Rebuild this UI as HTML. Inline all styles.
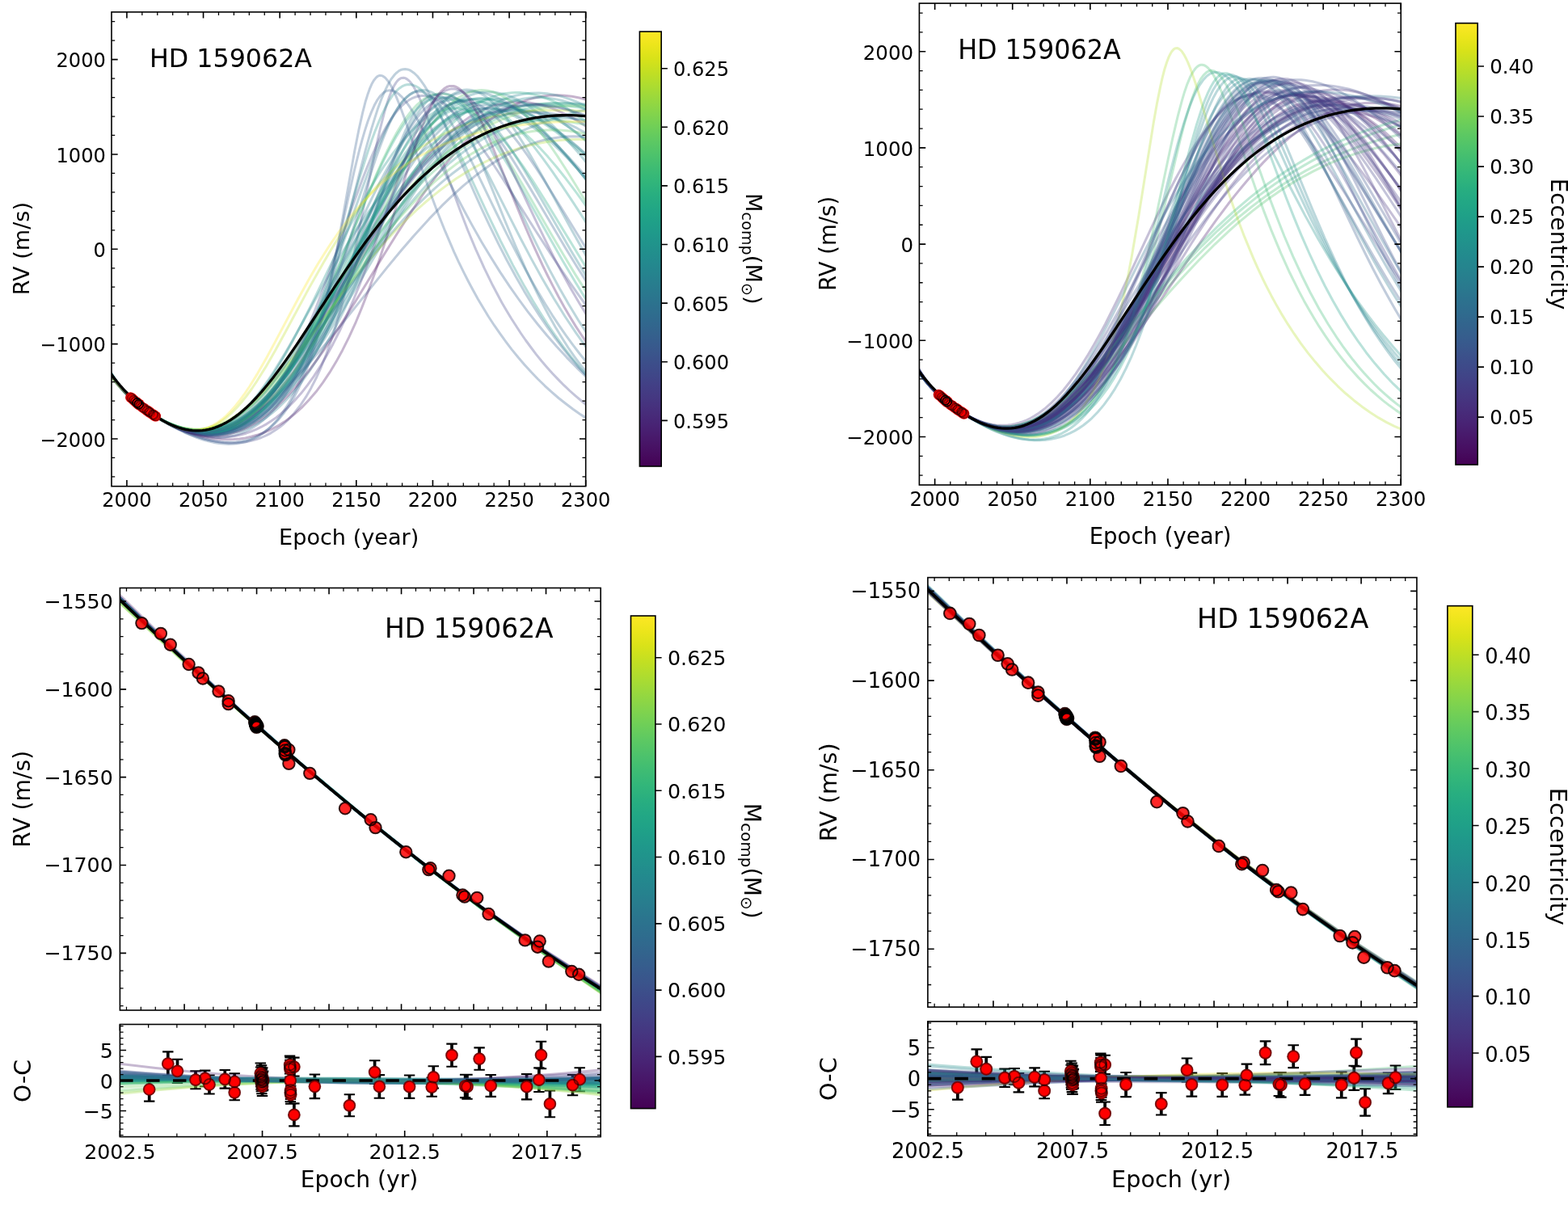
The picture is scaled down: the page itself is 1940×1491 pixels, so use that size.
<!DOCTYPE html>
<html lang="en"><head><meta charset="utf-8"><title>HD 159062A RV orbit</title>
<style>html,body{margin:0;padding:0;background:#fff;overflow:hidden}svg{display:block}text{font-family:'DejaVu Sans','Liberation Sans',sans-serif;fill:#000}</style></head><body>
<svg width="1940" height="1491" viewBox="0 0 1940 1491">
<defs>
<linearGradient id="vir" x1="0" y1="0" x2="0" y2="1"><stop offset="0" stop-color="#fde725"/><stop offset="0.0312" stop-color="#ece51b"/><stop offset="0.0625" stop-color="#d8e219"/><stop offset="0.0938" stop-color="#c2df23"/><stop offset="0.125" stop-color="#addc30"/><stop offset="0.1562" stop-color="#98d83e"/><stop offset="0.1875" stop-color="#84d44b"/><stop offset="0.2188" stop-color="#70cf57"/><stop offset="0.25" stop-color="#5ec962"/><stop offset="0.2812" stop-color="#4ec36b"/><stop offset="0.3125" stop-color="#3fbc73"/><stop offset="0.3438" stop-color="#32b67a"/><stop offset="0.375" stop-color="#28ae80"/><stop offset="0.4062" stop-color="#22a785"/><stop offset="0.4375" stop-color="#1fa088"/><stop offset="0.4688" stop-color="#1f988b"/><stop offset="0.5" stop-color="#21918c"/><stop offset="0.5312" stop-color="#23898e"/><stop offset="0.5625" stop-color="#26828e"/><stop offset="0.5938" stop-color="#297a8e"/><stop offset="0.625" stop-color="#2c728e"/><stop offset="0.6562" stop-color="#2f6b8e"/><stop offset="0.6875" stop-color="#33638d"/><stop offset="0.7188" stop-color="#375b8d"/><stop offset="0.75" stop-color="#3b528b"/><stop offset="0.7812" stop-color="#3e4989"/><stop offset="0.8125" stop-color="#424086"/><stop offset="0.8438" stop-color="#453781"/><stop offset="0.875" stop-color="#472d7b"/><stop offset="0.9062" stop-color="#482374"/><stop offset="0.9375" stop-color="#48186a"/><stop offset="0.9688" stop-color="#470d60"/><stop offset="1" stop-color="#440154"/></linearGradient>
<clipPath id="clipT"><rect x="138" y="14.9" width="586.7" height="586.8"/></clipPath>
<clipPath id="clipM"><rect x="148.4" y="727.5" width="594.8" height="522.5"/></clipPath>
<clipPath id="clipR"><rect x="148.4" y="1267.5" width="594.8" height="139.1"/></clipPath>
</defs>
<rect width="1940" height="1491" fill="#fff"/>
<g id="panel-tl">
<g clip-path="url(#clipT)">
<g stroke-width="3" stroke-opacity="0.31" fill="none" stroke-linejoin="round">
<polyline points="136.1,463.1 144.6,474.3 152.5,483.2 159.8,490.2 170.3,498.9 184.1,509.3 196.5,517.7 202.4,521.3 208.4,524.5 214.3,527.4 219.5,529.7 228.7,533 233.3,534.2 237.9,535.3 242.5,536 247.1,536.5 251.7,536.6 255.6,536.6 260.2,536.2 264.8,535.5 269.4,534.5 273.4,533.5 277.3,532.1 281.9,530.3 290.5,526.1 296.4,522.6 302.9,518.1 308.9,513.5 315.4,507.9 321.3,502.4 327.9,495.8 334.5,488.7 341.7,480.4 354.2,465 368.6,445.8 383.7,424.7 417.2,376.7 433,354.5 449.4,332.2 465.2,311.7 474.4,300.3 483.6,289.3 492.8,278.8 501.3,269.3 509.8,260.3 519,251 528.2,242.1 537.4,233.6 547.9,224.4 558.4,215.8 569,207.7 580.1,199.6 591.3,192.1 602.5,185 613.6,178.5 625.4,172.1 637.3,166.2 649.1,160.7 661.6,155.5 674,150.7 686.5,146.3 699.7,142.2 712.8,138.5 726.6,135.1" stroke="#2b758e"/>
<polyline points="136.1,463.3 143.3,472.9 150.6,481.3 157.8,488.5 165.7,495.2 179.5,506 191.9,514.8 203.1,521.5 209,524.7 214.3,527.1 222.8,530.5 231.3,532.9 235.9,533.8 239.9,534.3 243.8,534.6 247.8,534.7 251.7,534.5 255.6,534 259.6,533.3 263.5,532.3 267.5,531 271.4,529.4 278.6,525.8 284.5,522.2 290.5,517.8 296.4,512.8 302.3,507.2 308.2,501 314.1,494.1 320,486.7 326.6,477.8 332.5,469.3 339.1,459.3 352.2,437.9 366.7,412.8 398.8,354.9 413.9,328.4 430.4,300.9 438.2,288.4 445.5,277.4 454.7,264 463.2,252.2 471.7,241.1 480.9,229.8 489.5,220 498.7,210.1 507.9,201 517.1,192.5 527.6,183.6 538.7,175.1 549.9,167.5 561.7,160.3 573.6,154.1 586,148.3 598.5,143.4 611,139.2 624.1,135.7 637.3,132.8 651.1,130.6 665.5,128.9 680,128 695.1,127.7 710.8,128.1 726.6,129.2" stroke="#26828e"/>
<polyline points="136.1,462.9 144,473.4 151.9,482.5 159.1,489.6 168.9,497.8 182.7,508.4 195.2,516.9 201.1,520.5 207,523.8 213,526.9 218.9,529.5 228.1,532.9 232.7,534.3 237.3,535.4 241.9,536.2 246.5,536.8 251.1,537 255,537 259.6,536.7 263.5,536.2 268.1,535.4 272.1,534.4 276.7,532.9 280.6,531.3 285.2,529.2 289.1,527.2 295.7,523.2 302.3,518.4 308.9,513 316.1,506.3 322.6,499.5 329.9,491.3 336.4,483.2 343.7,473.6 350.2,464.4 357.5,453.7 371.9,431 387.7,404.5 421.2,346.5 436.3,320.8 452.7,294.1 467.8,271.1 477,257.8 485.5,246.1 494.1,235 502.6,224.5 511.2,214.6 519.7,205.4 528.2,196.7 537.4,188 547.9,178.9 558.4,170.7 569,163.3 579.5,156.8 590.6,150.6 601.8,145.3 613,140.8 624.8,136.8 636.6,133.6 648.4,131.1 660.9,129.3 673.4,128.2 686.5,127.7 699.7,128 712.8,129 726.6,130.7" stroke="#27ad81"/>
<polyline points="136.1,458.8 140.7,466.2 145.3,472.9 149.9,479 154.5,484.5 159.1,489.3 163.7,493.6 170.3,499.2 177.5,504.9 184.1,509.6 191.3,514.3 198.5,518.5 205.7,522.3 212.3,525.2 219.5,528.1 226.7,530.4 234,532.3 241.2,533.7 247.8,534.5 254.3,535 260.9,535.1 267.5,534.7 274,534 280.6,532.8 287.2,531.2 293.7,529.1 299.7,526.9 306.2,523.9 312.1,520.9 318.7,517 324.6,513.1 330.5,508.7 336.4,503.9 345,496.2 353.5,487.4 362.1,477.5 369.9,467.4 377.8,456.2 385.7,444 393.6,430.7 401.5,416.2 410,399.2 417.9,382.3 426.4,362.6 435,341.6 442.8,321.1 451.4,297.9 477,225.1 485.5,201.5 494.1,179.4 502,160.9 507.2,150 511.8,141.6 516.4,134.3 521,128.2 525.6,123.4 528.2,121.3 530.2,120 532.8,118.7 534.8,118 536.8,117.6 538.7,117.5 540.7,117.6 542.7,117.9 546.6,119.4 550.6,121.9 554.5,125.3 558.4,129.6 563,135.6 567.6,142.7 572.2,150.7 580.1,166.1 589.3,186.4 599.2,209.8 624.1,271.5 637.3,303.1 651.1,334.3 664.2,361.9 672.1,377.4 679.3,390.8 687.2,404.7 695.1,417.7 702.9,430 710.8,441.4 718.7,452.1 726.6,462" stroke="#2c718e"/>
<polyline points="136.1,461.5 140.7,468.3 146,475.3 151.2,481.6 156.5,487.1 161.1,491.3 169.6,498.4 177.5,504.5 186,510.6 194.6,516.3 203.1,521.5 211.6,526.3 220.2,530.7 228.7,534.5 237.3,538 245.8,540.9 254.3,543.4 262.2,545.3 269.4,546.6 276.7,547.5 283.9,547.9 291.1,548 297.7,547.6 304.3,546.7 310.8,545.4 317.4,543.6 323.3,541.5 329.2,538.9 335.1,535.8 341,532.1 346.3,528.3 351.5,524 356.8,519.1 364,511.2 371.3,502 378.5,491.2 385,479.9 391.6,467 397.5,453.8 403.4,439 409.3,422.5 415.3,404 421.2,383.6 426.4,363.8 432.3,339.5 437.6,316.3 442.8,291.7 459.9,207.3 465.2,182.3 470.4,159.1 475.7,138.6 479,127.5 481.6,119.8 484.9,111.6 487.5,106.3 490.1,102.1 491.4,100.4 493.4,98.4 496,96.8 497.4,96.4 499.3,96.2 501.3,96.6 503.9,98.1 506.6,100.4 509.2,103.5 511.8,107.4 514.4,112 517.1,117.2 520.3,124.4 524.9,135.5 530.2,149.4 536.1,166 552.5,213.8 561.1,238.1 570.3,263.1 578.8,285 588.7,308.6 599.2,331.9 609.7,353.3 620.8,374.2 626.8,384.4 632.7,394.2 644.5,412.5 650.4,421 657,430 663.5,438.6 670.1,446.7 676.7,454.4 683.9,462.5 690.5,469.4 697.7,476.7 704.9,483.5 712.1,489.9 719.4,496 726.6,501.8" stroke="#414487"/>
<polyline points="136.1,460.6 144,472 147.9,477.1 151.9,481.8 159.1,489.4 168.3,497.4 174.9,502.7 180.8,507.1 186.7,511.2 192.6,515 198.5,518.5 204.4,521.6 210.3,524.4 215.6,526.6 220.8,528.4 226.1,530 231.3,531.3 235.9,532.2 241.2,532.9 246.5,533.3 251.1,533.4 256.3,533.2 260.9,532.8 266.2,532.1 271.4,531.1 276.7,529.7 281.3,528.3 286.5,526.5 291.8,524.3 297,521.9 304.9,517.7 313.5,512.5 322,506.6 330.5,500.1 339.1,493 348.3,484.8 357.5,475.9 367.3,465.8 375.8,456.7 384.4,447.2 404.1,424.1 423.8,399.9 479,330.9 496.7,309.5 512.5,291.2 530.9,270.9 547.9,253.4 556.5,245.1 564.4,237.8 572.9,230.2 580.8,223.6 590.6,215.7 599.8,208.9 609,202.6 618.2,196.8 627.4,191.6 636.6,186.8 645.8,182.6 655,178.9 664.2,175.8 673.4,173.3 682.6,171.3 691.1,170 700.3,169.1 708.9,168.8 718.1,169 726.6,169.7" stroke="#375a8c"/>
<polyline points="136.1,462.2 144,473 147.9,477.9 151.9,482.4 159.1,489.7 168.9,498.1 181.4,507.7 188,512.3 193.9,516.2 199.8,519.7 205.7,523 211.6,525.9 217.6,528.5 222.8,530.5 227.4,532 232.7,533.4 237.3,534.4 241.9,535.2 246.5,535.7 251.1,535.9 255.6,535.8 260.2,535.5 264.8,534.9 269.4,534 274,532.8 278.6,531.3 283.2,529.5 291.8,525.4 299,521.1 306.9,515.6 314.1,509.8 322,502.6 329.9,494.6 337.8,485.8 345.6,476.3 353.5,466 360.7,456 368.6,444.6 377.2,431.5 385.7,418 402.8,389.7 438.2,329 454,302.5 470.4,276 485.5,253.1 494.1,240.8 502.6,229.1 511.2,218 519.7,207.6 528.2,197.8 536.8,188.6 545.3,180.2 553.2,173 563,164.7 572.9,157.4 582.7,151 593.3,145.1 603.8,140.1 614.3,136.1 624.8,133 635.3,130.8 645.8,129.4 657,128.9 668.1,129.2 679.3,130.3 690.5,132.2 702.3,135.1 714.1,138.8 726.6,143.6" stroke="#30698e"/>
<polyline points="136.1,460.8 141.4,468.6 146,474.8 150.6,480.4 155.2,485.5 159.8,490 165.7,495.2 172.9,501.1 180.1,506.5 187.3,511.6 194.6,516.3 201.8,520.5 209,524.3 216.2,527.7 223.5,530.6 230.7,533.1 237.9,535.2 244.5,536.6 251.1,537.7 257.6,538.4 263.5,538.6 270.1,538.5 276,538 282.6,537.1 288.5,535.8 295.1,534 301,532 306.9,529.6 312.8,526.8 318.7,523.5 324.6,519.9 330.5,515.8 336.4,511.3 341.7,506.9 346.3,502.7 355.5,493.5 364.7,483.2 373.9,471.7 383.1,458.9 392.3,444.9 401.5,429.6 410.7,413.1 418.5,398 426.4,382 434.3,365.2 442.8,346.3 458,311.1 490.1,233.5 503.3,203.4 509.8,189.2 515.8,177.1 521.7,165.8 526.9,156.4 532.8,146.8 538.1,139.1 544,131.5 549.2,125.7 555.2,120.3 560.4,116.5 565.7,113.8 570.9,111.9 574.2,111.3 577.5,111.1 580.8,111.2 584.1,111.7 587.3,112.5 590.6,113.7 593.9,115.2 597.2,117.1 600.5,119.3 604.4,122.3 607.7,125.1 611.6,128.9 618.9,136.7 626.8,146.6 634,156.6 641.2,167.5 649.1,180.1 658.3,195.7 672.1,220.1 708.2,286.2 726.6,319" stroke="#297a8e"/>
<polyline points="136.1,462.5 143.3,472.3 150.6,481 157.8,488.4 165.7,495.2 178.8,505.5 185.4,510.2 191.9,514.7 203.8,521.9 209.7,525 215.6,527.8 225.4,531.8 234.6,534.6 239.2,535.6 243.8,536.4 252.4,537.2 257,537.3 260.9,537.1 265.5,536.6 269.4,536 274,534.9 278,533.8 282.6,532.2 286.5,530.5 291.1,528.3 295.1,526.1 302.9,520.9 310.8,514.8 318.7,507.6 326.6,499.4 335.1,489.3 343,478.9 351.5,466.6 359.4,454.3 367.3,441.1 375.8,425.9 384.4,410 401.5,376.2 435,306.9 448.8,279.1 463.9,250.2 471.1,237.2 477.7,225.9 486.2,212 494.1,200 502,188.9 509.8,178.7 517.7,169.5 524.9,161.8 532.8,154.4 540.7,147.8 545.3,144.5 550.6,141 555.2,138.3 560.4,135.6 565,133.5 570.3,131.5 574.9,130 580.1,128.7 585.4,127.7 590.6,127.1 595.9,126.8 601.1,126.8 606.4,127.1 611.6,127.7 616.9,128.5 622.8,129.9 628.1,131.3 634,133.2 639.9,135.5 645.8,138 651.7,140.8 658.3,144.2 670.8,151.5 683.9,160.3 697.7,170.6 711.5,181.9 726.6,195.1" stroke="#1f948c"/>
<polyline points="136.1,462.1 144,473 147.9,477.9 151.9,482.4 159.1,489.7 168.3,497.5 174.9,502.6 181.4,507.5 188,512 193.9,515.8 199.8,519.4 205.7,522.6 211.6,525.4 217.6,528 222.8,530 228.1,531.7 233.3,533.1 237.9,534.1 243.2,534.9 247.8,535.4 252.4,535.7 257,535.6 262.2,535.3 266.8,534.7 271.4,533.9 276,532.8 280.6,531.4 285.2,529.8 289.8,527.8 294.4,525.6 302.3,521.2 310.8,515.4 319.4,508.7 327.9,501 336.4,492.3 345,482.8 353.5,472.4 362.7,460.3 370.6,449.2 379.1,436.5 388.3,422.1 397.5,407.1 415.9,375.7 452,311.8 467.1,285.6 482.9,259.3 497.4,236.7 505.9,224.1 514.4,212.1 523,200.9 530.9,191.1 538.7,182 546.6,173.6 554.5,165.8 562.4,158.8 571.6,151.4 581.4,144.6 590.6,139.3 595.2,136.9 600.5,134.6 605.1,132.8 610.3,130.9 614.9,129.6 620.2,128.4 624.8,127.5 630,126.8 639.9,126.2 649.7,126.5 655,127.1 660.3,127.9 670.8,130.2 676,131.7 681.9,133.7 692.4,138 703.6,143.4 714.8,149.7 726.6,157.2" stroke="#481c6e"/>
<polyline points="136.1,459.9 140.7,466.9 145.3,473.4 149.9,479.3 153.8,483.8 157.8,488 161.1,491.1 167.6,496.8 174.2,502.2 180.8,507.1 187.3,511.6 193.9,515.8 200.5,519.5 207,522.8 213,525.4 219.5,527.8 225.4,529.7 231.3,531.1 236.6,532.1 242.5,532.8 247.8,533.1 253.7,533 258.9,532.6 264.2,531.8 269.4,530.7 274.7,529.2 280,527.4 285.2,525.2 290.5,522.6 295.7,519.6 301,516.2 306.2,512.4 311.5,508.2 320,500.4 328.6,491.6 337.1,481.5 345,471.2 352.9,459.8 361.4,446.4 369.3,433 377.8,417.3 385,403.3 392.3,388.4 399.5,372.9 407.4,355.3 421.2,323.2 452,249 465.8,217.4 472.4,203.2 479,189.9 484.9,178.6 490.8,168.1 497.4,157.5 503.9,148.2 510.5,140.1 516.4,134 522.3,129 528.2,125.2 530.9,123.9 534.1,122.5 537.4,121.5 540.7,120.9 544,120.6 547.9,120.7 551.2,121.2 555.2,122.1 558.4,123.3 562.4,125.1 565.7,126.9 569.6,129.5 572.9,131.9 576.8,135.2 580.8,138.8 584.7,142.8 593.3,152.5 601.8,163.5 608.4,172.7 615.6,183.5 623.5,195.9 632,209.9 647.8,237.1 681.3,296.5 696.4,322.9 712.1,349.5 726.6,372.9" stroke="#20a486"/>
<polyline points="136.1,461.6 140.7,468.2 144.6,473.4 149.2,479.1 153.2,483.5 160.4,490.6 172.2,500.5 178.8,505.6 185.4,510.3 191.9,514.7 197.8,518.3 203.8,521.6 209.7,524.5 215.6,527.1 220.8,529 226.1,530.6 230.7,531.7 235.9,532.7 240.5,533.2 245.1,533.4 249.7,533.3 254.3,532.9 258.9,532.1 263.5,531 268.1,529.6 272.7,527.9 276.7,526.1 281.3,523.6 285.9,520.8 290.5,517.7 294.4,514.6 301,509 307.5,502.6 314.1,495.4 321.3,486.7 328.6,477 335.8,466.5 343,455.3 350.2,443.3 362.7,420.9 375.8,395.7 389,369.3 421.8,301.7 431.7,282 440.2,265.5 449.4,248.4 458.6,232.2 467.8,217 476.3,203.8 486.2,189.7 495.4,177.8 504.6,167.1 513.8,157.7 523,149.4 532.2,142.3 541.4,136.3 546,133.7 551.2,131.1 555.8,129.2 560.4,127.5 565,126 570.3,124.6 579.5,123 584.1,122.6 589.3,122.3 593.9,122.3 599.2,122.6 609,123.9 619.5,126.2 630,129.4 641.2,133.8 652.4,139.2 663.5,145.3 675.4,152.7 687.8,161.3 700.3,170.7 713.5,181.4 726.6,192.9" stroke="#20928c"/>
<polyline points="136.1,460.4 140.7,467.4 145.3,473.7 149.9,479.5 154.5,484.8 159.1,489.4 163.7,493.5 170.9,499.5 178.1,505.1 185.4,510.3 192.6,515.1 199.8,519.4 206.4,522.9 213.6,526.4 220.2,529.1 227.4,531.7 234,533.5 240.5,535 246.5,536 252.4,536.5 258.3,536.7 264.2,536.5 270.1,535.9 276,534.9 281.3,533.6 287.2,531.7 292.4,529.5 297.7,527 302.9,524 308.2,520.6 313.5,516.8 318.7,512.4 323.3,508.1 327.9,503.5 331.8,499.1 339.7,489.5 347.6,478.5 354.8,467.1 362.7,453.1 369.9,438.9 377.2,423.3 384.4,406.2 390.3,391.2 396.9,373.4 402.8,356.5 409.3,336.6 421.2,298.8 444.8,220 455.3,187 459.9,173.6 464.5,161.1 468.5,151.2 472.4,142.1 477,132.6 480.9,125.5 485.5,118.4 489.5,113.5 493.4,109.7 497.4,106.9 501.3,105.2 503.3,104.7 505.9,104.4 509.8,104.9 513.8,106.3 517.7,108.5 522.3,112.2 526.3,116.2 530.9,121.7 535.5,128.1 540.7,136.2 545.3,144 550.6,153.6 561.7,175.6 572.9,199.2 602.5,263.1 619.5,298.5 634.6,328.1 649.1,354.6 658.9,371.6 668.1,386.6 677.3,401 687.2,415.5 697,429.1 706.9,442 716.7,454 726.6,465.2" stroke="#21918c"/>
<polyline points="136.1,460.5 140.7,467.4 145.3,473.7 149.9,479.5 154.5,484.7 158.4,488.7 163,492.9 169.6,498.5 176.2,503.7 183.4,509 190,513.4 196.5,517.4 203.1,521.1 209.7,524.3 216.2,527.2 222.8,529.6 228.7,531.4 234.6,532.8 240.5,533.9 246.5,534.5 251.7,534.8 257.6,534.7 262.9,534.2 268.1,533.4 273.4,532.3 278.6,530.8 283.9,528.9 289.1,526.7 294.4,524 299.7,521 304.9,517.5 310.2,513.6 314.8,509.8 323.3,502 331.2,493.6 339.7,483.4 347.6,472.9 355.5,461.3 363.4,448.5 371.3,434.8 379.8,418.6 386.4,405.4 393.6,390.1 400.8,374.1 408.7,355.8 422.5,322.4 452.7,246.7 466.5,213.9 473.1,199.2 479,186.8 484.9,175.1 490.8,164.2 497.4,153.3 503.3,144.6 509.8,136.2 515.8,129.9 521.7,124.7 524.3,122.8 527.6,120.7 530.2,119.3 533.5,117.9 536.8,116.9 540.1,116.2 543.3,115.9 546.6,115.9 549.9,116.2 553.8,117.1 557.1,118.1 561.1,119.8 564.4,121.5 568.3,124 572.2,126.8 576.2,130.1 580.1,133.6 584.1,137.5 592.6,147 601.1,157.8 608.4,167.7 615.6,178.2 623.5,190.4 632,204.1 648.4,231.6 681.9,289.4 697,315.1 712.1,340.1 726.6,363.1" stroke="#44bf70"/>
<polyline points="136.1,464 140.7,470.2 146,476.7 150.6,481.8 155.8,487.1 160.4,491.2 168.3,497.4 176.8,503.8 185.4,509.9 193.9,515.7 202.4,521.1 211,526.1 219.5,530.7 228.1,535 235.9,538.4 243.8,541.5 251.1,544 257.6,545.8 264.2,547.4 270.8,548.5 276.7,549.1 282.6,549.4 287.8,549.2 293.7,548.7 299,547.8 304.3,546.5 309.5,544.7 314.8,542.4 319.4,540 324,537.1 328.6,533.7 333.2,529.8 337.1,526 343,519.5 348.9,511.8 354.8,502.9 360.1,493.9 365.3,483.7 370.6,472.2 375.8,459.4 381.1,445.2 386.4,429.5 391.6,412.2 396.9,393.5 402.8,370.6 408,348.8 413.3,325.8 431.7,241 438.2,211.8 444.8,185 448.1,172.8 451.4,161.6 455.3,149.5 459.3,139.1 463.2,130.3 467.1,123.3 469.1,120.5 471.1,118 473.1,116 475,114.4 477,113.2 479,112.4 480.9,111.9 482.9,111.8 486.2,112.3 489.5,113.7 492.8,115.9 496,118.8 499.3,122.3 503.3,127.2 507.2,132.7 511.8,140 518.4,151.3 526.3,166 563,239 573.6,259.2 584.1,278.6 595.9,299.4 607.1,318.1 618.9,336.9 630.7,354.7 641.9,370.5 653,385.6 664.9,400.7 676.7,415 688.5,428.6 701,442.1 713.5,454.8 726.6,467.5" stroke="#355f8d"/>
<polyline points="136.1,461.5 140.7,468.1 145.3,474.1 149.9,479.7 153.8,484.1 161.1,491 174.2,501.9 181.4,507.5 188,512.1 194.6,516.5 201.1,520.6 207.7,524.3 214.3,527.6 220.8,530.5 226.7,532.8 232.7,534.8 237.9,536.3 243.2,537.5 248.4,538.5 254.3,539.2 259.6,539.5 264.8,539.5 270.1,539.2 275.4,538.6 280.6,537.7 285.9,536.4 291.1,534.9 296.4,533 301.6,530.8 306.9,528.3 312.1,525.5 320.7,520.2 329.2,514.1 337.8,507.1 346.9,498.7 356.1,489.4 365.3,479.3 374.5,468.3 384.4,455.7 392.9,444.2 401.5,432.1 410.7,418.5 420.5,403.5 439.6,373.2 475,315.3 490.1,291 505.9,266.4 520.3,244.8 528.9,232.7 536.8,221.9 544.7,211.5 552.5,201.6 560.4,192.2 567.6,184.1 574.9,176.4 582.1,169.1 591.3,160.5 599.8,153.3 609,146.2 617.6,140.4 626.1,135.2 635.3,130.4 643.8,126.7 653,123.4 661.6,121 670.8,119.2 680,118.1 689.2,117.8 698.3,118.2 707.5,119.2 716.7,121 726.6,123.5" stroke="#460b5e"/>
<polyline points="136.1,461.2 140.7,467.9 145.3,474.1 149.9,479.7 153.8,484.1 157.8,488.1 161.7,491.7 168.9,497.9 175.5,503.1 182.7,508.5 189.3,513 195.9,517.2 202.4,521 209,524.4 214.9,527.1 221.5,529.8 227.4,531.8 233.3,533.4 238.6,534.6 244.5,535.5 249.7,536.1 255,536.2 260.2,536.1 265.5,535.6 270.8,534.8 276,533.7 281.3,532.2 286.5,530.3 291.8,528.1 297,525.5 302.3,522.6 307.5,519.3 312.1,516 320,509.9 328.6,502.2 336.4,494.2 345,484.7 352.9,475 361.4,463.6 369.9,451.4 378.5,438.3 385.7,426.6 392.9,414.4 400.8,400.6 409.3,385.2 424.5,356.8 460.6,287.2 478.3,254.4 487.5,238.4 496,224.2 504.6,210.8 512.5,199.2 521,187.6 528.9,177.8 537.4,168.2 545.3,160.4 553.8,153.1 561.7,147.4 569.6,142.7 577.5,139 585.4,136.3 589.3,135.3 593.9,134.5 601.8,133.8 605.7,133.8 610.3,134.1 614.3,134.6 618.9,135.5 627.4,137.8 636,141.2 645.1,145.7 654.3,151.3 663.5,157.7 672.7,165 682.6,173.6 693.1,183.7 703.6,194.5 714.8,206.8 726.6,220.6" stroke="#2d708e"/>
<polyline points="136.1,461.8 144,472.8 151.2,481.5 158.4,488.9 167,496.3 179.5,506.1 186,510.8 191.9,514.7 197.8,518.4 203.8,521.7 209.7,524.7 214.9,527.1 224.8,530.8 230,532.4 234.6,533.5 239.2,534.4 243.8,535 248.4,535.4 253,535.5 257.6,535.4 262.2,535 266.8,534.2 270.8,533.4 275.4,532.2 280,530.7 288.5,527 297,522.3 305.6,516.6 313.5,510.3 322,502.5 330.5,493.6 339.1,483.8 347.6,472.9 356.1,461 364,449.3 372.6,435.8 381.1,421.6 390.3,405.6 408.7,371.8 443.5,305.2 458.6,277 474.4,248.9 481.6,236.7 488.8,224.9 497.4,211.7 505.2,200.2 513.8,188.6 521.7,178.6 529.5,169.5 537.4,161.2 545.3,153.6 553.2,146.9 557.8,143.4 563,139.7 567.6,136.8 572.9,133.8 577.5,131.5 582.7,129.1 587.3,127.4 592.6,125.7 597.2,124.5 602.5,123.4 607.7,122.7 613,122.3 617.6,122.2 622.8,122.3 628.1,122.8 633.3,123.5 638.6,124.6 643.8,125.9 649.1,127.4 655,129.5 660.3,131.6 666.2,134.2 677.3,140 689.2,147.2 701,155.3 713.5,164.9 726.6,176" stroke="#1f978b"/>
<polyline points="136.1,460 140.7,467 145.3,473.5 149.9,479.4 155.2,485.3 159.8,489.9 165,494.6 171.6,500 178.1,505.1 185.4,510.3 192.6,515 199.8,519.2 207,523 214.3,526.4 221.5,529.3 228.7,531.8 235.3,533.6 241.9,535 248.4,536.1 255,536.7 261.6,536.9 268.1,536.7 274,536.2 280.6,535.1 286.5,533.8 293.1,531.9 299,529.8 304.9,527.2 310.8,524.3 316.7,520.9 322.6,517 328.6,512.8 333.8,508.5 341.7,501.5 349.6,493.5 357.5,484.6 365.3,474.8 373.2,463.8 380.4,452.9 388.3,439.9 395.6,427.1 404.1,410.6 412.6,392.9 421.2,373.9 429.7,353.7 438.2,332.4 446.8,310.1 474.4,235.4 484.2,209.4 494.7,183.6 499.3,173.1 503.9,163.3 509.8,151.8 515.1,142.7 520.3,134.9 525.6,128.3 528.2,125.5 530.9,123 533.5,120.9 536.1,119.1 538.7,117.7 541.4,116.7 544,116 546.6,115.6 549.2,115.6 551.9,116 554.5,116.6 557.1,117.6 559.8,119 562.4,120.6 567.6,124.7 572.9,130 578.8,137.1 584.7,145.4 591.3,155.7 595.9,163.6 601.1,173.1 612.3,194.7 623.5,217.7 658.3,290.9 670.1,314.7 680.6,335.1 692.4,357 703.6,376.5 715.4,396 726.6,413.2" stroke="#297b8e"/>
<polyline points="136.1,460.9 143.3,471.3 150.6,480.4 157.8,488.1 165.7,495.2 177.5,504.7 183.4,509 189.3,513 195.2,516.6 200.5,519.6 205.7,522.2 211,524.5 220.2,527.8 224.8,529.1 229.4,530.1 234,530.8 238.6,531.3 243.2,531.5 247.1,531.4 251.7,531 255.6,530.5 260.2,529.6 264.2,528.6 272.7,525.7 277.3,523.8 281.9,521.5 288.5,517.8 295.7,513.1 302.9,507.7 310.2,501.6 317.4,495 325.3,487 333.2,478.5 341,469.3 348.3,460.4 356.1,450.3 372.6,428 389.6,403.4 427.1,347.9 443.5,324 461.2,299.2 477.7,277.4 487.5,265 496.7,253.9 505.9,243.3 515.1,233.3 524.3,223.8 532.8,215.5 542,207.1 550.6,199.8 561.1,191.5 571.6,184 582.1,177.2 593.3,170.8 603.8,165.6 614.9,160.8 625.4,157 636.6,153.8 647.1,151.5 658.3,149.8 669.4,148.9 680.6,148.7 691.8,149.1 703.6,150.4 714.8,152.4 726.6,155.1" stroke="#44bf70"/>
<polyline points="136.1,461.1 144,472.4 147.9,477.4 151.9,482 159.1,489.4 168.9,497.9 181.4,507.6 188,512.1 193.9,516 200.5,519.9 206.4,523 212.3,525.9 218.2,528.4 223.5,530.4 228.7,532.1 234,533.5 239.2,534.7 244.5,535.5 249.7,536.1 255,536.3 259.6,536.3 264.8,536 269.4,535.5 274.7,534.6 279.3,533.5 284.5,532 289.1,530.5 294.4,528.4 299,526.3 308.2,521.4 317.4,515.5 326.6,508.6 336.4,500.1 345.6,491.2 355.5,480.7 365.3,469.2 375.2,456.8 384.4,444.4 393.6,431.3 403.4,416.5 413.9,400.1 433.6,367.9 470.4,305.7 485.5,280.5 501.3,255.3 515.1,234.5 523.6,222.3 531.5,211.6 539.4,201.5 547.3,192 555.2,183.2 562.4,175.7 569.6,168.8 576.8,162.6 586,155.5 595.2,149.6 604.4,144.6 613,141.1 621.5,138.4 626.1,137.4 630.7,136.6 635.3,136 639.9,135.8 644.5,135.8 649.1,136 653.7,136.5 658.3,137.3 667.5,139.5 676.7,142.7 686.5,147.1 696.4,152.5 706.2,158.8 716.1,166 726.6,174.6" stroke="#277f8e"/>
<polyline points="136.1,461 140.7,467.8 145.3,474 149.9,479.8 153.8,484.2 157.8,488.2 161.1,491.3 167.6,496.9 174.2,502.2 180.8,507.2 187.3,511.8 193.9,516 200.5,519.9 207,523.3 213,526 219.5,528.7 225.4,530.6 231.3,532.2 236.6,533.3 241.9,534.1 247.1,534.5 252.4,534.6 257.6,534.4 262.9,533.9 268.1,533 273.4,531.7 278.6,530.1 283.9,528.1 289.1,525.7 294.4,522.9 299.7,519.8 304.9,516.3 309.5,512.9 317.4,506.4 325.3,499 333.2,490.7 341.7,480.8 350.2,469.9 358.8,458.1 367.3,445.4 375.8,431.9 383.1,419.8 390.3,407.2 398.2,392.9 406.7,377 422.5,346.4 458,275.9 467.8,256.9 476.3,240.9 485.5,224.3 494.1,209.6 502.6,195.7 510.5,183.7 519,171.7 527.6,160.6 536.1,150.7 544,142.6 552.5,134.9 560.4,128.9 568.3,123.9 576.2,119.9 584.1,117 588,115.8 592.6,114.9 596.5,114.3 601.1,113.9 605.1,113.9 609.7,114.1 613.6,114.6 618.2,115.4 622.2,116.3 626.8,117.7 635.3,120.9 644.5,125.4 653.7,131 662.9,137.4 672.7,145.3 682.6,154.1 693.1,164.4 703.6,175.5 714.8,188.1 726.6,202.3" stroke="#25838e"/>
<polyline points="136.1,461.1 140.7,467.8 145.3,474.1 149.9,479.7 154.5,484.9 159.1,489.4 163.7,493.5 170.9,499.5 178.1,505.1 185.4,510.3 192.6,515.1 199.8,519.5 206.4,523.1 213.6,526.6 220.2,529.5 226.7,531.9 233.3,534 239.9,535.6 245.8,536.8 251.7,537.5 257.6,537.9 263.5,538 269.4,537.6 275.4,536.8 280.6,535.8 286.5,534.3 291.8,532.5 297.7,530.1 302.9,527.6 308.2,524.7 313.5,521.4 318.7,517.7 324,513.6 332.5,506.1 341,497.3 349.6,487.4 357.5,477.2 366,464.9 373.9,452.4 382.4,437.7 391,421.7 398.2,407.3 405.4,392 412.6,376 420.5,357.7 434.3,324.2 464.5,248.3 478.3,215.4 484.9,200.8 490.8,188.3 496.7,176.7 502,167.1 507.9,157.3 513.8,148.6 519.7,141 525.6,134.5 531.5,129.3 536.8,125.7 539.4,124.3 542.7,122.8 545.3,121.9 548.6,121.1 551.9,120.6 555.2,120.5 558.4,120.8 562.4,121.5 565.7,122.5 569,123.8 572.2,125.5 576.2,127.8 579.5,130 583.4,133.1 587.3,136.5 591.3,140.2 599.2,148.7 607.7,159.1 614.9,168.7 622.2,179.1 630,190.9 639.2,205.5 655,231.4 700.3,307.9 714.1,330.5 726.6,350.2" stroke="#355f8d"/>
<polyline points="136.1,460.7 140.7,467.5 144.6,472.9 149.2,478.7 153.2,483.2 157.1,487.4 161.1,491.1 173.5,501.7 180.1,506.7 186.7,511.4 193.3,515.8 199.8,519.7 206.4,523.3 212.3,526.1 218.2,528.6 224.1,530.7 229.4,532.2 234.6,533.4 239.9,534.3 245.1,534.9 250.4,535.2 255.6,535.1 260.9,534.7 265.5,534 270.8,532.9 276,531.4 281.3,529.5 285.9,527.6 291.1,525 295.7,522.4 301,519.1 305.6,515.9 313.5,509.7 321.3,502.6 329.2,494.6 337.1,485.8 345,476.2 353.5,464.8 362.1,452.6 370.6,439.5 377.8,427.8 385,415.6 400.8,387.5 415.9,359.2 451.4,291.3 461.2,273 469.8,257.6 479,241.6 488.2,226.4 496.7,213.1 504.6,201.6 513.1,190.1 521.7,179.5 530.2,170.1 538.7,161.7 547.3,154.4 555.2,148.7 559.1,146.2 563.7,143.6 567.6,141.6 572.2,139.6 576.2,138.2 580.8,136.8 584.7,135.8 589.3,135 593.3,134.6 597.9,134.3 601.8,134.4 606.4,134.7 614.9,136 619.5,137.1 624.1,138.5 633.3,142.1 642.5,146.6 651.7,152.1 661.6,158.9 671.4,166.6 681.9,175.8 692.4,185.8 703.6,197.3 714.8,209.5 726.6,223.2" stroke="#25838e"/>
<polyline points="136.1,461.4 140.7,468.1 146,475.1 150.6,480.7 155.8,486.3 160.4,490.7 167,496.3 174.9,502.5 182.1,507.9 190,513.4 197.8,518.4 205.7,522.9 213,526.7 220.8,530.4 228.1,533.3 235.9,536.1 243.2,538.1 249.7,539.6 256.3,540.6 262.9,541.3 268.8,541.4 274.7,541.2 280.6,540.6 286.5,539.6 292.4,538.1 298.3,536.1 303.6,534 308.9,531.4 314.1,528.3 319.4,524.7 324.6,520.6 329.9,516 334.5,511.5 341.7,503.4 348.3,494.9 354.8,485.3 360.7,475.6 367.3,463.6 373.2,451.6 379.1,438.4 385,424 391.6,406.4 398.2,387.3 404.7,366.5 411.3,344.1 417.2,322.8 423.8,298 444.8,214.4 452,186.6 459.9,158.4 463.9,145.6 467.1,135.6 471.7,123 475.7,113.6 480.3,104.2 484.2,97.6 488.2,92.5 490.1,90.5 492.8,88.3 494.7,87.1 496.7,86.2 498.7,85.7 501.3,85.5 504.6,86 506.6,86.7 508.5,87.7 512.5,90.5 516.4,94.3 520.3,99.1 524.9,105.6 529.5,113 534.1,121.3 541.4,135.5 549.9,153.8 586.7,237.8 596.5,259.6 606.4,280.6 616.9,302.1 627.4,322.5 637.9,341.8 648.4,360.1 657.6,375.3 667.5,390.6 676.7,404.2 686.5,417.9 696.4,430.9 706.2,443.1 716.1,454.5 726.6,466" stroke="#31678e"/>
<polyline points="136.1,460.5 140.7,467.4 145.3,473.8 149.9,479.6 154.5,484.8 158.4,488.8 163,492.9 170.3,499 176.8,504.2 184.1,509.4 190.6,513.8 197.8,518.2 204.4,521.8 211.6,525.4 218.2,528.2 224.8,530.6 231.3,532.6 237.9,534.1 243.8,535.2 249.7,535.9 255.6,536.2 261.6,536.1 267.5,535.7 273.4,534.8 278.6,533.7 284.5,532.1 289.8,530.3 295.7,527.9 301,525.4 306.9,522.1 312.1,518.8 317.4,515.2 322.6,511.1 331.8,503.1 340.4,494.5 348.9,484.9 357.5,474.2 366,462.3 374.5,449.3 383.1,435.3 392.3,418.9 399.5,405.2 407.4,389.4 415.3,372.9 423.1,355.6 437.6,322.6 469.1,248.3 482.9,217.4 489.5,203.5 496,190.4 502,179.4 507.9,169.1 514.4,158.8 520.3,150.5 526.3,143.2 532.2,137 538.1,131.9 544,128 546.6,126.6 549.9,125.2 552.5,124.3 555.8,123.5 559.1,123 562.4,122.9 565.7,123.1 569.6,123.8 572.9,124.7 576.8,126.2 580.1,127.8 584.1,130.1 587.3,132.3 591.3,135.3 595.2,138.7 599.2,142.4 607.1,150.8 615.6,161.3 622.8,171 630.7,182.3 639.2,195.5 648.4,210.3 664.9,238 706.2,309.8 726.6,343.9" stroke="#287d8e"/>
<polyline points="136.1,462.8 144,473.4 151.9,482.5 159.1,489.6 169.6,498.4 183.4,508.8 190,513.4 196.5,517.7 203.1,521.6 209,524.9 214.9,527.8 220.8,530.5 230.7,534.1 235.9,535.7 240.5,536.8 245.8,537.8 250.4,538.4 255,538.7 259.6,538.8 264.2,538.6 268.8,538.2 273.4,537.4 277.3,536.6 281.9,535.3 286.5,533.7 291.1,531.8 295.1,530 302.9,525.5 310.8,520.2 318,514.5 325.9,507.4 333.8,499.3 341.7,490.4 349.6,480.6 358.1,469 365.3,458.6 373.2,446.5 381.8,432.7 390.3,418.2 407.4,387.9 441.5,324.8 456,298.7 471.1,272.6 485.5,249.2 494.1,236.3 502,225 510.5,213.5 518.4,203.6 526.9,193.6 534.8,185.1 542.7,177.4 550.6,170.4 560.4,162.6 570.3,155.8 580.1,150.2 590,145.6 599.8,141.9 605.1,140.4 610.3,139.1 615.6,138.1 620.8,137.3 626.1,136.8 632,136.5 637.3,136.5 643.2,136.8 654.3,138 665.5,140.1 677.3,143.3 689.2,147.4 701.6,152.6 714.1,158.7 726.6,165.6" stroke="#2d718e"/>
<polyline points="136.1,461.6 144,472.6 151.2,481.3 158.4,488.8 166.3,495.7 178.8,505.6 184.7,509.8 190.6,513.7 196.5,517.4 201.8,520.3 207,522.9 212.3,525.2 221.5,528.5 230,530.6 234.6,531.3 239.2,531.8 243.8,532 247.8,531.9 252.4,531.5 256.3,530.9 260.9,529.9 264.8,528.8 269.4,527.3 273.4,525.7 281.9,521.5 288.5,517.5 295.1,513 301.6,507.8 308.9,501.4 315.4,495 322.6,487.4 329.9,479.2 337.1,470.4 343.7,462.1 350.9,452.4 366,431 382.4,406.5 417.9,351.9 434.3,327.2 451.4,302.3 467.8,279.8 477,267.8 486.2,256.2 495.4,245.2 504.6,234.7 513.8,224.8 522.3,216.1 531.5,207.2 540.7,198.8 551.2,190 562.4,181.3 572.9,173.8 584.1,166.7 595.2,160.2 606.4,154.4 617.6,149.4 629.4,144.7 641.2,140.8 653,137.6 664.9,135 676.7,133.1 689.2,131.7 701.6,131 714.1,131 726.6,131.5" stroke="#73d056"/>
<polyline points="136.1,463 142.7,471.8 149.2,479.6 155.8,486.5 162.4,492.4 176.2,503.5 188,512.1 199.2,519.2 204.4,522.1 209.7,524.7 217.6,528 225.4,530.4 229.4,531.3 233.3,531.9 240.5,532.3 244.5,532.2 247.8,531.8 254.3,530.5 258.3,529.3 261.6,528 268.1,524.8 274,521.1 280,516.7 285.9,511.6 292.4,505 298.3,498.3 304.9,490 311.5,481 318,471.3 328.6,454.4 340.4,434 352.2,412.5 382.4,356.4 400.2,324.9 409.3,309.4 417.9,295.6 426.4,282.5 435,270.1 442.2,260.2 450.1,249.9 458,240.2 465.8,231.1 473.7,222.5 481.6,214.6 489.5,207.1 498,199.6 509.2,190.7 521,182.2 532.8,174.7 545.3,167.7 557.8,161.6 570.9,156.1 584.1,151.4 597.9,147.3 612.3,143.8 626.8,141.1 641.9,139 657.6,137.5 674,136.6 691.1,136.4 708.9,136.8 726.6,137.9" stroke="#bddf26"/>
<polyline points="136.1,460.8 140.7,467.6 145.3,473.9 149.9,479.6 154.5,484.7 158.4,488.7 163,492.9 170.3,498.9 176.8,504.1 184.1,509.4 190.6,513.8 197.2,517.9 203.8,521.6 210.3,524.9 216.9,527.8 223.5,530.3 230,532.4 235.9,533.9 241.9,535 247.8,535.8 253,536.1 258.9,536.2 264.2,535.8 270.1,535.1 275.4,534.1 281.3,532.6 286.5,530.9 291.8,528.8 297,526.4 302.3,523.6 307.5,520.4 312.8,516.9 318,512.9 326.6,505.7 335.1,497.5 343.7,488.2 352.2,477.9 360.7,466.6 369.3,454.2 377.8,440.8 386.4,426.5 393.6,413.7 401.5,399 409.3,383.6 417.2,367.7 432.3,336 465.8,263.7 481.6,231.2 489.5,215.8 496.7,202.4 503.9,189.8 510.5,179.2 517.7,168.3 524.9,158.6 532.2,149.9 538.7,143.1 546,136.7 552.5,132 559.1,128.3 562.4,126.8 566.3,125.4 570.3,124.3 574.2,123.6 578.2,123.2 582.1,123.2 586,123.5 590,124.2 593.9,125.2 597.9,126.5 601.8,128.1 605.7,130 609.7,132.2 614.3,135.1 622.8,141.5 632,149.5 641.2,158.8 650.4,169.1 660.3,181.1 671.4,195.7 682.6,211.2 695.1,229.4 708.9,250.1 726.6,277.4" stroke="#1f948c"/>
<polyline points="136.1,461 143.3,471.4 150.6,480.4 157.8,488.1 165,494.6 176.8,504.2 188,512.1 193.3,515.4 198.5,518.5 203.8,521.2 209,523.6 213.6,525.5 218.2,527.1 226.7,529.3 235.3,530.6 239.9,530.9 243.8,530.9 248.4,530.7 252.4,530.2 256.3,529.6 260.9,528.5 269.4,525.8 278,522.1 284.5,518.6 291.1,514.6 297.7,510 304.3,504.9 310.8,499.4 318,492.7 325.3,485.6 332.5,478 346.3,462.5 361.4,444.1 377.8,423.2 414.6,374.9 431.7,352.8 449.4,330.8 466.5,310.6 476.3,299.5 486.2,288.8 496,278.6 505.2,269.5 515.1,260.2 524.3,252 533.5,244.2 542.7,236.8 553.2,228.9 564.4,221.1 575.5,214 586.7,207.4 597.9,201.5 609,196.1 620.2,191.3 632,186.9 643.2,183.2 655,180 666.8,177.3 678.6,175.2 690.5,173.7 702.3,172.8 714.1,172.4 726.6,172.6" stroke="#b0dd2f"/>
<polyline points="136.1,462.3 140.7,468.9 146,475.7 150.6,481.1 155.8,486.7 160.4,490.9 168.3,497.4 176.2,503.5 184.7,509.6 193.3,515.4 201.8,520.7 210.3,525.5 218.9,530 227.4,534 235.3,537.3 243.8,540.3 251.7,542.7 258.9,544.5 266.2,545.9 272.7,546.8 279.3,547.2 285.9,547.3 291.8,546.9 297.7,546.1 303.6,544.9 309.5,543.1 314.8,541.1 320,538.6 325.3,535.6 330.5,532.1 335.1,528.4 339.7,524.2 344.3,519.5 350.9,511.6 357.5,502.2 363.4,492.3 369.3,480.9 374.5,469.2 379.8,456.1 385,441.3 390.3,424.6 395.6,406 400.8,385.3 405.4,365.4 410.7,340.7 415.3,317.4 419.9,292.7 438.9,185.9 444.2,159.3 448.8,138.8 452,126.3 454.7,117.6 457.3,110.2 459.9,104.1 462.5,99.5 465.2,96.1 466.5,95 467.8,94.1 469.1,93.6 471.1,93.4 473.1,93.9 475,95 477,96.6 479.6,99.7 481.6,102.5 484.2,107 486.9,112.1 489.5,117.9 494.7,130.7 500.6,146.7 523,212 532.8,239.8 542,264.3 550.6,285.7 561.7,311.6 567.6,324.4 573.6,336.6 579.5,348.2 585.4,359.3 591.3,369.9 597.9,381 604.4,391.7 611.6,402.7 618.9,413.2 626.1,423.1 633.3,432.6 641.2,442.3 649.1,451.4 657.6,460.8 665.5,469 674,477.3 682.6,485.1 691.1,492.5 699.7,499.3 708.9,506.3 717.4,512.2 726.6,518.2" stroke="#355f8d"/>
<polyline points="136.1,461.9 144,472.8 147.9,477.7 151.9,482.2 159.1,489.5 168.3,497.4 180.8,507 186.7,511.1 192.6,514.9 198.5,518.5 204.4,521.7 210.3,524.6 215.6,526.8 220.8,528.8 225.4,530.2 234.6,532.4 239.9,533.2 244.5,533.7 249.1,533.9 253.7,533.8 258.3,533.4 262.9,532.8 267.5,531.9 272.1,530.7 276.7,529.2 281.3,527.5 285.9,525.5 290.5,523.2 297.7,519.1 304.9,514.3 312.1,508.8 320,502.2 327.2,495.5 335.1,487.5 343,478.9 351.5,468.9 358.8,460 366.7,449.8 383.7,426.4 400.8,401.7 437.6,346.8 454,322.8 471.1,298.7 486.9,277.5 496,265.8 505.2,254.5 514.4,243.7 523,234.2 531.5,225.2 540.1,216.6 548.6,208.6 557.1,201 567,192.9 577.5,185 587.3,178.3 597.9,171.8 607.7,166.5 618.2,161.4 628.7,157.2 639.2,153.6 649.7,150.7 660.3,148.5 670.8,146.9 681.9,146 693.1,145.7 704.3,146.2 715.4,147.3 726.6,149.1" stroke="#228c8d"/>
<polyline points="136.1,461.5 144,472.6 147.9,477.6 151.9,482.2 159.1,489.6 168.3,497.5 180.8,507.2 186.7,511.4 192.6,515.2 198.5,518.8 204.4,522 210.3,524.8 215.6,527 220.8,529 225.4,530.4 230,531.6 234.6,532.5 239.9,533.2 244.5,533.6 249.1,533.7 253.7,533.6 258.3,533.1 262.9,532.4 267.5,531.4 272.1,530.1 276.7,528.6 281.3,526.7 285.9,524.6 290.5,522.2 297.7,517.9 304.9,512.8 312.1,507.2 320,500.2 327.9,492.6 335.8,484.2 343.7,475.2 352.2,464.8 359.4,455.5 367.3,444.9 375.8,432.9 384.4,420.5 402.1,393.7 438.9,336.5 454.7,312.4 471.7,287.2 487.5,265.1 496.7,252.8 505.9,241.1 515.1,229.8 523.6,219.9 532.2,210.5 540.7,201.6 549.2,193.3 557.8,185.4 568.3,176.5 578.2,168.9 588,162 598.5,155.4 608.4,150 618.9,144.9 629.4,140.7 639.9,137.2 650.4,134.4 660.9,132.3 671.4,131 682.6,130.4 693.1,130.4 704.3,131.2 715.4,132.7 726.6,134.9" stroke="#28ae80"/>
<polyline points="136.1,461.4 140.7,468.1 144.6,473.4 148.6,478.3 152.5,482.8 159.8,490.1 170.9,499.5 177.5,504.6 184.1,509.4 190.6,513.8 196.5,517.5 203.1,521.3 209,524.3 214.9,527 220.8,529.4 226.1,531.2 231.3,532.8 236.6,534 241.2,534.8 246.5,535.5 251.7,535.9 257,535.9 261.6,535.7 266.8,535.1 271.4,534.4 276.7,533.2 281.3,531.9 286.5,530 291.1,528.2 296.4,525.7 301,523.3 309.5,518 318,511.9 326.6,504.9 335.1,497 343.7,488.3 352.9,478 362.1,466.9 371.3,454.9 379.8,443 388.3,430.6 397.5,416.7 407.4,401.1 426.4,369.7 463.2,307.2 478.3,282 494.1,256.6 508.5,234.5 517.1,222.1 525.6,210.2 534.1,198.9 542,189.1 549.9,179.8 557.8,171.1 565.7,163 572.9,156.1 582.7,147.5 591.9,140.5 601.1,134.3 610.3,128.9 619.5,124.5 628.7,120.9 637.9,118.2 647.8,116.2 657,115.2 666.8,115.1 676.7,115.8 686.5,117.4 696.4,119.8 706.2,123.1 716.1,127.1 726.6,132.2" stroke="#25848e"/>
<polyline points="136.1,460.7 140.7,467.5 145.3,473.8 149.9,479.5 153.8,483.9 157.8,488 161.1,491.1 167.6,496.7 174.2,502 180.8,507 187.3,511.6 193.9,515.8 199.8,519.2 206.4,522.7 212.3,525.4 218.9,528 224.8,530 230.7,531.6 235.9,532.7 241.2,533.5 246.5,533.9 251.7,534 257,533.8 262.2,533.2 267.5,532.3 272.7,531 278,529.4 283.2,527.4 287.8,525.3 293.1,522.6 298.3,519.5 303.6,516 308.2,512.6 316.1,506.1 324.6,498.1 332.5,489.8 341,479.9 348.9,469.9 357.5,458.1 366,445.4 374.5,431.8 381.8,419.7 389,407.2 396.9,392.9 405.4,376.9 420.5,347.6 456,277.2 473.7,243.5 482.9,227 491.4,212.4 499.3,199.6 507.2,187.7 515.8,175.7 523.6,165.6 532.2,155.8 540.1,147.9 547.9,140.9 555.8,135 563.7,130.3 567.6,128.3 571.6,126.5 575.5,125.1 579.5,123.9 583.4,122.9 588,122.2 591.9,121.8 596.5,121.6 600.5,121.8 605.1,122.3 609,123 613.6,124 618.2,125.4 622.8,127.1 627.4,129.1 632,131.3 641.2,136.7 650.4,143 660.3,150.8 670.1,159.6 680.6,170 691.1,181.2 702.3,194 714.1,208.4 726.6,224.4" stroke="#20928c"/>
<polyline points="136.1,461.8 140.7,468.4 144.6,473.6 148.6,478.5 152.5,483 159.8,490.2 170.9,499.5 177.5,504.7 184.1,509.5 190.6,513.9 197.2,518.1 203.8,521.8 209.7,524.9 215.6,527.6 221.5,530 226.7,531.9 232,533.5 237.3,534.8 242.5,535.8 247.8,536.5 253,536.8 258.3,536.9 262.9,536.7 268.1,536.2 272.7,535.5 278,534.3 282.6,533 287.8,531.3 292.4,529.4 297.7,527 302.3,524.6 310.8,519.4 319.4,513.4 327.9,506.4 336.4,498.6 345,489.9 354.2,479.7 363.4,468.6 372.6,456.6 381.1,444.8 389.6,432.4 398.8,418.5 408,404.1 426.4,374 462.5,313 477.7,287.9 494.1,261.7 508.5,239.7 517.1,227.4 525.6,215.7 533.5,205.4 541.4,195.6 549.2,186.3 557.1,177.6 565,169.5 572.2,162.7 582.1,154.1 591.3,147 600.5,140.8 609.7,135.4 618.9,130.9 628.1,127.2 637.3,124.4 647.1,122.2 656.3,121 666.2,120.6 676,121.1 685.9,122.4 695.7,124.5 706.2,127.6 716.1,131.3 726.6,136" stroke="#25848e"/>
<polyline points="136.1,459.9 140.7,466.9 145.3,473.4 149.9,479.3 154.5,484.6 158.4,488.6 163,492.9 169.6,498.5 176.2,503.7 183.4,509 190,513.5 196.5,517.5 203.1,521.2 209.7,524.4 216.2,527.3 222.8,529.7 229.4,531.6 235.3,533 241.2,534.1 247.1,534.7 253,534.9 258.9,534.8 264.2,534.3 270.1,533.3 275.4,532.1 281.3,530.2 286.5,528.2 291.8,525.8 297,523 302.3,519.7 307.5,516 312.8,511.9 317.4,507.9 325.9,499.6 333.8,490.7 342.4,479.7 350.2,468.3 358.1,455.7 366,441.8 373.9,426.5 381.8,410 388.3,395.3 394.9,379.7 401.5,363.3 408.7,344.5 421.8,308.4 448.8,231.6 460.6,199.7 465.8,186.5 471.1,174 476.3,162.3 480.9,153 486.2,143.3 491.4,134.8 496.7,127.6 501.3,122.4 503.9,119.8 506.6,117.6 511.2,114.5 513.8,113.3 516.4,112.3 519,111.7 521.7,111.4 524.3,111.4 526.9,111.8 529.5,112.4 532.8,113.6 535.5,114.9 538.1,116.5 540.7,118.4 544,121.1 549.9,126.8 555.8,133.7 562.4,142.5 569,152.3 574.2,160.8 579.5,169.8 591.9,192.5 603.8,215.4 631.4,270.1 643.8,294.5 657.6,320.6 670.8,344.4 685.2,369.2 699,391.5 712.8,412.2 726.6,431.5" stroke="#277e8e"/>
<polyline points="136.1,461.8 140.7,468.4 145.3,474.5 149.9,480.1 153.8,484.4 161.1,491.4 168.3,497.4 175.5,503.1 182.7,508.5 189.3,513 195.9,517.1 202.4,520.9 209,524.4 214.9,527.1 221.5,529.7 227.4,531.7 233.3,533.3 238.6,534.4 243.8,535.2 249.1,535.6 254.3,535.7 259.6,535.5 264.8,534.9 269.4,534 274.7,532.7 279.3,531.2 284.5,529.1 289.1,526.9 294.4,524 299,521.1 303.6,517.9 308.2,514.4 316.1,507.5 323.3,500.3 330.5,492.2 338.4,482.4 346.3,471.6 354.2,459.8 362.1,447.1 369.9,433.5 376.5,421.5 383.7,407.7 398.2,378.5 412,349.1 444.8,277.3 454,257.8 461.9,241.6 470.4,224.8 478.3,210 486.2,196.1 494.1,183.1 502.6,170.2 510.5,159.5 519,149 526.9,140.6 534.8,133.4 542.7,127.3 546.6,124.7 550.6,122.3 554.5,120.3 559.1,118.3 563,116.8 567.6,115.5 571.6,114.6 576.2,113.9 580.1,113.6 584.7,113.6 589.3,113.8 593.9,114.4 598.5,115.3 603.1,116.5 607.7,118 612.3,119.7 621.5,124 631.4,129.6 641.2,136.3 651.7,144.4 662.9,154.1 674,164.6 685.9,176.7 698.3,190.3 712.1,206.1 726.6,223.5" stroke="#2b758e"/>
<polyline points="136.1,461.6 140.7,468.3 144.6,473.5 148.6,478.4 152.5,482.9 159.8,490.1 169.6,498.5 176.2,503.6 182.7,508.5 189.3,513 195.2,516.8 201.8,520.6 207.7,523.8 213.6,526.6 219.5,529.1 224.8,531 230,532.7 235.3,534 239.9,535 245.1,535.8 249.7,536.3 255,536.5 259.6,536.4 264.8,536 269.4,535.4 274.7,534.4 279.3,533.3 284.5,531.6 289.1,529.9 293.7,527.9 298.3,525.6 307.5,520.2 316.1,514.2 324.6,507.2 333.8,498.7 342.4,489.8 351.5,479.2 360.7,467.7 369.9,455.1 378.5,442.7 387,429.6 396.2,414.8 406.1,398.2 425.1,364.5 460.6,299.6 475.7,272.4 491.4,245.2 505.9,221.8 514.4,208.8 522.3,197.4 530.2,186.7 538.1,176.6 546,167.2 553.2,159.3 561.1,151.3 568.3,144.7 577.5,137.3 586.7,130.9 595.9,125.6 605.1,121.3 609.7,119.6 614.3,118.1 618.9,116.9 624.1,115.8 628.7,115.2 633.3,114.7 637.9,114.5 643.2,114.6 647.8,114.9 653,115.6 657.6,116.4 662.9,117.6 672.7,120.5 683.2,124.7 693.8,129.9 704.3,136 715.4,143.5 726.6,151.9" stroke="#21a685"/>
<polyline points="136.1,461.6 140.7,468.3 145.3,474.4 149.9,479.9 154.5,485 158.4,488.9 163,492.9 170.3,498.9 177.5,504.5 184.7,509.8 191.9,514.7 199.2,519.2 205.7,522.9 212.3,526.2 218.9,529.2 225.4,531.8 232,533.9 237.9,535.5 243.2,536.6 249.1,537.4 254.3,537.8 259.6,537.8 264.8,537.6 270.1,536.9 275.4,535.8 280.6,534.4 285.2,532.8 290.5,530.5 295.1,528.1 300.3,525 304.9,521.9 309.5,518.3 314.1,514.4 322,506.7 329.2,498.5 336.4,489.1 343.7,478.6 350.9,467 358.1,454.1 365.3,440 372.6,424.7 378.5,411.3 385,395.6 391.6,379.1 398.2,361.8 410,329.2 436.3,254.5 448.8,220.8 454.7,205.8 460.6,191.8 466.5,178.7 471.7,168.1 477.7,157.2 483.6,147.7 489.5,139.5 495.4,132.6 498,130 501.3,127.2 503.9,125.2 507.2,123.1 509.8,121.7 513.1,120.3 515.8,119.5 519,118.8 522.3,118.5 525.6,118.6 528.9,119 532.2,119.8 535.5,120.9 539.4,122.6 542.7,124.3 546.6,126.8 553.8,132.3 561.7,139.5 570.3,148.7 578.8,158.9 585.4,167.4 591.9,176.4 606.4,197.3 622.2,221.5 663.5,286.7 683.9,318.1 705.6,350.3 716.1,365.3 726.6,379.9" stroke="#3e4989"/>
<polyline points="136.1,459.9 140.7,467 145.3,473.4 149.9,479.3 153.8,483.9 157.8,488 161.7,491.8 168.3,497.4 174.9,502.7 181.4,507.6 188,512.1 194.6,516.2 201.1,519.9 207.7,523.1 214.3,525.9 220.8,528.3 226.7,530.1 232.7,531.5 238.6,532.5 244.5,533.2 249.7,533.4 255.6,533.3 261.6,532.9 267.5,532 272.7,530.9 278.6,529.3 283.9,527.5 289.8,525.1 295.1,522.6 301,519.4 306.2,516.2 312.1,512.2 317.4,508.3 326.6,500.7 335.8,492 345,482.2 354.2,471.5 363.4,459.7 372.6,447 381.8,433.3 391.6,417.6 399.5,404.3 408,389.2 416.6,373.6 425.1,357.4 441.5,325.1 478.3,250.7 494.7,218.8 502.6,204.3 510.5,190.5 517.7,178.5 524.9,167.3 532.2,157 539.4,147.6 546.6,139.1 553.8,131.7 561.1,125.5 567.6,120.7 574.2,117 580.8,114.2 584.1,113.2 588,112.3 591.9,111.8 595.9,111.6 599.8,111.8 603.8,112.3 607.7,113.1 611.6,114.3 615.6,115.8 619.5,117.7 623.5,119.8 627.4,122.2 635.3,128 643.8,135.5 652.4,144.2 660.9,153.9 670.1,165.5 680,179 689.8,193.4 701,210.7 712.8,229.8 726.6,252.8" stroke="#4ec36b"/>
<polyline points="136.1,460.7 140.7,467.6 145.3,473.9 149.9,479.6 155.2,485.5 159.8,490 165,494.6 172.2,500.6 179.5,506.1 186.7,511.2 193.9,515.9 201.1,520.2 208.4,524.1 215.6,527.5 222.8,530.5 230,533.1 236.6,535 243.2,536.5 249.1,537.5 255.6,538.2 261.6,538.4 267.5,538.3 273.4,537.8 279.3,536.9 285.2,535.6 291.1,533.9 296.4,531.9 302.3,529.3 307.5,526.5 312.8,523.3 318,519.6 323.3,515.6 328.6,511 337.1,502.5 345.6,492.6 353.5,482.2 361.4,470.4 369.3,457.1 376.5,443.7 384.4,427.5 391.6,411.4 398.2,395.5 404.7,378.6 411.3,360.6 417.9,341.8 429.7,305.8 454.7,226.7 465.2,195.3 469.8,182.5 474.4,170.5 479,159.5 482.9,150.7 487.5,141.6 492.1,133.7 496.7,127 500.6,122.3 504.6,118.6 506.6,117.1 509.2,115.5 513.1,113.8 515.1,113.4 517.7,113.1 521.7,113.5 523.6,114 526.3,115.1 530.9,117.7 535.5,121.4 540.1,126 544.7,131.5 549.9,138.7 555.2,146.7 564.4,162.5 574.2,181.1 584.7,202.3 613,261 627.4,290.4 643.2,320.9 657.6,347.3 666.2,362.1 674.7,376.3 683.2,389.8 691.8,402.8 700.3,415.1 708.9,426.9 717.4,438 726.6,449.3" stroke="#2f6c8e"/>
<polyline points="136.1,460.3 140.7,467.3 145.3,473.7 149.9,479.5 153.8,484 157.8,488.1 161.1,491.2 167.6,496.9 173.5,501.7 180.1,506.6 186.7,511.2 193.3,515.4 199.2,518.8 205.7,522.1 211.6,524.8 218.2,527.4 224.1,529.3 230,530.8 235.3,531.9 241.2,532.7 246.5,533.1 252.4,533.2 257.6,532.9 262.9,532.2 268.1,531.3 273.4,530 278.6,528.3 283.9,526.3 289.1,523.9 294.4,521.2 299.7,518.1 304.9,514.6 310.2,510.7 318.7,503.6 327.2,495.4 335.8,486.2 344.3,476 352.9,464.7 361.4,452.4 369.9,439.1 378.5,424.9 385.7,412.1 393.6,397.5 401.5,382.2 409.3,366.4 424.5,334.7 456.6,265.5 472.4,233.1 479.6,219.1 486.9,205.8 493.4,194.5 500,183.9 507.2,173.3 513.8,164.7 521,156.3 527.6,149.8 531.5,146.5 534.8,144 541.4,139.8 544.7,138.1 547.9,136.8 551.2,135.6 554.5,134.8 558.4,134.2 562.4,134 566.3,134.1 570.3,134.7 574.2,135.6 578.2,136.9 582.1,138.5 586,140.5 590,142.8 593.9,145.5 597.9,148.4 602.5,152.2 611,160.3 620.2,170.3 628.7,180.6 637.9,192.7 647.8,206.7 658.3,222.4 668.1,237.8 678.6,254.6 726.6,333.2" stroke="#22a785"/>
<polyline points="136.1,460.8 144,472 151.2,481 158.4,488.6 167.6,496.7 180.1,506.7 186,510.9 191.9,514.9 197.8,518.5 203.1,521.5 209,524.4 214.3,526.8 219.5,528.8 224.1,530.3 228.7,531.6 233.3,532.6 237.9,533.4 242.5,533.9 247.1,534.1 251.7,534 256.3,533.7 260.9,533.1 265.5,532.2 270.1,531 274.7,529.6 279.3,527.8 287.8,523.7 295.1,519.5 302.9,514.1 310.8,507.9 318.7,500.8 326.6,493 334.5,484.4 342.4,475.2 350.9,464.4 358.8,453.8 366.7,442.7 375.2,430.2 383.7,417.2 401.5,389 438.2,328.5 454.7,302 471.7,275.6 486.9,253.5 496,240.7 504.6,229.4 513.8,217.9 522.3,207.8 530.9,198.2 539.4,189.3 547.9,181 556.5,173.3 566.3,165.3 576.8,157.6 586.7,151.3 597.2,145.5 607.1,140.9 617.6,136.9 628.1,133.9 638.6,131.7 649.1,130.4 659.6,129.9 670.1,130.2 681.3,131.4 692.4,133.5 703.6,136.4 714.8,140.1 726.6,144.9" stroke="#3c4f8a"/>
<polyline points="136.1,462.4 144,473.2 151.2,481.7 158.4,489.1 167.6,496.9 180.8,507 187.3,511.6 193.3,515.5 199.2,519.1 205.1,522.3 211,525.3 216.2,527.6 221.5,529.6 226.1,531.1 235.3,533.5 239.9,534.2 244.5,534.8 249.1,535 253.7,535 258.3,534.7 262.9,534.1 267.5,533.2 271.4,532.2 276,530.8 280,529.3 288.5,525.3 295.7,521.1 302.9,516.1 310.2,510.4 317.4,503.9 324.6,496.8 332.5,488.2 340.4,478.8 348.3,468.6 355.5,458.8 362.7,448.4 370.6,436.6 379.1,423.3 396.2,395.4 431,336.7 446.8,310.6 463.2,284.6 478.3,262.2 487.5,249.3 496,237.9 504.6,227.1 513.1,216.9 521.7,207.3 530.2,198.4 538.7,190.2 547.3,182.6 557.1,174.6 567.6,167.1 578.2,160.4 588.7,154.8 599.2,150 610.3,145.8 620.8,142.8 632,140.5 643.2,139.1 654.3,138.5 666.2,138.7 678,139.8 689.8,141.7 701.6,144.4 714.1,148 726.6,152.4" stroke="#33638d"/>
<polyline points="136.1,461.3 143.3,471.6 149.9,479.8 156.5,487 163.7,493.6 175.5,503.3 187.3,511.8 193.3,515.6 198.5,518.7 204.4,521.9 209.7,524.4 218.9,528.2 228.1,530.9 232.7,531.9 237.3,532.6 245.8,533.3 250.4,533.2 254.3,533 258.9,532.4 262.9,531.6 267.5,530.5 271.4,529.2 279.3,526.1 287.2,522 295.1,517 302.9,511 311.5,503.5 319.4,495.6 327.9,486 335.8,476.2 344.3,464.7 352.2,453.3 360.7,440.1 369.3,426.2 378.5,410.4 396.9,377.2 432.3,310.4 447.4,282.6 463.9,253.9 471.1,241.9 478.3,230.4 486.9,217.5 495.4,205.3 503.9,194 512.5,183.6 521,174.1 528.9,166.1 537.4,158.4 545.3,152.1 549.9,148.8 555.2,145.4 560.4,142.3 565.7,139.6 570.3,137.4 575.5,135.4 580.8,133.6 586,132.2 591.3,131.1 596.5,130.3 601.8,129.8 607.1,129.7 612.3,129.8 617.6,130.2 622.8,130.9 628.7,132.1 634,133.4 639.9,135.1 645.1,137 651.1,139.3 657,142 662.9,144.9 674.7,151.6 687.2,159.9 699.7,169.1 712.8,179.9 726.6,192.2" stroke="#2b758e"/>
<polyline points="136.1,460.9 143.3,471.3 150.6,480.3 157.8,488.1 165.7,495.2 177.5,504.7 183.4,509 189.3,513 195.2,516.6 200.5,519.6 205.7,522.2 211,524.5 220.2,527.9 224.8,529.1 229.4,530.2 234,530.9 238.6,531.4 247.1,531.6 251.7,531.3 256.3,530.7 264.8,528.9 273.4,526.1 278,524.2 282.6,522.1 289.8,518.1 297,513.5 304.3,508.2 311.5,502.4 318.7,495.9 326.6,488.3 334.5,480.1 342.4,471.3 349.6,462.8 357.5,453.1 373.9,431.8 391.6,407.5 429.1,354.7 446.1,331 463.9,307.3 480.3,286.5 490.1,274.6 499.3,264 508.5,253.8 517.7,244.1 526.9,235 535.5,226.9 544.7,218.8 553.2,211.7 563.7,203.6 574.2,196.2 584.7,189.6 595.9,183.3 606.4,178.1 616.9,173.6 627.4,169.8 638.6,166.5 649.1,164.1 660.3,162.2 670.8,161.2 681.9,160.8 693.1,161.1 704.3,162.1 715.4,163.7 726.6,166.1" stroke="#5ec962"/>
<polyline points="136.1,461 140.7,467.8 145.3,474 149.9,479.7 154.5,484.8 158.4,488.8 163,492.9 170.3,499 177.5,504.6 184.7,509.8 191.9,514.7 199.2,519.1 205.7,522.7 213,526.2 219.5,529.1 226.1,531.5 232.7,533.6 239.2,535.2 245.1,536.3 251.1,537 257,537.4 262.9,537.5 268.8,537.1 274.7,536.4 280,535.4 285.9,533.9 291.1,532.2 297,529.9 302.3,527.5 308.2,524.3 313.5,521.2 318.7,517.6 324,513.7 333.2,506 341.7,497.7 350.9,487.6 359.4,477.1 368,465.6 376.5,452.9 385,439.2 394.2,423.4 401.5,410.1 409.3,394.8 417.2,378.9 425.1,362.2 440.2,329 472.4,256 486.9,224.7 494.1,210 500.6,197.3 507.2,185.4 513.1,175.4 519.7,165.2 526.3,156.1 532.8,148.1 538.7,141.9 545.3,136.1 551.2,132 557.1,128.8 560.4,127.5 563.7,126.5 567,125.8 570.9,125.3 574.2,125.2 578.2,125.5 581.4,126.1 585.4,127.1 589.3,128.6 593.3,130.4 597.2,132.5 601.1,135 605.1,137.8 609,141 613,144.4 617.6,148.8 626.1,157.8 634.6,168 643.2,179 652.4,191.8 662.9,207.3 672.7,222.4 683.9,240.2 726.6,309.6" stroke="#355f8d"/>
<polyline points="136.1,460.5 140.7,467.4 144.6,472.8 149.2,478.7 153.2,483.2 157.1,487.4 160.4,490.5 166.3,495.7 172.9,501 179.5,506 185.4,510.2 191.9,514.4 197.8,517.9 204.4,521.3 210.3,524.1 216.2,526.5 222.2,528.5 227.4,529.9 232.7,531 237.9,531.9 243.2,532.4 248.4,532.5 253.7,532.4 258.9,531.9 264.2,531 269.4,529.8 274.7,528.3 280,526.3 284.5,524.4 289.8,521.8 295.1,518.8 300.3,515.4 304.9,512.2 312.8,506 321.3,498.3 329.2,490.4 337.8,480.8 346.3,470.4 354.8,459 363.4,446.8 371.9,433.7 379.1,422.1 386.4,410 394.2,396.3 402.8,381 418.5,351.5 454,283.7 471.7,251.2 480.3,236.4 488.8,222.3 496.7,209.9 504.6,198.4 513.1,186.9 521,177.2 529.5,167.8 537.4,160.2 545.3,153.7 553.2,148.2 557.1,145.9 561.1,143.9 565,142.1 569,140.7 572.9,139.5 576.8,138.5 580.8,137.8 585.4,137.4 589.3,137.3 593.9,137.5 597.9,138 602.5,138.9 606.4,139.9 611,141.4 615.6,143.2 620.2,145.3 624.8,147.7 629.4,150.4 638.6,156.6 647.8,163.9 657.6,172.8 667.5,182.6 678,194.1 689.2,207.3 700.3,221.3 712.8,237.9 726.6,256.9" stroke="#23a983"/>
<polyline points="136.1,460.7 140.7,467.6 146,474.7 150.6,480.4 155.8,486.2 160.4,490.6 167.6,496.8 174.9,502.6 182.1,508 190,513.4 197.8,518.3 205.7,522.8 213,526.5 220.8,530 228.1,532.9 235.9,535.5 243.2,537.5 250.4,539 257,540 264.2,540.8 270.8,541 278,540.9 284.5,540.3 291.1,539.4 297.7,538 304.3,536.2 310.8,533.9 317.4,531.1 323.3,528.2 329.9,524.6 335.8,520.8 341.7,516.6 347.6,511.9 356.1,504.3 364,496.3 372.6,486.6 380.4,476.6 388.3,465.6 396.2,453.4 404.1,440.1 412,425.7 419.9,410 428.4,391.7 436.9,372 445.5,351 453.4,330.5 461.9,307.4 489.5,229.3 498.7,204 508.5,178.7 513.1,167.7 517.1,158.9 522.3,148.1 527.6,138.4 532.8,130.1 538.1,123.1 540.7,120.1 543.3,117.5 547.9,113.9 549.9,112.7 552.5,111.5 555.2,110.6 557.8,110.1 559.8,110 562.4,110.1 565,110.6 567.6,111.5 570.3,112.7 572.9,114.2 575.5,116.1 578.2,118.2 583.4,123.4 589.3,130.6 595.2,138.9 601.1,148.3 605.7,156.1 611,165.7 622.2,187.5 632.7,209.2 664.9,277.2 675.4,298.7 685.2,318.1 695.7,338.1 706.2,357 716.7,375 726.6,391" stroke="#463480"/>
<polyline points="136.1,460.5 140.7,467.4 146,474.7 151.2,481.1 156.5,486.9 161.1,491.2 169.6,498.4 176.8,504.1 184.7,509.8 192.6,515.1 201.1,520.3 209,524.6 217.6,528.8 225.4,532.2 234,535.4 242.5,538.1 250.4,540.2 258.3,541.8 266.2,542.9 274,543.6 281.3,543.8 289.1,543.6 296.4,543 303.6,541.9 310.8,540.3 318,538.3 324.6,536.1 331.8,533.1 338.4,529.9 345,526.2 351.5,522.1 358.1,517.4 364,512.7 373.2,504.4 382.4,494.8 391,484.8 399.5,473.4 408,460.7 415.9,447.6 423.8,433.2 431.7,417.4 439.6,400.2 447.4,381.4 455.3,361.1 463.9,337.4 471.1,316.1 479,291.7 502,217.3 509.8,192.5 517.7,169.3 524.9,150.2 529.5,139.5 533.5,131.3 538.1,123.2 542,117.4 546,112.8 549.9,109.4 551.9,108.2 553.8,107.2 555.8,106.6 557.8,106.4 561.1,106.5 563,107 565,107.8 569,110.3 572.9,113.8 576.8,118.3 580.8,123.7 585.4,131 590,139.3 597.2,153.9 605.1,171.5 614.3,193.5 636.6,248.7 647.8,275.7 659.6,302.9 671.4,328.5 678,342 684.6,354.9 691.1,367.3 698.3,380.3 704.9,391.6 712.1,403.4 719.4,414.5 726.6,425.1" stroke="#471365"/>
<polyline points="136.1,463.8 142.7,472.3 148.6,479.2 155.2,486 161.1,491.3 174.9,502.4 187.3,511.6 198.5,518.9 203.8,521.9 209,524.7 216.9,528.1 224.1,530.5 231.3,532 237.9,532.6 244.5,532.4 251.1,531.2 257.6,529.1 263.5,526.3 269.4,522.7 274.7,518.8 280,514.3 285.9,508.3 291.1,502.4 297,495 302.9,486.8 308.9,478 318.7,462.1 329.2,443.7 339.7,424.4 368,371.3 384.4,341.8 392.9,327.3 401.5,313.5 410,300.4 417.9,289 425.8,278.2 433.6,268 441.5,258.5 449.4,249.6 457.3,241.3 465.8,232.9 473.7,225.7 482.3,218.5 493.4,209.8 505.2,201.7 517.7,194 530.2,187.3 543.3,181 556.5,175.6 570.9,170.4 585.4,166.1 600.5,162.2 616.2,158.9 632.7,156.2 650.4,153.9 668.1,152.3 687.2,151.1 706.2,150.5 726.6,150.5" stroke="#fde725"/>
</g>
<polyline points="136.11,461.25 140.71,467.35 144.65,472.29 149.24,477.71 153.18,482.06 157.13,486.12 160.41,489.29 165.66,494.03 170.92,498.58 176.83,503.44 182.09,507.53 187.34,511.37 192.59,514.96 197.85,518.26 202.45,520.91 207.7,523.65 212.3,525.78 216.9,527.65 220.84,529.04 225.44,530.4 229.38,531.33 233.97,532.15 237.92,532.61 241.86,532.85 245.8,532.85 250.39,532.56 254.34,532.05 258.28,531.3 262.22,530.3 266.16,529.07 270.1,527.59 274.04,525.87 278.64,523.56 284.55,520.11 287.83,517.96 291.12,515.66 294.4,513.19 297.69,510.57 304.25,504.87 310.82,498.59 317.39,491.76 323.96,484.41 331.18,475.78 337.75,467.48 344.32,458.81 351.55,448.87 359.43,437.64 366.65,427.06 375.19,414.28 410.66,360.05 427.08,335.45 435.62,323 444.16,310.87 452.7,299.08 460.58,288.54 470.43,275.85 479.63,264.53 488.82,253.72 498.02,243.45 507.21,233.72 516.41,224.53 525.6,215.89 535.46,207.24 540.71,202.87 546.62,198.16 551.88,194.16 557.79,189.86 563.04,186.22 568.95,182.32 574.21,179.02 580.12,175.51 585.38,172.55 591.29,169.4 597.2,166.45 603.11,163.69 608.36,161.4 614.28,158.99 620.19,156.75 626.1,154.7 632.01,152.82 637.92,151.1 643.83,149.56 650.4,148.03 656.31,146.83 662.88,145.68 668.79,144.8 675.36,144.01 681.27,143.45 687.84,143 694.41,142.73 700.98,142.63 706.89,142.68 713.46,142.91 720.02,143.29 726.59,143.84" fill="none" stroke="#000" stroke-width="3.3" stroke-linejoin="round"/>
<g fill="#f00" fill-opacity="0.9">
<circle cx="161.4" cy="491.7" r="6.4"/>
<circle cx="162.8" cy="492.4" r="6.4"/>
<circle cx="163.5" cy="493.1" r="6.4"/>
<circle cx="164.8" cy="494.4" r="6.4"/>
<circle cx="165.5" cy="495" r="6.4"/>
<circle cx="165.8" cy="495.4" r="6.4"/>
<circle cx="166.9" cy="496.2" r="6.4"/>
<circle cx="167.6" cy="496.9" r="6.4"/>
<circle cx="167.6" cy="497.1" r="6.4"/>
<circle cx="173.5" cy="501.7" r="6.4"/>
<circle cx="176" cy="504" r="6.4"/>
<circle cx="177.8" cy="504.8" r="6.4"/>
<circle cx="178.2" cy="505.3" r="6.4"/>
<circle cx="180.3" cy="506.9" r="6.4"/>
<circle cx="182" cy="508.1" r="6.4"/>
<circle cx="182.1" cy="508" r="6.4"/>
<circle cx="183.4" cy="508.5" r="6.4"/>
<circle cx="184.4" cy="509.8" r="6.4"/>
<circle cx="184.5" cy="509.9" r="6.4"/>
<circle cx="185.4" cy="510" r="6.4"/>
<circle cx="186.3" cy="511.1" r="6.4"/>
<circle cx="188.9" cy="512.8" r="6.4"/>
<circle cx="189.8" cy="513.3" r="6.4"/>
<circle cx="189.9" cy="512.9" r="6.4"/>
<circle cx="190.6" cy="514.2" r="6.4"/>
<circle cx="192.2" cy="514.9" r="6.4"/>
<circle cx="192.7" cy="515.1" r="6.4"/>
<circle cx="169.5" cy="498.3" r="6.4"/>
<circle cx="169.5" cy="498.3" r="6.4"/>
<circle cx="169.6" cy="498.4" r="6.4"/>
<circle cx="169.6" cy="498.5" r="6.4"/>
<circle cx="169.6" cy="498.3" r="6.4"/>
<circle cx="169.6" cy="498.6" r="6.4"/>
<circle cx="169.6" cy="498.4" r="6.4"/>
<circle cx="169.6" cy="498.6" r="6.4"/>
<circle cx="169.7" cy="498.5" r="6.4"/>
<circle cx="169.7" cy="498.5" r="6.4"/>
<circle cx="169.7" cy="498.6" r="6.4"/>
<circle cx="171.6" cy="499.8" r="6.4"/>
<circle cx="171.7" cy="499.9" r="6.4"/>
<circle cx="171.7" cy="500.2" r="6.4"/>
<circle cx="171.7" cy="500.4" r="6.4"/>
<circle cx="171.7" cy="500.5" r="6.4"/>
<circle cx="172" cy="500.1" r="6.4"/>
<circle cx="172" cy="501" r="6.4"/>
<circle cx="171.7" cy="499.9" r="6.4"/>
<circle cx="171.7" cy="500.4" r="6.4"/>
</g>
<g fill="none" stroke="#000" stroke-opacity="0.4" stroke-width="0.9">
<circle cx="161.4" cy="491.7" r="5.5"/>
<circle cx="162.8" cy="492.4" r="5.5"/>
<circle cx="163.5" cy="493.1" r="5.5"/>
<circle cx="164.8" cy="494.4" r="5.5"/>
<circle cx="165.5" cy="495" r="5.5"/>
<circle cx="165.8" cy="495.4" r="5.5"/>
<circle cx="166.9" cy="496.2" r="5.5"/>
<circle cx="167.6" cy="496.9" r="5.5"/>
<circle cx="167.6" cy="497.1" r="5.5"/>
<circle cx="173.5" cy="501.7" r="5.5"/>
<circle cx="176" cy="504" r="5.5"/>
<circle cx="177.8" cy="504.8" r="5.5"/>
<circle cx="178.2" cy="505.3" r="5.5"/>
<circle cx="180.3" cy="506.9" r="5.5"/>
<circle cx="182" cy="508.1" r="5.5"/>
<circle cx="182.1" cy="508" r="5.5"/>
<circle cx="183.4" cy="508.5" r="5.5"/>
<circle cx="184.4" cy="509.8" r="5.5"/>
<circle cx="184.5" cy="509.9" r="5.5"/>
<circle cx="185.4" cy="510" r="5.5"/>
<circle cx="186.3" cy="511.1" r="5.5"/>
<circle cx="188.9" cy="512.8" r="5.5"/>
<circle cx="189.8" cy="513.3" r="5.5"/>
<circle cx="189.9" cy="512.9" r="5.5"/>
<circle cx="190.6" cy="514.2" r="5.5"/>
<circle cx="192.2" cy="514.9" r="5.5"/>
<circle cx="192.7" cy="515.1" r="5.5"/>
<circle cx="169.5" cy="498.3" r="5.5"/>
<circle cx="169.5" cy="498.3" r="5.5"/>
<circle cx="169.6" cy="498.4" r="5.5"/>
<circle cx="169.6" cy="498.5" r="5.5"/>
<circle cx="169.6" cy="498.3" r="5.5"/>
<circle cx="169.6" cy="498.6" r="5.5"/>
<circle cx="169.6" cy="498.4" r="5.5"/>
<circle cx="169.6" cy="498.6" r="5.5"/>
<circle cx="169.7" cy="498.5" r="5.5"/>
<circle cx="169.7" cy="498.5" r="5.5"/>
<circle cx="169.7" cy="498.6" r="5.5"/>
<circle cx="171.6" cy="499.8" r="5.5"/>
<circle cx="171.7" cy="499.9" r="5.5"/>
<circle cx="171.7" cy="500.2" r="5.5"/>
<circle cx="171.7" cy="500.4" r="5.5"/>
<circle cx="171.7" cy="500.5" r="5.5"/>
<circle cx="172" cy="500.1" r="5.5"/>
<circle cx="172" cy="501" r="5.5"/>
<circle cx="171.7" cy="499.9" r="5.5"/>
<circle cx="171.7" cy="500.4" r="5.5"/>
</g>
</g>
<rect x="138" y="14.9" width="586.7" height="586.8" fill="none" stroke="#000" stroke-width="1.6"/>
<path d="M156.93 601.7v-7.7M156.93 14.9v7.7M251.55 601.7v-7.7M251.55 14.9v7.7M346.18 601.7v-7.7M346.18 14.9v7.7M440.81 601.7v-7.7M440.81 14.9v7.7M535.44 601.7v-7.7M535.44 14.9v7.7M630.07 601.7v-7.7M630.07 14.9v7.7M724.7 601.7v-7.7M724.7 14.9v7.7" stroke="#000" stroke-width="1.6" fill="none"/>
<path d="M175.85 601.7v-4.2M175.85 14.9v4.2M194.78 601.7v-4.2M194.78 14.9v4.2M213.7 601.7v-4.2M213.7 14.9v4.2M232.63 601.7v-4.2M232.63 14.9v4.2M270.48 601.7v-4.2M270.48 14.9v4.2M289.41 601.7v-4.2M289.41 14.9v4.2M308.33 601.7v-4.2M308.33 14.9v4.2M327.26 601.7v-4.2M327.26 14.9v4.2M365.11 601.7v-4.2M365.11 14.9v4.2M384.04 601.7v-4.2M384.04 14.9v4.2M402.96 601.7v-4.2M402.96 14.9v4.2M421.89 601.7v-4.2M421.89 14.9v4.2M459.74 601.7v-4.2M459.74 14.9v4.2M478.66 601.7v-4.2M478.66 14.9v4.2M497.59 601.7v-4.2M497.59 14.9v4.2M516.52 601.7v-4.2M516.52 14.9v4.2M554.37 601.7v-4.2M554.37 14.9v4.2M573.29 601.7v-4.2M573.29 14.9v4.2M592.22 601.7v-4.2M592.22 14.9v4.2M611.15 601.7v-4.2M611.15 14.9v4.2M649 601.7v-4.2M649 14.9v4.2M667.92 601.7v-4.2M667.92 14.9v4.2M686.85 601.7v-4.2M686.85 14.9v4.2M705.77 601.7v-4.2M705.77 14.9v4.2" stroke="#000" stroke-width="1.25" fill="none"/>
<path d="M138 543.02h7.7M724.7 543.02h-7.7M138 425.66h7.7M724.7 425.66h-7.7M138 308.3h7.7M724.7 308.3h-7.7M138 190.94h7.7M724.7 190.94h-7.7M138 73.58h7.7M724.7 73.58h-7.7" stroke="#000" stroke-width="1.6" fill="none"/>
<path d="M138 589.96h4.2M724.7 589.96h-4.2M138 566.49h4.2M724.7 566.49h-4.2M138 519.55h4.2M724.7 519.55h-4.2M138 496.08h4.2M724.7 496.08h-4.2M138 472.6h4.2M724.7 472.6h-4.2M138 449.13h4.2M724.7 449.13h-4.2M138 402.19h4.2M724.7 402.19h-4.2M138 378.72h4.2M724.7 378.72h-4.2M138 355.24h4.2M724.7 355.24h-4.2M138 331.77h4.2M724.7 331.77h-4.2M138 284.83h4.2M724.7 284.83h-4.2M138 261.36h4.2M724.7 261.36h-4.2M138 237.88h4.2M724.7 237.88h-4.2M138 214.41h4.2M724.7 214.41h-4.2M138 167.47h4.2M724.7 167.47h-4.2M138 144h4.2M724.7 144h-4.2M138 120.52h4.2M724.7 120.52h-4.2M138 97.05h4.2M724.7 97.05h-4.2M138 50.11h4.2M724.7 50.11h-4.2M138 26.64h4.2M724.7 26.64h-4.2" stroke="#000" stroke-width="1.25" fill="none"/>
<text x="156.93" y="627.4" font-size="24.1" text-anchor="middle">2000</text>
<text x="251.55" y="627.4" font-size="24.1" text-anchor="middle">2050</text>
<text x="346.18" y="627.4" font-size="24.1" text-anchor="middle">2100</text>
<text x="440.81" y="627.4" font-size="24.1" text-anchor="middle">2150</text>
<text x="535.44" y="627.4" font-size="24.1" text-anchor="middle">2200</text>
<text x="630.07" y="627.4" font-size="24.1" text-anchor="middle">2250</text>
<text x="724.7" y="627.4" font-size="24.1" text-anchor="middle">2300</text>
<text x="130.8" y="552.72" font-size="24.1" text-anchor="end">−2000</text>
<text x="130.8" y="435.36" font-size="24.1" text-anchor="end">−1000</text>
<text x="130.8" y="318" font-size="24.1" text-anchor="end">0</text>
<text x="130.8" y="200.64" font-size="24.1" text-anchor="end">1000</text>
<text x="130.8" y="83.28" font-size="24.1" text-anchor="end">2000</text>
<text x="431.65" y="673.9" font-size="27.1" text-anchor="middle">Epoch (year)</text>
<text transform="translate(35.7 307.6) rotate(-90)" font-size="27.1" text-anchor="middle">RV (m/s)</text>
<text transform="translate(185 83) scale(0.979 1)" font-size="32.4" text-anchor="start">HD 159062A</text>
<text transform="translate(922.6 307.9) rotate(90)" font-size="27.1" text-anchor="middle" letter-spacing="0.15">M<tspan font-size="18.97" dy="4.47">comp</tspan><tspan dy="-4.47">(M</tspan><tspan font-size="18.97" dy="4.47">⊙</tspan><tspan dy="-4.47">)</tspan></text>
<rect x="791.4" y="39.1" width="26.8" height="537.9" fill="url(#vir)"/>
<rect x="791.4" y="39.1" width="26.8" height="537.9" fill="none" stroke="#000" stroke-width="1.6"/>
<text x="833" y="529.76" font-size="24.1" text-anchor="start">0.595</text>
<text x="833" y="457.15" font-size="24.1" text-anchor="start">0.600</text>
<text x="833" y="384.54" font-size="24.1" text-anchor="start">0.605</text>
<text x="833" y="311.93" font-size="24.1" text-anchor="start">0.610</text>
<text x="833" y="239.32" font-size="24.1" text-anchor="start">0.615</text>
<text x="833" y="166.71" font-size="24.1" text-anchor="start">0.620</text>
<text x="833" y="94.1" font-size="24.1" text-anchor="start">0.625</text>
<path d="M818.2 520.36h7.7M818.2 447.75h7.7M818.2 375.14h7.7M818.2 302.53h7.7M818.2 229.92h7.7M818.2 157.31h7.7M818.2 84.7h7.7" stroke="#000" stroke-width="1.6" fill="none"/>
</g>
<g id="panel-tr" transform="translate(997.25 -11.03) scale(1.0156)">
<g clip-path="url(#clipT)">
<g stroke-width="3" stroke-opacity="0.31" fill="none" stroke-linejoin="round">
<polyline points="136.1,462.3 141.4,469.7 146,475.6 150.6,481 155.2,485.8 159.1,489.6 164.4,494.1 171.6,499.9 178.8,505.4 186,510.6 193.3,515.4 200.5,519.8 207.7,523.8 214.9,527.4 221.5,530.2 228.1,532.7 234.6,534.9 240.5,536.4 246.5,537.6 252.4,538.5 258.3,539 264.2,539.1 269.4,538.9 275.4,538.3 280.6,537.4 286.5,536 291.8,534.4 297,532.4 302.3,530.1 307.5,527.4 312.8,524.4 318,520.9 323.3,517.1 331.8,510.1 340.4,502 348.3,493.7 356.8,483.6 365.3,472.5 373.9,460.3 382.4,447.2 391.6,432 398.8,419.3 406.7,404.9 414.6,389.8 422.5,374.2 437.6,343 471.7,270.9 488.2,237.7 496.7,221.4 504.6,207.1 512.5,193.6 519.7,182 527.6,170.4 534.8,160.7 542.7,151.2 549.9,143.5 557.1,136.8 564.4,131.1 571.6,126.4 575.5,124.3 579.5,122.5 583.4,120.9 587.3,119.7 591.3,118.7 595.2,118.1 599.2,117.7 603.1,117.5 607.1,117.7 611,118.1 614.9,118.7 618.9,119.6 622.8,120.7 627.4,122.3 636,126.1 644.5,130.9 653,136.5 662.2,143.5 672.1,152 681.9,161.3 692.4,172.1 702.9,183.6 714.1,196.6 726.6,211.8" stroke="#414287"/>
<polyline points="136.1,462.9 144,473.4 151.9,482.5 159.1,489.6 168.9,497.8 182.7,508.4 195.2,516.9 201.1,520.5 207,523.8 213,526.9 218.9,529.5 228.1,532.9 232.7,534.3 237.3,535.4 241.9,536.2 246.5,536.8 251.1,537 255,537 259.6,536.7 263.5,536.2 268.1,535.4 272.1,534.4 276.7,532.9 280.6,531.3 285.2,529.2 289.1,527.2 295.7,523.2 302.3,518.4 308.9,513 316.1,506.3 322.6,499.5 329.9,491.3 336.4,483.2 343.7,473.6 350.2,464.4 357.5,453.7 371.9,431 387.7,404.5 421.2,346.5 436.3,320.8 452.7,294.1 467.8,271.1 477,257.8 485.5,246.1 494.1,235 502.6,224.5 511.2,214.6 519.7,205.4 528.2,196.7 537.4,188 547.9,178.9 558.4,170.7 569,163.3 579.5,156.8 590.6,150.6 601.8,145.3 613,140.8 624.8,136.8 636.6,133.6 648.4,131.1 660.9,129.3 673.4,128.2 686.5,127.7 699.7,128 712.8,129 726.6,130.7" stroke="#2e6e8e"/>
<polyline points="136.1,461.1 143.3,471.4 150.6,480.4 157.8,488.1 165,494.6 176.8,504.2 188,512.1 193.9,515.8 199.2,518.8 204.4,521.5 209.7,523.9 214.3,525.7 218.9,527.3 227.4,529.5 232,530.2 236.6,530.8 241.2,531 245.1,531 253.7,530.2 258.3,529.4 262.9,528.3 271.4,525.6 280.6,521.6 286.5,518.5 293.1,514.7 299.7,510.3 306.2,505.5 312.8,500.3 320,494.1 327.2,487.5 334.5,480.5 347.6,467 362.7,450.5 378.5,432.5 413.9,391.1 431,371.4 449.4,350.9 466.5,332.6 486.2,312.7 505.2,294.6 515.1,285.8 524.3,277.8 542.7,262.9 553.2,254.9 564.4,246.8 575.5,239.2 586.7,232 597.9,225.2 609,218.8 620.2,212.8 632,206.9 643.2,201.7 655,196.6 666.8,191.9 678.6,187.6 690.5,183.7 702.3,180.2 714.1,177 726.6,174.1" stroke="#44bf70"/>
<polyline points="136.1,461.4 144,472.5 147.9,477.5 151.9,482 159.1,489.4 168.3,497.3 180.8,506.9 187.3,511.5 193.3,515.3 199.2,518.8 205.1,522 211,524.8 216.2,527.1 221.5,529 226.1,530.5 231.3,531.8 235.9,532.8 241.2,533.6 245.8,534 250.4,534.2 255,534.1 259.6,533.7 264.2,533.1 268.8,532.2 273.4,531 278,529.6 282.6,527.8 287.2,525.8 291.8,523.5 299.7,518.9 308.2,513 316.1,506.7 324.6,498.9 333.2,490.3 341.7,480.7 350.2,470.3 359.4,458.2 367.3,447.1 375.8,434.5 385,420.3 394.2,405.5 412.6,374.4 449.4,310.2 464.5,284.4 480.9,257.3 496,234 504.6,221.5 513.1,209.6 521.7,198.4 529.5,188.7 538.1,178.8 546,170.3 553.8,162.5 561.7,155.4 571.6,147.4 580.8,140.9 590.6,134.9 600.5,130 610.3,126.1 620.2,123.1 630,121.2 635.3,120.6 640.5,120.2 650.4,120.2 655.7,120.6 660.9,121.2 671.4,123.2 681.9,126.1 692.4,129.9 703.6,134.9 714.8,140.8 726.6,148" stroke="#472e7c"/>
<polyline points="136.1,459.3 140.7,466.5 145.3,473.1 149.9,479 154.5,484.4 159.1,489.2 163.7,493.4 170.3,499 177.5,504.7 184.1,509.4 191.3,514.2 197.8,518.1 205.1,521.9 212.3,525.3 218.9,527.9 226.1,530.4 232.7,532.2 239.2,533.5 245.8,534.5 252.4,535.1 258.3,535.3 264.8,535 271.4,534.4 278,533.3 283.9,531.9 290.5,530 296.4,527.9 302.3,525.3 308.2,522.5 314.8,518.8 320.7,515.1 326.6,510.9 332.5,506.4 342.4,497.9 352.2,488.1 362.1,477.1 371.9,464.9 381.8,451.3 391,437.4 400.2,422.3 410,404.8 417.9,389.9 425.8,374.2 434.3,356.3 442.8,337.6 458.6,301.3 490.8,224.4 503.3,196 509.2,183.4 515.1,171.4 520.3,161.4 525.6,152.2 530.9,143.7 536.1,136.2 541.4,129.5 546.6,123.9 551.9,119.4 557.1,115.9 559.8,114.6 562.4,113.6 567,112.5 569.6,112.2 572.9,112.3 576.2,112.9 579.5,113.8 582.1,114.9 585.4,116.6 588.7,118.7 591.9,121.2 595.2,124.1 598.5,127.3 605.1,134.8 611.6,143.5 618.9,154.4 624.1,163 629.4,172.2 635.3,183 641.9,195.6 655,221.9 683.9,281.9 697.7,309.9 712.8,339.4 726.6,364.8" stroke="#355e8d"/>
<polyline points="136.1,460.3 140.7,467.3 146,474.5 150.6,480.3 155.8,486.1 160.4,490.6 167.6,496.8 174.9,502.6 182.1,508 190,513.5 197.8,518.5 205.7,523 213.6,527.1 221.5,530.7 229.4,533.8 237.3,536.5 244.5,538.5 251.7,540.1 258.3,541.1 264.8,541.7 271.4,542 278,541.7 283.9,541.1 290.5,540 296.4,538.5 302.3,536.6 308.2,534.1 314.1,531.1 319.4,527.9 324.6,524.3 329.9,520.1 335.1,515.3 339.7,510.6 346.9,502.2 353.5,493.3 360.1,483.1 366.7,471.4 372.6,459.5 378.5,446.2 384.4,431.4 390.3,414.9 396.2,396.6 402.1,376.5 407.4,357 413.3,333.4 418.5,310.9 424.5,284.1 440.9,205.8 446.8,178.4 452.7,153.2 458,133.3 461.2,122.5 464.5,113.1 467.8,105.2 470.4,100.1 473.1,96 474.4,94.3 476.3,92.3 477.7,91.3 479.6,90.3 480.9,89.9 482.9,89.8 484.9,90.3 487.5,91.7 490.1,94 492.8,97 495.4,100.8 498.7,106.5 501.3,111.7 504.6,118.9 509.8,131.7 515.1,145.8 521.7,164.5 538.7,214.8 547.9,241.2 557.8,268.2 567,291.9 578.2,318.7 589.3,343.2 600.5,365.7 606.4,376.8 612.3,387.3 618.9,398.5 625.4,409.1 632,419.1 638.6,428.6 645.1,437.6 652.4,447 658.9,455.1 666.2,463.4 673.4,471.3 680.6,478.7 687.8,485.7 695.7,492.8 702.9,498.9 710.8,505 718.7,510.7 726.6,515.9" stroke="#44bf70"/>
<polyline points="136.1,461.6 143.3,471.8 150.6,480.6 157.8,488.2 165.7,495.2 177.5,504.7 183.4,509 189.3,513 195.2,516.7 200.5,519.8 206.4,522.8 211.6,525.2 220.8,528.7 229.4,531 234,531.8 238.6,532.4 243.2,532.7 247.1,532.7 251.7,532.4 255.6,532 260.2,531.1 264.2,530.2 268.8,528.8 272.7,527.3 276.7,525.6 281.3,523.4 287.8,519.6 295.1,514.7 301.6,509.7 308.9,503.4 315.4,497.1 322.6,489.5 329.9,481.2 337.8,471.6 345,462.2 352.2,452.4 368,429.5 384.4,404.2 419.9,347.7 436.3,322.1 453.4,296.6 469.1,274.4 478.3,262.2 487.5,250.5 496.7,239.4 505.9,229 515.1,219.2 523.6,210.6 532.2,202.6 541.4,194.6 551.9,186.3 563,178.3 573.6,171.7 584.7,165.4 595.9,160.1 607.1,155.6 618.2,151.9 629.4,149 641.2,146.7 653,145.2 664.9,144.6 676.7,144.7 689.2,145.6 701.6,147.2 714.1,149.6 726.6,152.7" stroke="#3c508b"/>
<polyline points="136.1,459.7 143.3,470.4 150.6,479.8 157.8,487.8 165,494.5 170.9,499.6 176.8,504.3 182.7,508.7 188,512.3 193.9,516 199.2,519.1 204.4,521.8 209.7,524.2 214.9,526.3 219.5,527.9 224.1,529.2 228.7,530.3 233.3,531.2 237.9,531.8 242.5,532.1 247.1,532.1 251.7,531.9 256.3,531.4 260.9,530.7 265.5,529.7 274,527.1 278.6,525.3 283.2,523.2 291.8,518.7 300.3,513.2 308.9,506.9 317.4,499.7 325.9,491.7 335.1,482.2 344.3,471.8 353.5,460.6 362.1,449.5 371.3,436.9 380.4,423.7 390.3,409.1 410,378.4 448.8,316 465.2,290.1 482.3,264.1 497.4,242.5 506.6,230.1 515.8,218.3 524.3,207.9 532.8,198.2 541.4,189.2 549.2,181.4 557.8,173.7 565.7,167.3 575.5,160.1 585.4,154 595.2,148.9 604.4,145.2 609,143.6 614.3,142.1 618.9,141.1 624.1,140.1 628.7,139.6 634,139.2 638.6,139.1 643.8,139.3 648.4,139.7 653.7,140.4 663.5,142.5 673.4,145.6 678.6,147.6 683.9,149.9 694.4,155.2 704.9,161.6 715.4,168.9 726.6,177.6" stroke="#471164"/>
<polyline points="136.1,460.9 144,472.2 151.2,481.2 158.4,488.7 167,496.2 173.5,501.5 179.5,506 185.4,510.2 191.3,514.1 197.2,517.8 203.1,521 209,524 214.3,526.3 224.1,530 229.4,531.6 234,532.7 239.2,533.7 243.8,534.3 249.1,534.7 253.7,534.9 258.9,534.7 263.5,534.3 268.1,533.7 272.7,532.8 278,531.4 282.6,530 287.2,528.3 291.8,526.3 301,521.6 310.2,515.9 319.4,509.1 329.2,500.7 338.4,491.8 348.3,481.2 357.5,470.3 367.3,457.6 376.5,444.9 385.7,431.5 395.6,416.3 406.1,399.3 425.8,365.8 462.5,300.8 477.7,274.6 493.4,248.4 507.9,225.9 516.4,213.5 524.3,202.7 532.2,192.5 540.1,183.1 547.9,174.4 555.2,167.1 562.4,160.5 569.6,154.6 574.2,151.2 578.8,148.2 583.4,145.4 588,142.9 592.6,140.7 597.2,138.8 601.8,137.2 606.4,135.9 611,134.9 615.6,134.2 620.2,133.8 624.8,133.6 629.4,133.8 634,134.2 638.6,134.9 643.8,136 648.4,137.2 653,138.7 657.6,140.5 662.9,142.8 672.7,148 683.2,154.6 693.8,162.4 704.3,171.1 715.4,181.4 726.6,192.7" stroke="#481f70"/>
<polyline points="136.1,461.5 140.7,468.2 145.3,474.3 149.9,479.9 154.5,485 158.4,488.9 162.4,492.4 169.6,498.4 176.2,503.6 183.4,508.8 190,513.2 196.5,517.3 203.1,521 209.7,524.3 216.2,527.2 222.8,529.7 228.7,531.6 234.6,533.1 239.9,534.1 245.8,535 251.1,535.4 257,535.5 262.2,535.2 267.5,534.6 272.7,533.7 278,532.4 283.2,530.8 288.5,528.8 293.7,526.4 299,523.7 304.3,520.6 309.5,517.1 314.8,513.2 323.3,506 331.2,498.5 339.1,490.1 347.6,479.9 356.1,468.7 364.7,456.5 373.2,443.3 381.8,429.1 389,416.5 396.2,403.2 404.1,388.1 412,372.5 427.1,341.4 460.6,270.5 477,237.3 484.9,222.2 492.8,207.9 500,195.5 507.2,184 515.1,172.4 522.3,162.9 530.2,153.6 537.4,146.1 544.7,139.8 551.9,134.6 559.1,130.5 562.4,129 566.3,127.4 570.3,126.3 574.2,125.4 578.2,124.8 582.1,124.6 586,124.6 590,125 593.9,125.6 598.5,126.7 602.5,128 607.1,129.8 611,131.6 615.6,134 620.2,136.8 624.8,139.8 634,146.8 643.2,154.9 653,164.5 663.5,175.9 674,188.3 685.2,202.2 697.7,218.7 710.8,236.7 726.6,259.1" stroke="#433d84"/>
<polyline points="136.1,460.9 140.7,467.6 144.6,473 148.6,478 152.5,482.6 159.8,489.9 170.3,498.9 176.8,504 182.7,508.4 189.3,512.9 195.2,516.6 201.1,519.9 207,523 213,525.7 218.9,528 224.1,529.8 229.4,531.3 234.6,532.5 239.9,533.4 245.1,534 250.4,534.3 255.6,534.3 260.2,534.1 265.5,533.5 270.1,532.7 275.4,531.5 280.6,530 285.2,528.4 290.5,526.3 295.7,523.9 301,521.2 309.5,516.2 318,510.4 326.6,503.8 335.1,496.5 344.3,487.9 353.5,478.6 362.7,468.5 372.6,457 381.1,446.5 389.6,435.5 398.8,423.3 408.7,409.8 428.4,381.8 465.8,327 482.3,303.4 499.3,279.5 514.4,259.3 523.6,247.6 532.2,237 540.7,226.9 548.6,218 556.5,209.4 564.4,201.3 572.2,193.6 580.1,186.3 589.3,178.4 598.5,171.2 607.7,164.6 616.9,158.7 626.1,153.5 635.3,148.9 644.5,145 653,142.1 662.2,139.5 671.4,137.7 680.6,136.5 689.8,136.1 699,136.3 708.2,137.1 717.4,138.6 726.6,140.8" stroke="#48186a"/>
<polyline points="136.1,462.2 144,473 147.9,477.9 151.9,482.4 159.1,489.7 168.9,498.1 181.4,507.7 188,512.3 193.9,516.2 199.8,519.7 205.7,523 211.6,525.9 217.6,528.5 222.8,530.5 227.4,532 232.7,533.4 237.3,534.4 241.9,535.2 246.5,535.7 251.1,535.9 255.6,535.8 260.2,535.5 264.8,534.9 269.4,534 274,532.8 278.6,531.3 283.2,529.5 291.8,525.4 299,521.1 306.9,515.6 314.1,509.8 322,502.6 329.9,494.6 337.8,485.8 345.6,476.3 353.5,466 360.7,456 368.6,444.6 377.2,431.5 385.7,418 402.8,389.7 438.2,329 454,302.5 470.4,276 485.5,253.1 494.1,240.8 502.6,229.1 511.2,218 519.7,207.6 528.2,197.8 536.8,188.6 545.3,180.2 553.2,173 563,164.7 572.9,157.4 582.7,151 593.3,145.1 603.8,140.1 614.3,136.1 624.8,133 635.3,130.8 645.8,129.4 657,128.9 668.1,129.2 679.3,130.3 690.5,132.2 702.3,135.1 714.1,138.8 726.6,143.6" stroke="#414487"/>
<polyline points="136.1,460.7 140.7,467.6 145.3,473.9 149.9,479.7 154.5,484.9 158.4,488.9 163,493.1 169.6,498.6 176.2,503.7 183.4,509 190,513.4 196.5,517.4 203.1,521 209.7,524.3 216.2,527.1 222.8,529.5 229.4,531.5 235.3,533 241.2,534.1 247.1,534.8 253,535.1 258.9,535.1 264.2,534.7 270.1,533.9 275.4,532.8 281.3,531.2 286.5,529.4 292.4,526.9 297.7,524.3 302.9,521.3 308.2,518 313.5,514.3 318.7,510.1 327.2,502.5 335.8,493.7 344.3,483.7 352.2,473.5 360.7,461.2 368.6,448.8 377.2,434.2 385.7,418.3 392.9,404 400.2,388.9 407.4,373.1 415.3,355.1 429.1,322 458.6,248.8 472.4,216.4 479,201.9 484.9,189.7 490.8,178.2 496,168.8 502,159.2 507.9,150.7 513.8,143.4 519.7,137.2 523,134.4 525.6,132.3 530.9,129.1 536.1,126.8 538.7,126 542,125.4 545.3,125.2 548.6,125.3 551.9,125.8 555.2,126.7 558.4,127.9 561.7,129.5 565,131.3 569,134 572.2,136.5 576.2,139.9 583.4,147.2 591.3,156.4 599.2,166.7 605.1,175.2 611.6,185.1 625.4,207.5 639.9,232.4 674.7,294.3 691.8,324.1 709.5,353.8 726.6,380.8" stroke="#39568c"/>
<polyline points="136.1,462.4 144,473.2 151.2,481.7 158.4,489.1 167.6,496.9 180.8,507 187.3,511.6 193.3,515.5 199.2,519.1 205.1,522.3 211,525.3 216.2,527.6 221.5,529.6 226.1,531.1 235.3,533.5 239.9,534.2 244.5,534.8 249.1,535 253.7,535 258.3,534.7 262.9,534.1 267.5,533.2 271.4,532.2 276,530.8 280,529.3 288.5,525.3 295.7,521.1 302.9,516.1 310.2,510.4 317.4,503.9 324.6,496.8 332.5,488.2 340.4,478.8 348.3,468.6 355.5,458.8 362.7,448.4 370.6,436.6 379.1,423.3 396.2,395.4 431,336.7 446.8,310.6 463.2,284.6 478.3,262.2 487.5,249.3 496,237.9 504.6,227.1 513.1,216.9 521.7,207.3 530.2,198.4 538.7,190.2 547.3,182.6 557.1,174.6 567.6,167.1 578.2,160.4 588.7,154.8 599.2,150 610.3,145.8 620.8,142.8 632,140.5 643.2,139.1 654.3,138.5 666.2,138.7 678,139.8 689.8,141.7 701.6,144.4 714.1,148 726.6,152.4" stroke="#3e4c8a"/>
<polyline points="136.1,461.1 140.7,467.9 145.3,474.1 149.9,479.8 153.8,484.3 157.8,488.3 161.1,491.3 173.5,501.7 180.1,506.6 186.7,511.2 193.3,515.4 199.2,518.8 205.7,522.2 211.6,524.9 218.2,527.5 224.1,529.4 230,530.9 235.3,532 240.5,532.7 245.8,533.1 251.1,533.2 256.3,532.9 261.6,532.3 266.8,531.4 272.1,530.1 277.3,528.4 282.6,526.4 287.2,524.3 292.4,521.6 297.7,518.5 302.9,515 307.5,511.6 315.4,505.2 323.3,498 331.2,489.9 339.7,480.1 348.3,469.5 356.8,457.9 365.3,445.5 373.9,432.2 381.1,420.4 388.3,408.1 404.7,378.6 419.9,350 456,280 473.7,247.1 482.9,230.9 491.4,216.6 500,203 507.9,191.4 516.4,179.6 524.3,169.7 532.8,160.1 540.7,152.2 549.2,144.8 557.1,139.1 565,134.4 572.9,130.8 576.8,129.3 580.8,128.2 584.7,127.2 589.3,126.5 593.3,126.1 597.9,126 601.8,126.1 606.4,126.6 610.3,127.3 614.9,128.4 618.9,129.5 623.5,131.2 628.1,133.1 632.7,135.3 641.9,140.5 651.1,146.7 660.9,154.4 670.8,163.1 680.6,172.7 691.1,183.9 702.3,196.6 714.1,210.9 726.6,226.8" stroke="#472a7a"/>
<polyline points="136.1,461.8 144,472.8 151.2,481.5 158.4,488.9 167,496.3 179.5,506.1 186,510.8 191.9,514.7 197.8,518.4 203.8,521.7 209.7,524.7 214.9,527.1 224.8,530.8 230,532.4 234.6,533.5 239.2,534.4 243.8,535 248.4,535.4 253,535.5 257.6,535.4 262.2,535 266.8,534.2 270.8,533.4 275.4,532.2 280,530.7 288.5,527 297,522.3 305.6,516.6 313.5,510.3 322,502.5 330.5,493.6 339.1,483.8 347.6,472.9 356.1,461 364,449.3 372.6,435.8 381.1,421.6 390.3,405.6 408.7,371.8 443.5,305.2 458.6,277 474.4,248.9 481.6,236.7 488.8,224.9 497.4,211.7 505.2,200.2 513.8,188.6 521.7,178.6 529.5,169.5 537.4,161.2 545.3,153.6 553.2,146.9 557.8,143.4 563,139.7 567.6,136.8 572.9,133.8 577.5,131.5 582.7,129.1 587.3,127.4 592.6,125.7 597.2,124.5 602.5,123.4 607.7,122.7 613,122.3 617.6,122.2 622.8,122.3 628.1,122.8 633.3,123.5 638.6,124.6 643.8,125.9 649.1,127.4 655,129.5 660.3,131.6 666.2,134.2 677.3,140 689.2,147.2 701,155.3 713.5,164.9 726.6,176" stroke="#443983"/>
<polyline points="136.1,460.6 140.7,467.4 145.3,473.7 149.9,479.4 154.5,484.6 159.1,489.2 163.7,493.4 170.9,499.4 178.1,505.1 185.4,510.4 191.9,514.9 199.2,519.3 205.7,523 213,526.7 219.5,529.6 226.1,532.1 232.7,534.1 238.6,535.7 244.5,536.8 250.4,537.6 256.3,538 262.2,538 268.1,537.7 274,536.9 279.3,535.8 285.2,534.2 290.5,532.4 295.7,530.2 301,527.7 306.2,524.7 311.5,521.4 316.7,517.6 322,513.5 330.5,505.8 339.1,497 347.6,487 356.1,475.8 364,464.4 372.6,450.8 381.1,436 389.6,420 396.9,405.6 404.1,390.4 411.3,374.6 419.2,356.5 433,323.5 463.9,247.3 478.3,213.4 484.9,198.9 491.4,185.2 498,172.3 503.9,161.7 510.5,150.9 516.4,142.2 523,133.7 528.9,127.2 534.8,121.8 540.7,117.5 546.6,114.3 549.9,113 553.2,112 556.5,111.4 560.4,111 563.7,111.1 567.6,111.6 570.9,112.3 574.9,113.5 578.8,115.2 582.7,117.3 586.7,119.7 590.6,122.5 594.6,125.6 598.5,129 607.1,137.5 615.6,147.2 624.1,157.9 632.7,169.6 641.9,182.9 652.4,199 670.1,227.5 708.9,291.7 726.6,320.6" stroke="#3b528b"/>
<polyline points="136.1,461.5 144,472.5 151.2,481.3 158.4,488.8 167.6,496.8 180.1,506.6 186.7,511.2 192.6,515.2 198.5,518.8 204.4,522.1 210.3,525 215.6,527.3 220.8,529.4 225.4,530.9 234.6,533.2 239.9,534.1 244.5,534.6 249.1,534.9 253.7,534.8 258.3,534.5 262.9,534 267.5,533.1 272.1,532 276.7,530.6 281.3,528.8 289.8,524.9 297,520.8 304.9,515.5 312.1,509.9 320,503.1 327.9,495.4 335.8,487.1 343.7,478 352.2,467.4 360.1,457.1 368,446.2 376.5,433.8 385,421 402.1,394.4 438.2,336.1 454,311.2 471.1,285.2 486.2,263.5 495.4,251 503.9,239.9 513.1,228.6 521.7,218.7 530.2,209.3 538.7,200.6 547.3,192.4 555.2,185.5 565,177.5 575.5,169.9 585.4,163.6 595.9,157.9 605.7,153.3 616.2,149.2 626.8,146 637.3,143.7 647.8,142.2 658.9,141.5 669.4,141.6 680.6,142.5 691.8,144.3 703.6,146.9 714.8,150.3 726.6,154.5" stroke="#443b84"/>
<polyline points="136.1,460.2 140.7,467.2 145.3,473.6 149.9,479.4 154.5,484.7 158.4,488.7 163,492.9 169.6,498.5 176.2,503.7 183.4,509 190,513.4 196.5,517.4 203.1,521 209.7,524.3 216.2,527.1 222.8,529.5 229.4,531.4 235.3,532.8 241.2,533.8 247.1,534.5 253,534.7 258.9,534.6 264.8,534 270.8,533 276,531.8 281.9,530 287.2,528 292.4,525.7 297.7,522.9 302.9,519.8 308.2,516.3 313.5,512.3 318.7,507.9 327.2,499.9 335.8,490.7 344.3,480.2 352.9,468.5 361.4,455.4 369.3,442.2 377.2,427.9 385.7,411.2 392.3,397.4 399.5,381.5 406.7,364.7 414.6,345.6 428.4,310.5 458,232.5 470.4,201.2 476.3,187.3 482.3,174.2 488.2,161.9 493.4,151.8 499.3,141.6 505.2,132.6 511.2,124.9 516.4,119.1 521.7,114.5 526.9,111 529.5,109.6 532.2,108.6 534.8,107.8 538.1,107.2 540.7,107 544,107.2 547.3,107.7 550.6,108.7 553.8,110 557.1,111.8 560.4,113.8 563.7,116.2 570.3,122 577.5,129.8 585.4,139.7 593.3,150.8 599.2,159.9 605.7,170.6 613,183 620.2,195.8 634,221.3 670.8,290.7 691.1,327.8 700.3,343.8 709.5,359.4 718.1,373.3 726.6,386.8" stroke="#2a768e"/>
<polyline points="136.1,461.1 143.3,471.4 150.6,480.4 157.8,488.1 165.7,495.2 177.5,504.7 188.7,512.6 193.9,515.8 199.2,518.8 204.4,521.5 209.7,523.9 214.3,525.7 218.9,527.2 227.4,529.3 232,530.1 236.6,530.6 241.2,530.8 245.1,530.7 249.1,530.4 253.7,529.8 262.2,528 270.8,525.1 275.4,523.2 280,521 285.9,517.8 292.4,513.8 298.3,509.8 304.9,504.9 311.5,499.5 318,493.8 325.3,487 332.5,479.9 345.6,466.1 360.1,450 375.8,431.6 411.3,389.2 428.4,369.2 446.1,348.9 463.2,330.3 482.3,310.5 501.3,292 520.3,274.7 529.5,266.9 539.4,258.8 549.9,250.5 561.1,242.2 572.2,234.3 583.4,226.8 594.6,219.6 606.4,212.6 617.6,206.2 629.4,200 641.2,194.1 653,188.6 664.9,183.5 676.7,178.8 689.2,174.1 701.6,169.9 714.1,166 726.6,162.5" stroke="#3bbb75"/>
<polyline points="136.1,460.4 140.7,467.3 145.3,473.6 149.9,479.4 153.8,483.9 157.8,488 161.1,491.1 167.6,496.8 173.5,501.6 180.1,506.6 186.7,511.2 193.3,515.4 199.2,518.8 205.7,522.2 211.6,524.9 218.2,527.5 224.1,529.4 230,530.9 235.3,532 240.5,532.7 245.8,533.1 251.1,533.1 256.3,532.8 261.6,532.2 266.8,531.2 272.1,529.9 277.3,528.2 282.6,526.1 287.8,523.6 293.1,520.8 298.3,517.6 303.6,513.9 308.2,510.5 316.7,503.2 324.6,495.5 332.5,487 341,476.8 348.9,466.4 357.5,454.2 366,441 374.5,427 381.8,414.4 389.6,400.1 405.4,369.7 420.5,339 454.7,267.8 471.1,235 479.6,218.9 487.5,204.7 494.7,192.5 502,181.1 509.8,169.6 517.7,159.2 525.6,150 532.8,142.7 536.8,139.1 540.7,135.8 547.9,130.7 555.2,126.7 558.4,125.2 562.4,123.7 566.3,122.6 570.3,121.8 574.2,121.2 578.8,121 582.7,121.2 587.3,121.7 591.3,122.5 595.9,123.8 599.8,125.2 604.4,127.2 609,129.5 613.6,132.2 618.2,135.2 622.8,138.6 632,146.1 641.9,155.4 651.7,165.8 662.2,178 672.7,191.2 683.9,206 696.4,223.5 710.2,243.7 726.6,268.4" stroke="#46337f"/>
<polyline points="136.1,462 140.7,468.5 144.6,473.7 148.6,478.5 152.5,482.9 159.8,490.1 170.3,498.9 183.4,508.9 190,513.4 196.5,517.6 203.1,521.5 209,524.6 214.9,527.5 220.8,530 226.1,532 231.3,533.7 236.6,535.2 241.2,536.2 246.5,537 251.1,537.6 256.3,537.9 260.9,537.9 266.2,537.6 270.8,537 276,536.1 280.6,535 285.9,533.5 290.5,531.8 295.1,529.9 299.7,527.7 307.5,523.4 316.1,517.7 324,511.8 332.5,504.4 341,496.2 349.6,487.2 358.1,477.3 367.3,465.9 375.2,455.5 383.7,443.6 392.3,431.2 401.5,417.3 419.9,388.2 455.3,330.2 470.4,306 486.9,280.6 501.3,259.6 509.8,247.8 518.4,236.5 526.9,225.9 534.8,216.6 542.7,207.9 550.6,199.8 558.4,192.2 566.3,185.2 576.2,177.4 585.4,170.9 594.6,165.2 604.4,160.1 613.6,156.1 623.5,152.8 633.3,150.3 643.2,148.7 653,147.9 663.5,148.1 673.4,149 683.9,150.8 694.4,153.5 704.9,156.9 715.4,161.1 726.6,166.4" stroke="#46307e"/>
<polyline points="136.1,462.5 140.7,468.9 145.3,474.9 149.9,480.3 154.5,485.2 158.4,489 162.4,492.5 169.6,498.4 176.8,504 184.1,509.3 190.6,513.8 197.8,518.4 204.4,522.2 211,525.6 216.9,528.4 223.5,531.1 229.4,533.1 234.6,534.6 239.9,535.8 245.1,536.7 250.4,537.2 255.6,537.4 260.9,537.2 266.2,536.7 270.8,535.9 276,534.6 280.6,533.2 285.2,531.4 289.8,529.3 295.1,526.5 299.7,523.7 304.3,520.5 308.9,517 316.1,510.7 323.3,503.5 330.5,495.5 338.4,485.7 345.6,475.8 353.5,464 360.7,452.4 368.6,438.9 375.2,426.9 381.8,414.4 396.2,385.4 410,356.2 443.5,283.5 460.6,248 469.8,230 478.3,214.2 486.9,199.3 494.7,186.4 503.3,173.5 511.8,161.8 520.3,151.3 528.9,141.9 537.4,133.7 546,126.8 554.5,121 559.1,118.3 563.7,116 567.6,114.2 572.2,112.5 576.2,111.2 580.8,110 589.3,108.5 593.9,108.1 598.5,108 603.1,108.2 607.7,108.5 616.9,110 626.1,112.4 636,115.9 645.8,120.2 656.3,125.8 666.8,132.2 678,139.8 689.2,148.2 701,157.9 713.5,168.9 726.6,181.1" stroke="#3c508b"/>
<polyline points="136.1,461.9 144,472.8 147.9,477.7 151.9,482.2 159.1,489.5 168.3,497.4 180.8,507 186.7,511.1 192.6,514.9 198.5,518.5 204.4,521.7 210.3,524.6 215.6,526.8 220.8,528.8 225.4,530.2 234.6,532.4 239.9,533.2 244.5,533.7 249.1,533.9 253.7,533.8 258.3,533.4 262.9,532.8 267.5,531.9 272.1,530.7 276.7,529.2 281.3,527.5 285.9,525.5 290.5,523.2 297.7,519.1 304.9,514.3 312.1,508.8 320,502.2 327.2,495.5 335.1,487.5 343,478.9 351.5,468.9 358.8,460 366.7,449.8 383.7,426.4 400.8,401.7 437.6,346.8 454,322.8 471.1,298.7 486.9,277.5 496,265.8 505.2,254.5 514.4,243.7 523,234.2 531.5,225.2 540.1,216.6 548.6,208.6 557.1,201 567,192.9 577.5,185 587.3,178.3 597.9,171.8 607.7,166.5 618.2,161.4 628.7,157.2 639.2,153.6 649.7,150.7 660.3,148.5 670.8,146.9 681.9,146 693.1,145.7 704.3,146.2 715.4,147.3 726.6,149.1" stroke="#424186"/>
<polyline points="136.1,461.5 144,472.6 147.9,477.6 151.9,482.2 159.1,489.6 168.3,497.5 180.8,507.2 186.7,511.4 192.6,515.2 198.5,518.8 204.4,522 210.3,524.8 215.6,527 220.8,529 225.4,530.4 230,531.6 234.6,532.5 239.9,533.2 244.5,533.6 249.1,533.7 253.7,533.6 258.3,533.1 262.9,532.4 267.5,531.4 272.1,530.1 276.7,528.6 281.3,526.7 285.9,524.6 290.5,522.2 297.7,517.9 304.9,512.8 312.1,507.2 320,500.2 327.9,492.6 335.8,484.2 343.7,475.2 352.2,464.8 359.4,455.5 367.3,444.9 375.8,432.9 384.4,420.5 402.1,393.7 438.9,336.5 454.7,312.4 471.7,287.2 487.5,265.1 496.7,252.8 505.9,241.1 515.1,229.8 523.6,219.9 532.2,210.5 540.7,201.6 549.2,193.3 557.8,185.4 568.3,176.5 578.2,168.9 588,162 598.5,155.4 608.4,150 618.9,144.9 629.4,140.7 639.9,137.2 650.4,134.4 660.9,132.3 671.4,131 682.6,130.4 693.1,130.4 704.3,131.2 715.4,132.7 726.6,134.9" stroke="#433e85"/>
<polyline points="136.1,460.6 140.7,467.6 144.6,473.1 148.6,478.1 152.5,482.8 156.5,487 159.8,490.3 170.3,499.3 176.2,503.9 182.1,508.1 188,512.1 193.9,515.6 199.8,518.8 205.7,521.6 211.6,524 216.9,525.7 222.2,527.1 226.7,528.1 231.3,528.7 235.9,529.1 241.2,529.1 245.8,528.8 250.4,528.2 255,527.3 259.6,526.1 264.2,524.5 268.8,522.7 273.4,520.4 278,517.8 282.6,514.9 287.2,511.6 291.8,508 299,501.6 306.2,494.3 313.5,486.2 321.3,476.3 328.6,466.4 336.4,454.6 343.7,443 351.5,429.6 358.1,417.7 364.7,405.4 379.1,376.7 392.9,347.9 425.1,279.1 434.3,260 442.2,244.1 450.7,227.7 459.3,212.1 467.1,198.6 474.4,187 482.9,174.5 491.4,163.3 500,153.4 507.9,145.5 512.5,141.5 516.4,138.4 520.3,135.5 524.3,133 528.2,130.8 532.2,128.9 536.1,127.3 540.7,125.8 545.3,124.7 549.9,124 554.5,123.7 559.1,123.7 563.7,124.1 568.3,124.9 572.9,126 577.5,127.5 582.1,129.3 587.3,131.7 591.9,134.1 597.2,137.3 602.5,140.8 607.7,144.6 613,148.8 618.2,153.3 628.7,163.2 639.9,174.9 651.7,188.3 664.2,203.6 677.3,220.7 691.8,240.4 707.5,262.7 726.6,290.4" stroke="#46337f"/>
<polyline points="136.1,461.9 140.7,468.5 146,475.4 151.2,481.6 156.5,487.1 161.1,491.3 169.6,498.4 177.5,504.5 185.4,510.2 193.9,516 201.8,520.9 210.3,525.9 218.2,530 226.7,534.1 234.6,537.3 242.5,540.2 250.4,542.6 257.6,544.4 264.2,545.7 271.4,546.7 278,547.1 284.5,547.2 291.1,546.9 297.7,546.1 303.6,544.9 309.5,543.4 315.4,541.3 321.3,538.8 327.2,535.8 332.5,532.6 337.8,529 343,524.9 348.3,520.2 355.5,512.8 362.7,504.3 369.9,494.5 376.5,484.3 383.1,472.9 389.6,460.1 396.2,445.9 402.1,431.8 408.7,414.6 415.3,395.8 421.8,375.4 428.4,353.4 434.3,332.4 440.9,307.8 461.9,225.2 469.1,197.7 477,170 483.6,149.7 488.2,137.3 492.1,128.1 496,120.2 500,113.7 503.9,108.6 505.9,106.6 507.9,104.9 509.8,103.6 511.8,102.7 513.8,102.1 516.4,101.8 519.7,102.2 523,103.5 526.3,105.5 529.5,108.2 532.8,111.7 536.8,116.5 540.1,121.2 544,127.4 547.9,134.2 552.5,142.8 562.4,162.8 571.6,182.7 599.2,244 615.6,278.8 630.7,308.9 638.6,323.7 645.8,336.8 655.7,353.8 665.5,369.9 675.4,385.2 685.2,399.6 695.1,413.2 705.6,426.9 716.1,439.8 726.6,451.8" stroke="#23898e"/>
<polyline points="136.1,460.5 140.7,467.4 145.3,473.8 149.9,479.5 153.8,484.1 157.8,488.1 161.7,491.8 168.3,497.4 174.9,502.7 181.4,507.5 188,512 194.6,516.1 201.1,519.8 207.7,523.1 214.3,526 220.8,528.4 226.7,530.3 232.7,531.7 238.6,532.8 244.5,533.6 249.7,533.9 255.6,533.9 260.9,533.6 266.8,532.9 272.1,531.9 278,530.5 283.2,528.8 289.1,526.6 294.4,524.3 300.3,521.3 305.6,518.3 310.8,515 316.7,510.9 325.3,504.2 334.5,496.1 343.7,487 352.9,477 362.1,466 371.3,454.1 380.4,441.4 390.3,426.9 398.2,414.6 406.7,400.8 415.3,386.5 424.5,370.5 441.5,339.7 479.6,269.4 498,236.8 506.6,222.4 515.1,208.7 523,196.6 530.9,185.2 539.4,173.8 547.3,164.2 555.2,155.5 562.4,148.4 570.3,141.6 577.5,136.3 584.7,131.9 591.9,128.4 599.2,125.8 603.1,124.8 607.1,124.1 614.3,123.5 618.2,123.6 622.2,123.9 626.1,124.5 630,125.3 634,126.5 637.9,127.8 645.8,131.3 653.7,135.8 661.6,141.1 670.1,147.9 678.6,155.6 687.8,164.8 697,175 706.2,186 716.1,198.6 726.6,212.8" stroke="#482475"/>
<polyline points="136.1,460.4 143.3,471 149.9,479.4 157.1,487.4 164.4,494 176.2,503.6 187.3,511.6 193.3,515.4 198.5,518.4 204.4,521.6 209.7,524 214.9,526.2 219.5,527.8 228.7,530.4 233.3,531.3 237.9,532 242.5,532.4 247.1,532.6 251.7,532.5 256.3,532.1 264.8,530.8 269.4,529.6 274,528.2 282.6,524.9 291.1,520.5 300.3,514.8 309.5,508 318.7,500.1 327.9,491 337.1,481 346.3,469.9 355.5,457.9 364,445.9 373.2,432.3 383.1,416.8 392.9,400.6 412.6,366.6 450.1,299.3 465.2,272.7 481.6,245 496,222.3 504.6,209.8 513.1,198 521.7,187 529.5,177.5 537.4,168.9 545.3,161.1 553.2,154 560.4,148.3 565.7,144.6 570.3,141.7 574.9,139 579.5,136.7 584.1,134.7 589.3,132.7 593.9,131.2 599.2,130 603.8,129.1 609,128.6 613.6,128.4 618.9,128.5 623.5,128.8 628.7,129.6 633.3,130.6 638.6,132 643.2,133.4 648.4,135.5 653.7,137.8 658.9,140.4 664.2,143.4 669.4,146.6 674.7,150.1 680.6,154.3 691.8,163.2 702.9,173.2 714.8,184.9 726.6,197.5" stroke="#481d6f"/>
<polyline points="136.1,461.6 140.7,468.3 145.3,474.4 149.9,480 154.5,485.1 159.1,489.6 163.7,493.6 170.9,499.5 178.1,505.1 185.4,510.2 191.9,514.6 199.2,518.9 205.7,522.5 213,526.1 219.5,528.9 226.1,531.3 232.7,533.3 238.6,534.7 244.5,535.8 250.4,536.5 255.6,536.8 261.6,536.7 266.8,536.4 272.7,535.5 278,534.4 283.9,532.7 289.1,530.8 294.4,528.6 299.7,525.9 304.9,522.8 310.2,519.3 315.4,515.4 320,511.6 328.6,503.7 336.4,495.3 345,484.9 352.9,474.2 360.7,462.4 368.6,449.5 376.5,435.5 385,419.1 391.6,405.6 398.8,390 406.1,373.7 413.9,355.1 427.7,321 458,244.1 471.7,210.8 478.3,195.8 484.9,181.7 491.4,168.6 497.4,157.6 503.9,146.6 509.8,137.7 516.4,129 522.3,122.4 528.2,116.9 531.5,114.3 534.8,112.1 537.4,110.6 540.7,108.9 544,107.7 547.3,106.7 550.6,106.1 554.5,105.8 557.8,105.9 561.7,106.4 565,107.1 569,108.4 572.9,110 576.8,112.1 580.8,114.5 584.7,117.2 588.7,120.3 593.3,124.3 601.8,132.7 611,143 619.5,153.7 628.1,165.1 637.3,178.2 647.8,193.9 665.5,221.7 706.9,288.5 726.6,319.7" stroke="#39568c"/>
<polyline points="136.1,459.8 140.7,466.9 146,474.3 150.6,480.1 155.8,486 160.4,490.5 167,496.2 174.2,502.1 181.4,507.6 188.7,512.6 196.5,517.7 204.4,522.2 212.3,526.3 220.2,529.9 227.4,532.7 235.3,535.4 242.5,537.4 249.7,538.9 256.3,539.9 262.9,540.5 269.4,540.7 276,540.5 282.6,539.8 289.1,538.6 295.1,537.1 301,535.2 306.9,532.8 312.8,530 318.7,526.5 324,523 329.2,519 334.5,514.5 339.7,509.5 346.9,501.6 354.2,492.5 361.4,482 368,471.2 374.5,459 381.1,445.4 387.7,430.2 393.6,415.2 400.2,396.7 406.1,378.6 412,358.9 418.5,335.3 424.5,312.6 430.4,288.7 448.8,210.4 455.3,183.3 461.2,160.7 467.1,140.5 471.1,128.8 474.4,120.3 477.7,113.1 480.9,107.1 484.2,102.5 487.5,99.3 488.8,98.4 490.8,97.4 492.8,96.9 494.7,96.9 497.4,97.6 500,99.1 502.6,101.3 505.9,105 509.2,109.7 512.5,115.3 515.8,121.6 519,128.6 524.3,141 530.9,157.8 538.1,177.6 563.7,249.4 573.6,275.5 582.7,298.6 593.3,323.3 603.8,346.1 614.3,367.3 624.8,386.7 636,405.7 647.8,423.9 653.7,432.4 660.3,441.4 666.2,449.1 672.7,457.1 679.3,464.8 685.9,472 692.4,478.8 699,485.3 705.6,491.3 712.8,497.5 719.4,502.8 726.6,508.2" stroke="#3bbb75"/>
<polyline points="136.1,461 140.7,467.8 145.3,474.1 149.9,479.8 154.5,484.9 159.1,489.5 163.7,493.6 170.9,499.6 178.1,505.1 185.4,510.3 192.6,515 199.8,519.3 206.4,522.9 213.6,526.3 220.2,529.1 226.7,531.4 233.3,533.3 239.9,534.9 245.8,535.9 251.7,536.5 257.6,536.8 263.5,536.7 269.4,536.2 275.4,535.4 280.6,534.3 286.5,532.6 292.4,530.6 298.3,528.1 303.6,525.5 309.5,522.1 314.8,518.8 320,515 325.3,510.9 334.5,502.8 343,494.1 352.2,483.5 360.7,472.5 369.3,460.4 377.8,447.2 386.4,432.9 395.6,416.2 402.8,402.3 410.7,386.3 418.5,369.5 426.4,352.1 440.9,318.7 473.1,241.9 487.5,209.1 494.1,195 500.6,181.7 507.2,169.3 513.1,158.9 519.7,148.4 525.6,139.9 532.2,131.6 538.1,125.2 544,119.9 549.9,115.7 555.8,112.5 558.4,111.5 561.7,110.5 565,109.8 569,109.4 572.2,109.4 576.2,109.9 579.5,110.6 583.4,111.8 586.7,113.1 590.6,115.1 594.6,117.5 598.5,120.2 602.5,123.3 606.4,126.8 614.3,134.6 622.8,144.3 630.7,154.3 639.2,166 648.4,179.6 658.3,194.9 677.3,226.2 726.6,309.9" stroke="#3b518b"/>
<polyline points="136.1,458.8 140.7,466 145.3,472.7 149.9,478.8 153.8,483.5 157.8,487.7 161.1,491 167.6,496.8 173.5,501.7 180.1,506.8 186,511 192.6,515.2 198.5,518.6 205.1,522 211,524.7 217.6,527.2 223.5,529 229.4,530.5 234.6,531.4 240.5,532.1 245.8,532.4 251.7,532.3 257,531.9 262.2,531.1 267.5,530 273.4,528.4 278.6,526.5 283.9,524.3 289.1,521.8 294.4,518.8 299.7,515.5 304.9,511.9 310.2,507.8 319.4,499.8 327.9,491.3 336.4,481.8 345,471.3 353.5,459.7 362.7,446.1 371.3,432.5 380.4,416.7 387.7,403.5 395.6,388.5 403.4,372.8 412,355.1 427.1,322.5 459.9,249.6 474.4,219 481.6,204.5 488.2,192 494.7,180.3 501.3,169.4 507.9,159.5 514.4,150.6 521,142.8 527.6,136.1 530.9,133.3 534.1,130.8 540.1,127 546,124.3 549.2,123.2 552.5,122.4 555.8,122 559.8,121.9 563,122.2 567,123 570.3,123.9 574.2,125.4 578.2,127.4 582.1,129.8 586,132.5 590,135.6 593.9,139.1 597.9,143 601.8,147.1 606.4,152.4 614.9,163.2 622.8,174.2 630.7,186.1 639.2,199.8 648.4,215.3 665.5,245.6 706.9,321.1 726.6,355.8" stroke="#424086"/>
<polyline points="136.1,460.2 140.7,467.2 145.3,473.6 149.9,479.4 154.5,484.7 158.4,488.7 163,492.9 170.3,499 176.8,504.2 184.1,509.4 190.6,513.8 197.2,517.8 203.8,521.4 210.3,524.6 216.9,527.3 223.5,529.7 230,531.6 235.9,532.9 241.9,533.9 247.8,534.5 253.7,534.7 259.6,534.5 264.8,534 270.8,533.1 276,531.9 281.9,530.1 287.2,528.1 293.1,525.5 298.3,522.8 303.6,519.6 308.9,516.1 314.1,512.2 319.4,507.9 327.9,499.9 336.4,490.9 345,480.6 353.5,469.2 362.1,456.5 369.9,443.7 378.5,428.6 387,412.3 394.2,397.6 401.5,382.2 408.7,365.9 416.6,347.5 431,312 461.2,235.2 474.4,203.4 480.9,188.5 486.9,175.8 492.8,163.9 498,154.2 503.9,144.2 509.8,135.2 515.8,127.5 521.7,121 527.6,115.7 532.8,112.2 535.5,110.8 538.7,109.4 541.4,108.6 544.7,107.9 547.9,107.6 551.2,107.7 554.5,108.2 557.8,109.1 561.1,110.3 564.4,111.8 567.6,113.7 571.6,116.4 574.9,119 578.8,122.5 586,129.9 593.9,139.4 601.8,150.1 607.7,158.8 614.3,169.1 621.5,181 628.7,193.4 643.8,220.5 677.3,282.5 693.8,312.4 710.8,342.2 726.6,368.4" stroke="#2d718e"/>
<polyline points="136.1,460.7 140.7,467.6 146,474.8 150.6,480.4 155.8,486.2 160.4,490.6 167.6,496.8 174.9,502.6 182.7,508.4 190.6,513.9 199.2,519.3 207,523.9 214.9,528 222.8,531.7 230.7,535 238.6,537.7 245.8,539.8 252.4,541.3 258.9,542.5 265.5,543.1 272.1,543.4 278,543.2 283.9,542.5 289.8,541.4 295.1,540 300.3,538.1 305.6,535.7 310.8,532.8 315.4,529.7 320,526.2 324.6,522.1 329.2,517.4 333.8,512.1 340.4,503.1 346.3,493.6 352.2,482.6 357.5,471.2 362.7,458.3 368,443.5 373.2,426.8 377.8,410.5 383.1,389.5 387.7,369.2 392.3,346.9 396.9,322.7 405.4,273 423.1,161.9 427.7,136 431.7,116.3 434.3,104.8 436.9,94.8 439.6,86.4 442.2,79.7 444.2,75.8 445.5,73.7 446.8,72.1 448.1,70.8 449.4,70 450.7,69.6 452,69.5 454,70.2 456,71.6 458,73.7 460.6,77.6 462.5,81.2 465.2,86.8 467.8,93.3 470.4,100.4 474.4,112 479,126.7 500,198.3 510.5,232.3 516.4,250.4 522.3,267.5 528.2,283.9 534.1,299.3 544.7,324.8 549.9,336.6 555.8,349.3 561.1,360 567,371.4 572.9,382.2 578.8,392.5 586.7,405.4 594.6,417.5 603.1,429.7 611.6,441 620.2,451.6 629.4,462.3 638.6,472.1 647.8,481.3 657.6,490.4 667.5,498.7 677.3,506.3 687.2,513.3 697,519.6 706.9,525.2 716.7,530.1 726.6,534.4" stroke="#b5de2b"/>
<polyline points="136.1,459.7 140.7,466.8 145.3,473.4 149.9,479.3 155.2,485.3 159.8,490 165.7,495.2 172.2,500.6 179.5,506.2 186.7,511.2 193.9,515.8 201.1,520 209,524.1 216.2,527.3 223.5,530.1 230.7,532.5 237.9,534.4 245.1,535.8 251.7,536.7 258.3,537.3 264.8,537.4 271.4,537.1 278,536.4 284.5,535.2 290.5,533.8 297,531.7 302.9,529.5 309.5,526.5 315.4,523.3 321.3,519.7 327.2,515.6 333.2,511.1 338.4,506.6 346.3,499 354.2,490.5 362.1,480.8 369.9,470 377.8,458 385,445.9 392.3,432.6 399.5,418.1 407.4,400.9 415.3,382.3 423.1,362.2 431,340.6 438.2,319.8 446.1,295.9 469.8,221.1 478.3,194.8 486.9,170.3 494.1,151.7 498.7,141.2 503.3,131.9 507.9,124 512.5,117.4 515.1,114.3 517.1,112.3 521,109.2 523,108.1 524.9,107.3 526.9,106.7 529.5,106.4 532.8,106.8 534.8,107.3 536.8,108.2 540.7,110.6 544.7,114.1 548.6,118.4 552.5,123.6 556.5,129.6 561.1,137.4 565,144.8 569.6,154 574.9,165.3 580.1,177.1 590,200.5 616.9,266 632,301.1 644.5,328.4 657,353.9 665.5,370.2 674,385.6 682.6,400.1 691.1,413.8 699.7,426.6 708.9,439.6 717.4,450.7 726.6,461.9" stroke="#27808e"/>
<polyline points="136.1,461.8 140.7,468.4 145.3,474.5 149.9,480.1 153.8,484.4 161.1,491.4 168.3,497.4 175.5,503.1 182.7,508.5 189.3,513 195.9,517.1 202.4,520.9 209,524.4 214.9,527.1 221.5,529.7 227.4,531.7 233.3,533.3 238.6,534.4 243.8,535.2 249.1,535.6 254.3,535.7 259.6,535.5 264.8,534.9 269.4,534 274.7,532.7 279.3,531.2 284.5,529.1 289.1,526.9 294.4,524 299,521.1 303.6,517.9 308.2,514.4 316.1,507.5 323.3,500.3 330.5,492.2 338.4,482.4 346.3,471.6 354.2,459.8 362.1,447.1 369.9,433.5 376.5,421.5 383.7,407.7 398.2,378.5 412,349.1 444.8,277.3 454,257.8 461.9,241.6 470.4,224.8 478.3,210 486.2,196.1 494.1,183.1 502.6,170.2 510.5,159.5 519,149 526.9,140.6 534.8,133.4 542.7,127.3 546.6,124.7 550.6,122.3 554.5,120.3 559.1,118.3 563,116.8 567.6,115.5 571.6,114.6 576.2,113.9 580.1,113.6 584.7,113.6 589.3,113.8 593.9,114.4 598.5,115.3 603.1,116.5 607.7,118 612.3,119.7 621.5,124 631.4,129.6 641.2,136.3 651.7,144.4 662.9,154.1 674,164.6 685.9,176.7 698.3,190.3 712.1,206.1 726.6,223.5" stroke="#404588"/>
<polyline points="136.1,461 144,472.2 151.2,481.1 158.4,488.7 166.3,495.7 178.1,505.2 189.3,513 195.2,516.6 200.5,519.6 205.7,522.2 211,524.5 220.2,527.8 224.8,529.1 229.4,530.1 234,530.9 238.6,531.4 247.1,531.7 251.7,531.4 256.3,530.9 260.9,530.1 265.5,529.1 270.1,527.8 274.7,526.2 283.9,522.4 290.5,519.1 297,515.3 303.6,511.1 310.8,506 318,500.4 325.3,494.3 333.2,487.3 341,479.8 355.5,465.3 371.3,448.3 388.3,429.1 425.8,385.9 442.8,366.5 461.2,346.3 478.3,328.2 498,308.5 517.1,290.7 526.3,282.6 535.5,274.8 544.7,267.3 553.8,260.2 564.4,252.4 574.9,245.1 585.4,238.2 596.5,231.3 607.1,225.3 617.6,219.7 628.1,214.5 639.2,209.4 649.7,205.1 660.9,201 671.4,197.5 682.6,194.2 693.1,191.6 704.3,189.2 715.4,187.3 726.6,185.8" stroke="#4ec36b"/>
<polyline points="136.1,461.2 143.3,471.5 149.9,479.7 157.1,487.5 164.4,494.1 176.2,503.6 187.3,511.6 193.3,515.4 198.5,518.5 203.8,521.2 209,523.7 218.2,527.2 226.7,529.6 231.3,530.5 235.3,531 239.9,531.3 243.8,531.4 248.4,531.2 252.4,530.7 260.2,529.1 264.8,527.7 268.8,526.3 276.7,522.7 283.9,518.4 291.1,513.4 298.3,507.5 306.2,500.1 313.5,492.5 321.3,483.3 328.6,474 336.4,463.2 343.7,452.5 351.5,440.2 359.4,427.3 368,412.7 385,382 420.5,315.9 436.3,287.1 452.7,258.6 460.6,245.6 468.5,233 477.7,219.1 486.2,207 495.4,194.7 503.9,184 513.1,173.4 521.7,164.4 530.2,156.2 538.7,148.7 549.2,140.6 559.8,133.7 565,130.6 570.3,127.9 575.5,125.4 581.4,122.9 586.7,121 591.9,119.4 597.2,118 603.1,116.7 608.4,115.8 614.3,115.1 620.2,114.7 626.1,114.6 632,114.8 637.9,115.2 643.8,115.9 649.7,116.9 661.6,119.5 667.5,121.2 674,123.4 686.5,128.2 699.7,134.3 712.8,141.4 726.6,149.8" stroke="#404688"/>
<polyline points="136.1,462.6 144,473.4 147.9,478.2 151.9,482.6 159.1,489.8 168.9,498 182.7,508.5 189.3,513.1 195.9,517.3 202.4,521.3 208.4,524.5 214.9,527.9 220.8,530.6 231.3,534.6 236.6,536.2 241.9,537.6 247.1,538.7 252.4,539.6 257.6,540.1 262.2,540.4 267.5,540.4 272.1,540.1 276.7,539.6 281.3,538.9 286.5,537.7 291.1,536.4 295.7,534.8 300.3,533 305.6,530.5 310.2,528.1 314.8,525.4 319.4,522.4 328.6,515.5 337.8,507.4 346.9,498.1 356.1,487.7 365.3,476 375.2,462.3 383.7,449.4 392.9,434.5 402.1,418.7 412,400.8 420.5,384.7 430.4,365.4 464.5,296.7 478.3,269.6 492.1,243.7 498.7,232 505.2,220.8 513.1,208.1 520.3,197.2 527.6,187 534.8,177.7 542,169.2 549.2,161.6 556.5,154.9 563,149.6 567,146.8 571.6,143.8 576.2,141.2 580.8,139 584.7,137.4 589.3,135.8 593.9,134.6 598.5,133.7 603.1,133.1 607.7,132.9 612.3,133 616.9,133.4 621.5,134.1 626.1,135.1 630.7,136.4 636,138.2 640.5,140 645.8,142.5 655.7,147.8 666.2,154.7 677.3,163.1 689.2,173.1 701,184.2 713.5,196.8 726.6,211" stroke="#424086"/>
<polyline points="136.1,460.7 140.7,467.6 146,474.8 150.6,480.4 155.8,486.2 160.4,490.6 167,496.3 174.2,502.1 181.4,507.5 189.3,512.9 197.2,517.9 205.1,522.4 212.3,526.2 220.2,529.8 227.4,532.6 235.3,535.3 242.5,537.3 249.7,538.9 256.3,539.9 262.9,540.5 269.4,540.7 276,540.5 281.9,540 288.5,538.9 294.4,537.6 300.3,535.8 306.2,533.6 312.1,531 318,527.9 324,524.3 329.2,520.6 335.1,516 340.4,511.4 348.3,503.6 355.5,495.3 362.7,486.1 369.9,475.6 377.2,464 383.7,452.3 391,438.1 397.5,424 404.7,407.1 412,388.7 419.2,368.8 426.4,347.5 433.6,324.8 440.9,301.1 463.2,224.3 471.1,197.9 479.6,171.3 486.9,151.3 491.4,140.1 496,130.3 500.6,121.9 504.6,116 507.2,112.7 509.2,110.5 513.1,107.2 515.1,106 517.7,104.9 519.7,104.3 522.3,104.1 525.6,104.5 527.6,105.2 529.5,106.1 532.8,108.1 536.8,111.5 540.7,115.7 544.7,120.8 548.6,126.6 553.2,134.2 557.1,141.3 561.7,150.1 572.2,172.2 582.1,194.4 609,256.5 624.8,291.4 638.6,320 652.4,346.7 660.9,362.3 670.1,378.2 679.3,393.2 688.5,407.3 697.7,420.6 707.5,434 716.7,445.7 726.6,457.5" stroke="#25848e"/>
<polyline points="136.1,460.1 140.7,467.1 145.3,473.4 149.9,479.3 153.8,483.8 157.8,487.9 161.1,491.1 167.6,496.8 173.5,501.6 180.1,506.7 186.7,511.3 193.3,515.5 199.2,519 205.7,522.4 211.6,525.2 217.6,527.5 223.5,529.5 229.4,531.1 234.6,532.2 239.9,532.9 245.1,533.3 250.4,533.4 255.6,533.1 260.9,532.4 265.5,531.5 270.8,530.1 275.4,528.6 280.6,526.5 285.2,524.3 290.5,521.3 295.1,518.4 300.3,514.7 304.9,511.1 312.8,504 320.7,495.9 328.6,486.8 336.4,476.6 344.3,465.3 352.2,453 360.1,439.6 368,425.2 374.5,412.5 381.8,397.8 389,382.5 396.2,366.5 410,334.8 440.2,263.3 454.7,230.7 461.9,215.4 468.5,202.2 475,189.9 481.6,178.5 488.8,167.2 495.4,158 502,150 508.5,143.2 515.1,137.6 518.4,135.3 521.7,133.3 524.9,131.6 528.2,130.2 531.5,129.1 535.5,128.2 538.7,127.8 542.7,127.7 546.6,127.9 550.6,128.6 554.5,129.7 558.4,131.1 562.4,132.9 567,135.4 570.9,138 575.5,141.3 579.5,144.5 584.1,148.6 593.3,157.8 602.5,168.3 611,179 620.2,191.3 630,205.4 640.5,221.2 659.6,251.1 705.6,325.1 726.6,357.9" stroke="#404688"/>
<polyline points="136.1,460.3 140.7,467.2 145.3,473.6 149.9,479.4 154.5,484.7 158.4,488.7 163,492.9 169.6,498.5 176.2,503.7 183.4,509 190,513.4 196.5,517.4 203.1,521 209.7,524.2 216.2,527 222.8,529.4 228.7,531.2 234.6,532.6 240.5,533.6 246.5,534.2 252.4,534.5 258.3,534.4 263.5,533.9 269.4,533 274.7,531.9 280.6,530.2 285.9,528.3 291.1,526 296.4,523.5 302.3,520.1 307.5,516.7 312.8,513 318,508.8 327.2,500.6 335.8,491.9 344.3,482.1 352.9,471.2 361.4,459.2 369.9,446.1 378.5,432 387.7,415.6 394.9,401.9 402.8,386.2 410.7,369.7 418.5,352.6 433.6,318.4 466.5,241.8 480.9,209.6 488.2,194.5 494.7,181.5 501.3,169.2 507.2,159 513.8,148.6 520.3,139.3 526.9,131.1 532.8,124.9 539.4,119.1 545.3,114.9 551.2,111.9 554.5,110.6 557.8,109.7 561.1,109.1 565,108.8 568.3,108.9 572.2,109.4 575.5,110.2 579.5,111.4 583.4,113.2 587.3,115.3 591.3,117.7 595.2,120.6 599.2,123.8 603.1,127.3 607.1,131.2 611.6,136 620.2,146.1 628.7,157.3 637.3,169.4 646.5,183.4 656.3,199.2 674.7,230.3 710.8,293.4 726.6,320.6" stroke="#33628d"/>
<polyline points="136.1,459.1 140.7,466.4 145.3,473 149.9,479 153.8,483.7 157.8,487.9 161.7,491.7 168.3,497.4 174.9,502.7 181.4,507.6 188,512 194.6,516 201.1,519.5 207.7,522.6 214.3,525.3 220.8,527.5 226.7,529.1 232.7,530.3 238.6,531.2 244.5,531.7 250.4,531.8 256.3,531.5 262.2,530.8 268.1,529.7 274,528.3 280,526.4 285.9,524.1 291.8,521.4 297,518.7 302.9,515.2 308.2,511.8 314.1,507.5 319.4,503.3 329.2,494.5 338.4,485.2 347.6,474.7 356.8,463.2 366,450.5 375.2,436.7 384.4,421.8 394.2,404.6 402.1,390.1 410,374.8 418.5,357.4 427.1,339.4 442.8,304.6 476.3,228.4 490.8,197 497.4,183.6 503.9,170.8 509.8,160 515.8,150 521.7,140.8 527.6,132.4 533.5,125.1 539.4,118.9 545.3,113.7 551.2,109.7 554.5,107.9 557.1,106.8 562.4,105.3 565.7,104.8 569,104.7 572.2,104.9 576.2,105.7 579.5,106.7 583.4,108.4 586.7,110.2 590.6,112.8 593.9,115.3 597.9,118.7 605.1,126.1 613,135.6 620.8,146.5 627.4,156.6 634.6,168.4 642.5,182.2 651.1,197.9 666.2,227.1 705.6,305.6 716.7,327.1 726.6,345.5" stroke="#3e4c8a"/>
<polyline points="136.1,458.6 140,465 144.6,471.8 149.2,478 153.8,483.5 157.8,487.8 161.7,491.7 168.3,497.5 174.9,502.8 181.4,507.8 188,512.3 194.6,516.3 201.1,519.9 207.7,523.1 214.3,525.8 220.8,528.1 226.7,529.8 232.7,531 238.6,532 244.5,532.5 250.4,532.7 256.3,532.4 262.2,531.8 268.1,530.8 274,529.4 280,527.6 285.9,525.4 291.8,522.7 297,520 302.9,516.5 308.2,513 314.1,508.7 319.4,504.4 328.6,496.1 337.8,486.6 346.9,476 356.1,464 365.3,450.9 373.9,437.5 383.1,421.9 392.3,405.1 399.5,391 407.4,374.8 415.3,357.8 423.8,338.5 438.9,302.8 469.8,227.2 482.9,196.6 488.8,183.7 494.7,171.5 500,161.3 505.2,151.8 511.2,142.2 516.4,134.7 521.7,128.1 526.9,122.5 532.2,118 537.4,114.7 540.1,113.5 542.7,112.5 545.3,111.8 547.9,111.5 550.6,111.4 553.8,111.7 556.5,112.2 559.8,113.3 562.4,114.4 565.7,116.3 569,118.5 572.2,121.1 575.5,124.1 578.8,127.4 585.4,135.2 592.6,145.1 599.8,156.3 605.1,165.2 611,175.8 617.6,188.2 624.1,201.1 636.6,226.7 670.8,298.4 681.3,319.8 690.5,338 699.7,355.5 708.9,372.3 718.1,388.4 726.6,402.6" stroke="#38598c"/>
<polyline points="136.1,458.1 140.7,465.6 144.6,471.5 149.2,477.8 153.2,482.6 157.1,487.1 161.1,491 167,496.4 172.9,501.4 179.5,506.5 185.4,510.6 191.3,514.4 197.2,517.8 203.8,521.1 209.7,523.6 215.6,525.8 221.5,527.5 227.4,528.8 232.7,529.7 238.6,530.2 243.8,530.4 249.7,530.2 255,529.6 260.9,528.6 266.2,527.4 272.1,525.6 277.3,523.7 283.2,521.1 288.5,518.4 294.4,515.1 299.7,511.7 304.9,508 310.8,503.5 320,495.6 329.2,486.6 338.4,476.7 348.3,464.9 357.5,452.9 367.3,439 376.5,425 386.4,409 394.9,394.4 403.4,379.2 412,363.3 421.2,345.6 437.6,312.7 473.7,238.6 489.5,207.5 497.4,192.8 504.6,179.9 511.8,167.8 518.4,157.4 525.6,147 532.8,137.6 539.4,130 546,123.4 552.5,117.8 559.1,113.3 562.4,111.5 565.7,110 571.6,108 575.5,107.2 578.8,106.9 582.7,106.8 586.7,107.2 590.6,108.1 594.6,109.3 598.5,110.9 602.5,113 606.4,115.4 610.3,118.2 614.3,121.4 618.2,125 626.1,133.1 634.6,143.4 642.5,154.1 651.1,166.9 660.3,181.8 669.4,197.7 679.3,215.6 689.8,235.4 726.6,307" stroke="#453781"/>
<polyline points="136.1,461.4 144,472.5 151.2,481.4 158.4,488.9 167,496.4 179.5,506.2 186,510.9 191.9,514.8 197.8,518.5 203.8,521.8 209.7,524.7 214.9,527.1 220.2,529.1 224.8,530.7 234,533.1 238.6,533.9 243.2,534.5 247.8,534.8 252.4,534.8 257,534.6 261.6,534.1 266.2,533.4 270.8,532.3 275.4,531 280,529.4 288.5,525.6 296.4,521.2 304.3,516 312.1,509.9 320.7,502.4 328.6,494.6 337.1,485.2 345.6,475 354.2,463.9 362.1,453.1 370.6,440.6 379.1,427.5 388.3,412.8 406.7,382 442.8,319.2 458.6,292.4 475,265.7 489.5,243.5 498.7,230.3 507.2,218.7 515.8,207.7 523.6,198.2 532.2,188.6 540.1,180.5 548.6,172.3 556.5,165.5 566.3,158 576.2,151.5 586,146 591.3,143.5 596.5,141.3 606.4,137.9 611.6,136.5 616.9,135.4 626.8,134.1 632,133.7 637.3,133.6 642.5,133.8 647.8,134.2 658.3,135.7 663.5,136.9 669.4,138.4 680.6,142.1 691.8,146.7 702.9,152.2 714.8,159 726.6,166.7" stroke="#46327e"/>
<polyline points="136.1,461.1 143.3,471.4 150.6,480.4 157.8,488.1 165.7,495.2 177.5,504.7 188.7,512.6 194.6,516.2 199.8,519.2 205.1,521.8 210.3,524.2 214.9,525.9 219.5,527.4 228.1,529.5 232.7,530.2 237.3,530.7 241.9,530.8 245.8,530.7 249.7,530.4 254.3,529.8 262.9,527.8 271.4,524.9 276,523 280.6,520.7 286.5,517.5 293.1,513.4 299,509.3 305.6,504.3 312.1,498.8 319.4,492.3 326.6,485.4 333.8,478.2 346.9,464 361.4,447.5 377.2,428.7 413.3,384.5 429.7,364.7 447.4,344 464.5,324.8 483.6,304.6 502.6,285.6 512.5,276.4 521.7,268 530.9,260 540.7,251.8 551.2,243.4 562.4,234.9 573.6,226.9 584.7,219.3 595.9,212.2 607.1,205.4 618.2,199.1 630,192.8 641.9,187 653.7,181.5 665.5,176.5 677.3,171.8 689.2,167.6 701.6,163.5 714.1,159.8 726.6,156.4" stroke="#32b67a"/>
<polyline points="136.1,461.2 143.3,471.5 150.6,480.6 157.8,488.3 165.7,495.3 177.5,504.8 183.4,509 189.3,513 195.2,516.7 200.5,519.7 206.4,522.7 211.6,525 220.8,528.4 225.4,529.7 230,530.8 234.6,531.6 239.2,532.2 243.8,532.5 248.4,532.5 253,532.3 257.6,531.7 266.2,530 270.8,528.7 275.4,527 283.9,523.2 291.8,518.8 299.7,513.6 307.5,507.6 315.4,500.7 323.3,493.1 331.2,484.7 339.7,474.8 348.3,464.1 356.1,453.7 364.7,441.7 373.2,429.2 382.4,415.2 400.2,387 437.6,325.4 453.4,299.9 470.4,273.5 485.5,251.5 494.7,238.8 503.9,226.8 512.5,216.2 521,206.3 529.5,197 538.1,188.3 546.6,180.3 555.2,173 565.7,165 575.5,158.3 585.4,152.7 595.9,147.6 606.4,143.5 616.9,140.5 627.4,138.4 637.9,137.3 648.4,137.2 653.7,137.4 659.6,138 670.1,139.7 681.3,142.4 692.4,146 703.6,150.5 714.8,155.8 726.6,162.3" stroke="#472e7c"/>
<polyline points="136.1,462.5 140.7,469 146,475.7 151.2,481.8 155.8,486.5 160.4,490.8 168.3,497.3 176.2,503.4 184.1,509.2 192.6,515.2 200.5,520.2 209,525.3 216.9,529.6 224.8,533.5 232,536.7 239.9,539.7 247.1,542 253.7,543.8 260.2,545.2 266.8,546.1 272.7,546.6 278.6,546.7 284.5,546.4 290.5,545.6 295.7,544.6 301,543.1 306.2,541.2 311.5,538.9 316.7,536.1 322,532.7 326.6,529.3 331.2,525.4 335.8,521.1 339.7,516.9 343.7,512.3 350.9,502.9 358.1,491.8 364.7,480.3 371.3,467.2 377.8,452.5 384.4,436.1 391,417.9 396.2,402.1 401.5,385.1 406.7,367.1 412.6,345.5 422.5,307.2 443.5,221.7 452,189.1 456,175.2 459.9,162.2 463.9,150.2 467.8,139.3 471.7,129.7 475.7,121.3 479.6,114.3 483.6,108.6 487.5,104.3 489.5,102.6 491.4,101.2 493.4,100.2 495.4,99.5 497.4,99 499.3,98.9 502.6,99.2 506.6,100.6 509.8,102.5 513.8,105.5 517.7,109.4 521.7,113.9 525.6,119.1 530.2,125.8 534.8,133.1 539.4,140.9 549.9,160.1 559.8,179.2 589.3,237.8 607.7,272.9 624.1,302.4 639.9,329 650.4,345.8 660.9,361.8 671.4,377.1 681.9,391.6 693.1,406.3 704.3,420.3 715.4,433.5 726.6,446.1" stroke="#21918c"/>
<polyline points="136.1,460.5 144,471.8 151.2,480.9 158.4,488.5 166.3,495.6 178.1,505.1 184.1,509.5 190,513.4 195.9,517.1 201.1,520 206.4,522.6 211.6,525 216.2,526.7 220.8,528.2 225.4,529.5 230,530.4 234.6,531.2 239.2,531.6 243.8,531.7 247.8,531.6 252.4,531.2 257,530.5 261.6,529.5 265.5,528.4 269.4,527.1 274,525.3 278.6,523.2 283.2,520.8 290.5,516.5 297.7,511.4 304.9,505.7 312.1,499.2 319.4,492.2 327.2,483.8 335.1,474.7 343,465 350.2,455.7 358.1,445 374.5,421.4 391.6,395.4 429.1,336.8 445.5,311.5 463.2,285.3 479,263.2 488.2,251 497.4,239.2 506.6,228 515.8,217.4 524.9,207.4 533.5,198.6 542.7,189.7 551.2,182 561.7,173.3 572.2,165.4 582.7,158.3 593.3,152 603.8,146.5 614.9,141.5 625.4,137.6 636.6,134.3 647.1,131.9 658.3,130.1 669.4,129.1 680.6,128.9 691.8,129.5 703.6,130.9 714.8,132.9 726.6,135.8" stroke="#423f85"/>
<polyline points="136.1,461.4 140.7,468.1 145.3,474.2 149.9,479.9 153.8,484.3 161.1,491.3 174.2,502.2 180.8,507.2 187.3,511.8 193.9,516 200.5,519.9 207,523.4 213,526.1 218.9,528.5 224.8,530.5 230,532 235.3,533.1 240.5,533.9 245.8,534.3 251.1,534.3 255.6,534.1 260.9,533.4 265.5,532.5 270.8,531.1 275.4,529.5 280,527.5 284.5,525.3 289.1,522.7 293.7,519.7 298.3,516.3 302.9,512.6 310.8,505.4 318,497.9 325.3,489.4 332.5,480 339.7,469.6 347.6,457.4 354.8,445.2 362.7,431 369.3,418.5 375.8,405.4 390.3,374.9 403.4,345.7 435.6,272.3 444.2,253.4 452,236.6 460.6,219.1 468.5,203.8 476.3,189.4 483.6,177.2 492.1,164 500,152.9 507.9,143.2 515.8,134.6 523.6,127.4 527.6,124.2 531.5,121.3 535.5,118.8 539.4,116.5 543.3,114.6 547.9,112.7 551.9,111.4 556.5,110.2 560.4,109.6 565,109.1 569.6,109 574.2,109.2 578.8,109.8 583.4,110.7 588,111.9 592.6,113.5 597.2,115.3 602.5,117.7 607.1,120.1 612.3,123.2 617.6,126.5 622.8,130.2 633.3,138.4 644.5,148.1 656.3,159.6 668.1,172 681.3,186.7 695.1,203 710.2,221.8 726.6,242.9" stroke="#3f4788"/>
<polyline points="136.1,460.8 140.7,467.6 145.3,473.9 149.9,479.6 154.5,484.7 158.4,488.7 163,492.9 170.3,498.9 176.8,504.1 184.1,509.4 190.6,513.8 197.2,517.9 203.8,521.6 210.3,524.9 216.9,527.8 223.5,530.3 230,532.4 235.9,533.9 241.9,535 247.8,535.8 253,536.1 258.9,536.2 264.2,535.8 270.1,535.1 275.4,534.1 281.3,532.6 286.5,530.9 291.8,528.8 297,526.4 302.3,523.6 307.5,520.4 312.8,516.9 318,512.9 326.6,505.7 335.1,497.5 343.7,488.2 352.2,477.9 360.7,466.6 369.3,454.2 377.8,440.8 386.4,426.5 393.6,413.7 401.5,399 409.3,383.6 417.2,367.7 432.3,336 465.8,263.7 481.6,231.2 489.5,215.8 496.7,202.4 503.9,189.8 510.5,179.2 517.7,168.3 524.9,158.6 532.2,149.9 538.7,143.1 546,136.7 552.5,132 559.1,128.3 562.4,126.8 566.3,125.4 570.3,124.3 574.2,123.6 578.2,123.2 582.1,123.2 586,123.5 590,124.2 593.9,125.2 597.9,126.5 601.8,128.1 605.7,130 609.7,132.2 614.3,135.1 622.8,141.5 632,149.5 641.2,158.8 650.4,169.1 660.3,181.1 671.4,195.7 682.6,211.2 695.1,229.4 708.9,250.1 726.6,277.4" stroke="#423f85"/>
<polyline points="136.1,460.2 140.7,467.2 146,474.5 150.6,480.3 155.8,486.1 160.4,490.6 167.6,496.8 174.9,502.6 182.1,508 190,513.4 197.8,518.4 205.7,522.8 213.6,526.8 221.5,530.4 229.4,533.4 237.3,536 244.5,537.9 251.7,539.4 258.3,540.4 265.5,541.1 272.1,541.3 278.6,541.1 285.2,540.4 291.8,539.3 298.3,537.8 304.9,535.8 310.8,533.5 316.7,530.8 322.6,527.5 328.6,523.8 333.8,520 339.7,515.3 345,510.5 352.9,502.4 360.7,492.9 368,483.1 375.2,471.9 382.4,459.4 389,446.7 395.6,432.6 402.1,417.2 408.7,400.2 415.3,381.7 421.8,361.7 429.1,337.8 435.6,314.7 442.2,290.3 461.9,213.5 468.5,188.6 475.7,163.2 481.6,144.7 485.5,133.8 489.5,124.2 493.4,116.2 496.7,110.7 498.7,107.9 500.6,105.6 503.9,102.6 505.2,101.8 507.2,100.8 509.2,100.3 511.2,100.2 512.5,100.3 514.4,100.8 517.7,102.5 521,105.2 524.3,108.8 527.6,113.2 531.5,119.6 534.8,125.6 538.7,133.5 544.7,146.7 551.9,164.4 559.1,183.1 585.4,252.8 594.6,276.1 603.1,296.7 613,319.3 622.2,339.1 632,358.9 641.9,377.4 651.7,394.5 661.6,410.5 672.1,426.1 682.6,440.6 693.1,453.8 704.3,466.7 715.4,478.5 726.6,489.1" stroke="#20a386"/>
<polyline points="136.1,461.8 143.3,471.9 150.6,480.7 157.8,488.3 165,494.7 176.8,504.2 182.7,508.5 188.7,512.5 194.6,516.3 199.8,519.3 205.1,522 210.3,524.4 219.5,527.9 228.1,530.2 232.7,531 236.6,531.5 244.5,531.8 249.1,531.6 253,531.1 260.9,529.5 265.5,528.2 269.4,526.7 277.3,523.1 283.9,519.3 290.5,514.9 297,509.8 304.3,503.5 310.8,497 318,489.3 325.3,480.8 332.5,471.8 339.1,463 346.3,452.9 354.2,441.3 362.1,429.2 377.8,404.1 413.3,345.5 429.1,320 446.1,293.6 461.9,270.8 471.1,258.2 480.3,246.3 489.5,235 498.7,224.5 507.9,214.6 516.4,206 525.6,197.4 534.8,189.6 545.3,181.4 556.5,173.7 567.6,166.9 578.8,161.1 590,156.2 601.8,151.9 613,148.7 624.8,146.2 636.6,144.5 649.1,143.6 661.6,143.6 674,144.5 686.5,146.1 699.7,148.6 712.8,151.9 726.6,156.2" stroke="#3a548c"/>
<polyline points="136.1,462.5 143.3,472.3 150.6,481 157.8,488.4 165.7,495.2 178.8,505.5 185.4,510.2 191.9,514.7 203.8,521.9 209.7,525 215.6,527.8 225.4,531.8 234.6,534.6 239.2,535.6 243.8,536.4 252.4,537.2 257,537.3 260.9,537.1 265.5,536.6 269.4,536 274,534.9 278,533.8 282.6,532.2 286.5,530.5 291.1,528.3 295.1,526.1 302.9,520.9 310.8,514.8 318.7,507.6 326.6,499.4 335.1,489.3 343,478.9 351.5,466.6 359.4,454.3 367.3,441.1 375.8,425.9 384.4,410 401.5,376.2 435,306.9 448.8,279.1 463.9,250.2 471.1,237.2 477.7,225.9 486.2,212 494.1,200 502,188.9 509.8,178.7 517.7,169.5 524.9,161.8 532.8,154.4 540.7,147.8 545.3,144.5 550.6,141 555.2,138.3 560.4,135.6 565,133.5 570.3,131.5 574.9,130 580.1,128.7 585.4,127.7 590.6,127.1 595.9,126.8 601.1,126.8 606.4,127.1 611.6,127.7 616.9,128.5 622.8,129.9 628.1,131.3 634,133.2 639.9,135.5 645.8,138 651.7,140.8 658.3,144.2 670.8,151.5 683.9,160.3 697.7,170.6 711.5,181.9 726.6,195.1" stroke="#3d4e8a"/>
<polyline points="136.1,460.6 140.7,467.5 145.3,473.8 149.9,479.5 153.8,484 157.8,488.1 161.1,491.2 167.6,496.8 174.2,502.1 180.8,507 187.3,511.5 193.9,515.7 200.5,519.4 207,522.8 213,525.4 219.5,528 225.4,529.8 231.3,531.4 236.6,532.4 241.9,533.1 247.1,533.5 253,533.6 258.3,533.3 263.5,532.7 268.8,531.8 274,530.5 279.3,528.8 284.5,526.9 289.8,524.5 295.1,521.8 300.3,518.8 305.6,515.4 310.8,511.6 319.4,504.7 327.9,496.8 336.4,487.9 345,478.1 353.5,467.4 362.1,455.8 370.6,443.3 379.8,429 387,417.1 394.9,403.6 411.3,373.7 427.1,343.6 462.5,274 480.3,240.6 488.8,225.5 497.4,211 505.2,198.4 512.5,187.6 520.3,176.7 528.2,166.7 536.1,157.8 544,150 551.9,143.3 559.1,138.2 566.3,134 570.3,132.1 574.2,130.6 578.2,129.3 582.1,128.3 586,127.6 590.6,127.2 594.6,127.1 598.5,127.3 602.5,127.8 607.1,128.7 611,129.7 614.9,131 618.9,132.5 623.5,134.7 632,139.4 641.2,145.7 650.4,153.2 659.6,161.6 669.4,171.7 679.3,182.7 689.8,195.3 701,209.6 713.5,226.5 726.6,245.1" stroke="#472c7a"/>
<polyline points="136.1,461 140.7,467.8 145.3,474 149.9,479.7 154.5,484.8 158.4,488.8 162.4,492.4 169.6,498.4 176.2,503.6 183.4,508.8 190,513.2 197.2,517.7 203.8,521.3 210.3,524.6 216.9,527.5 223.5,529.9 230,532 235.9,533.5 241.9,534.6 247.8,535.4 253.7,535.8 259.6,535.9 265.5,535.5 271.4,534.8 276.7,533.9 282.6,532.4 287.8,530.7 293.7,528.5 299,526.2 304.9,523.1 310.2,520.1 316.1,516.2 321.3,512.5 330.5,505 339.1,497.1 347.6,488.3 356.8,477.8 366,466.2 375.2,453.6 384.4,440 393.6,425.4 401.5,412.2 409.3,398.4 417.9,382.8 426.4,366.7 442.2,335.7 477.7,264.2 494.1,232.5 502,218.1 509.8,204.3 517.1,192.5 524.3,181.3 531.5,171 538.7,161.6 546,153.2 553.2,145.8 560.4,139.4 567.6,134.2 574.9,130 581.4,127.2 584.7,126.1 588.7,125.1 592.6,124.5 596.5,124.2 600.5,124.2 604.4,124.5 608.4,125.1 612.3,126 616.2,127.2 620.2,128.7 624.1,130.5 628.1,132.6 636,137.5 644.5,143.9 653,151.4 661.6,159.8 670.8,169.9 680.6,181.7 690.5,194.3 701.6,209.5 713.5,226.4 726.6,245.9" stroke="#453781"/>
<polyline points="136.1,462.6 143.3,472.4 149.9,480.2 157.1,487.7 164.4,494 177.5,504.4 190,513.2 201.1,520.1 207,523.3 212.3,525.8 221.5,529.4 230,531.9 234.6,532.9 238.6,533.4 246.5,533.9 250.4,533.8 254.3,533.4 258.3,532.7 262.2,531.8 266.2,530.7 270.1,529.2 277.3,525.8 283.9,521.9 290.5,517.2 297,511.6 303.6,505.2 310.2,498 316.7,490 323.3,481.2 329.9,471.7 336.4,461.6 343,450.8 350.2,438.3 357.5,425.2 373.2,395 406.1,329.4 420.5,301.3 436.3,272.2 444.2,258.5 451.4,246.5 460.6,232 469.1,219.3 477.7,207.5 486.2,196.6 494.7,186.5 503.3,177.3 511.8,168.9 521,160.7 531.5,152.5 536.8,148.8 542.7,145 547.9,141.9 553.8,138.7 559.1,136.1 565,133.6 570.9,131.3 576.8,129.3 582.7,127.5 588.7,126.1 594.6,124.9 600.5,123.9 606.4,123.2 613,122.7 619.5,122.5 626.1,122.5 639.2,123.3 653,125.1 666.8,127.8 681.3,131.5 695.7,136.2 710.8,141.9 726.6,148.6" stroke="#2e6e8e"/>
<polyline points="136.1,460.2 140.7,467.2 145.3,473.6 149.9,479.4 154.5,484.7 158.4,488.7 163,492.9 170.3,499.1 176.8,504.3 184.1,509.6 190.6,514 197.8,518.5 204.4,522.1 211.6,525.7 218.2,528.5 224.8,531 231.3,533 237.9,534.6 243.8,535.7 249.7,536.4 255.6,536.8 261.6,536.9 267.5,536.5 273.4,535.9 279.3,534.8 285.2,533.4 291.1,531.5 297,529.3 302.9,526.7 308.9,523.8 314.8,520.4 320.7,516.6 325.9,512.8 335.8,505 345,496.6 354.2,487.2 363.4,476.8 372.6,465.4 382.4,452 391.6,438.5 401.5,423.1 409.3,409.9 417.9,395 426.4,379.5 435.6,362 452,329.6 488.2,256.1 503.9,225.5 511.8,211 519,198.3 525.6,187.5 532.2,177.3 539.4,167 546,158.5 552.5,150.9 559.1,144.3 565.7,138.6 572.2,134 578.8,130.4 584.7,128 588,127.1 591.9,126.4 595.2,126 599.2,125.9 602.5,126.2 606.4,126.8 610.3,127.8 614.3,129.1 617.6,130.5 621.5,132.4 625.4,134.7 629.4,137.3 637.3,143.4 645.1,150.6 653,158.9 661.6,168.9 670.8,180.8 680,193.6 689.8,208.2 700.3,224.5 712.1,243.6 726.6,267.5" stroke="#433e85"/>
<polyline points="136.1,461.8 144,472.7 151.2,481.4 158.4,488.8 166.3,495.6 178.8,505.5 185.4,510.2 191.3,514.2 197.2,517.9 203.1,521.3 209,524.4 214.3,526.8 223.5,530.4 228.1,531.8 232.7,532.9 237.3,533.8 241.9,534.5 246.5,534.8 250.4,534.9 255,534.7 258.9,534.3 263.5,533.6 267.5,532.7 272.1,531.4 276,530 283.9,526.5 291.1,522.5 298.3,517.6 305.6,512 312.8,505.5 320,498.3 327.9,489.5 335.1,480.7 343,470.3 350.2,460.2 358.1,448.4 366,436.1 374.5,422.1 391.6,392.7 425.8,331.9 440.9,305.5 457.3,278.2 465.2,265.7 472.4,254.7 481.6,241.3 490.1,229.6 498.7,218.5 507.2,208.2 515.8,198.6 524.3,189.8 532.8,181.7 541.4,174.3 551.9,166.3 562.4,159.4 572.9,153.5 583.4,148.7 593.9,144.9 599.2,143.3 605.1,141.9 610.3,140.8 616.2,139.9 627.4,138.9 638.6,138.9 644.5,139.2 650.4,139.8 662.2,141.7 674.7,144.6 687.2,148.5 700.3,153.5 713.5,159.4 726.6,166.2" stroke="#3e4c8a"/>
<polyline points="136.1,460.2 140.7,467.2 145.3,473.6 149.9,479.4 154.5,484.7 158.4,488.7 163,492.9 170.3,499 176.8,504.2 184.1,509.4 190.6,513.8 197.2,517.8 203.8,521.4 210.3,524.6 216.9,527.3 223.5,529.7 230,531.6 235.9,532.9 241.9,533.9 247.8,534.5 253.7,534.8 259.6,534.6 265.5,534.1 271.4,533.1 276.7,531.9 282.6,530.1 287.8,528.2 293.1,525.9 298.3,523.2 304.3,519.8 309.5,516.3 314.8,512.5 320,508.3 329.2,499.9 337.8,491 346.3,481 354.8,469.9 363.4,457.6 371.9,444.2 380.4,429.6 389.6,412.7 396.9,398.5 404.1,383.6 412,366.6 419.9,348.8 434.3,314.8 465.8,238.1 479.6,206.2 486.2,191.8 492.8,178.3 498.7,166.9 504.6,156.3 511.2,145.6 517.1,137 523,129.5 528.9,123.1 534.8,117.9 538.1,115.5 540.7,113.8 543.3,112.4 546.6,111 549.2,110.1 552.5,109.3 555.8,108.9 559.1,108.8 562.4,109.1 566.3,109.9 569.6,110.9 573.6,112.5 576.8,114.3 580.8,116.7 584.1,119.1 588,122.3 591.9,125.9 595.9,129.9 603.8,138.8 612.3,149.8 619.5,160.1 626.8,171 634.6,183.7 643.8,199.2 659.6,227 702.3,304.3 714.8,326.2 726.6,346.3" stroke="#2f6b8e"/>
<polyline points="136.1,459.6 140.7,466.7 145.3,473.2 149.9,479.2 153.8,483.8 157.8,488 161.1,491.1 167.6,496.9 174.2,502.2 180.8,507.2 187.3,511.7 193.9,515.8 199.8,519.1 206.4,522.4 213,525.2 219.5,527.6 225.4,529.3 231.3,530.7 237.3,531.7 243.2,532.3 248.4,532.5 254.3,532.4 259.6,531.9 265.5,531 270.8,529.9 276.7,528.3 281.9,526.5 287.8,524 293.1,521.5 299,518.3 304.3,515.1 310.2,511.1 315.4,507.1 324.6,499.4 333.8,490.7 343,480.9 352.2,470.2 361.4,458.4 370.6,445.6 379.8,431.9 389.6,416.2 397.5,402.9 406.1,387.9 414.6,372.2 423.8,354.7 440.2,322.3 476.3,249.2 493.4,216 501.3,201.5 509.2,187.8 516.4,175.8 523,165.7 530.2,155.4 537.4,146 544.7,137.6 551.2,130.9 558.4,124.7 565,120.1 571.6,116.4 578.2,113.8 581.4,112.8 585.4,112.1 589.3,111.7 593.3,111.6 597.2,111.9 601.1,112.6 605.1,113.6 609,115 613,116.7 616.9,118.8 620.8,121.2 624.8,123.9 632.7,130.1 641.2,138.3 649.7,147.6 658.3,158 667.5,170.3 677.3,184.6 687.2,199.8 698.3,218 710.8,239.1 726.6,266.5" stroke="#46337f"/>
<polyline points="136.1,460.8 144,472 151.2,481 158.4,488.6 167.6,496.7 180.1,506.7 186,510.9 191.9,514.9 197.8,518.5 203.1,521.5 209,524.4 214.3,526.8 219.5,528.8 224.1,530.3 228.7,531.6 233.3,532.6 237.9,533.4 242.5,533.9 247.1,534.1 251.7,534 256.3,533.7 260.9,533.1 265.5,532.2 270.1,531 274.7,529.6 279.3,527.8 287.8,523.7 295.1,519.5 302.9,514.1 310.8,507.9 318.7,500.8 326.6,493 334.5,484.4 342.4,475.2 350.9,464.4 358.8,453.8 366.7,442.7 375.2,430.2 383.7,417.2 401.5,389 438.2,328.5 454.7,302 471.7,275.6 486.9,253.5 496,240.7 504.6,229.4 513.8,217.9 522.3,207.8 530.9,198.2 539.4,189.3 547.9,181 556.5,173.3 566.3,165.3 576.8,157.6 586.7,151.3 597.2,145.5 607.1,140.9 617.6,136.9 628.1,133.9 638.6,131.7 649.1,130.4 659.6,129.9 670.1,130.2 681.3,131.4 692.4,133.5 703.6,136.4 714.8,140.1 726.6,144.9" stroke="#453781"/>
</g>
<polyline points="136.11,461.25 140.71,467.35 144.65,472.29 149.24,477.71 153.18,482.06 157.13,486.12 160.41,489.29 165.66,494.03 170.92,498.58 176.83,503.44 182.09,507.53 187.34,511.37 192.59,514.96 197.85,518.26 202.45,520.91 207.7,523.65 212.3,525.78 216.9,527.65 220.84,529.04 225.44,530.4 229.38,531.33 233.97,532.15 237.92,532.61 241.86,532.85 245.8,532.85 250.39,532.56 254.34,532.05 258.28,531.3 262.22,530.3 266.16,529.07 270.1,527.59 274.04,525.87 278.64,523.56 284.55,520.11 287.83,517.96 291.12,515.66 294.4,513.19 297.69,510.57 304.25,504.87 310.82,498.59 317.39,491.76 323.96,484.41 331.18,475.78 337.75,467.48 344.32,458.81 351.55,448.87 359.43,437.64 366.65,427.06 375.19,414.28 410.66,360.05 427.08,335.45 435.62,323 444.16,310.87 452.7,299.08 460.58,288.54 470.43,275.85 479.63,264.53 488.82,253.72 498.02,243.45 507.21,233.72 516.41,224.53 525.6,215.89 535.46,207.24 540.71,202.87 546.62,198.16 551.88,194.16 557.79,189.86 563.04,186.22 568.95,182.32 574.21,179.02 580.12,175.51 585.38,172.55 591.29,169.4 597.2,166.45 603.11,163.69 608.36,161.4 614.28,158.99 620.19,156.75 626.1,154.7 632.01,152.82 637.92,151.1 643.83,149.56 650.4,148.03 656.31,146.83 662.88,145.68 668.79,144.8 675.36,144.01 681.27,143.45 687.84,143 694.41,142.73 700.98,142.63 706.89,142.68 713.46,142.91 720.02,143.29 726.59,143.84" fill="none" stroke="#000" stroke-width="3.3" stroke-linejoin="round"/>
<g fill="#f00" fill-opacity="0.9">
<circle cx="161.4" cy="491.7" r="6.4"/>
<circle cx="162.8" cy="492.4" r="6.4"/>
<circle cx="163.5" cy="493.1" r="6.4"/>
<circle cx="164.8" cy="494.4" r="6.4"/>
<circle cx="165.5" cy="495" r="6.4"/>
<circle cx="165.8" cy="495.4" r="6.4"/>
<circle cx="166.9" cy="496.2" r="6.4"/>
<circle cx="167.6" cy="496.9" r="6.4"/>
<circle cx="167.6" cy="497.1" r="6.4"/>
<circle cx="173.5" cy="501.7" r="6.4"/>
<circle cx="176" cy="504" r="6.4"/>
<circle cx="177.8" cy="504.8" r="6.4"/>
<circle cx="178.2" cy="505.3" r="6.4"/>
<circle cx="180.3" cy="506.9" r="6.4"/>
<circle cx="182" cy="508.1" r="6.4"/>
<circle cx="182.1" cy="508" r="6.4"/>
<circle cx="183.4" cy="508.5" r="6.4"/>
<circle cx="184.4" cy="509.8" r="6.4"/>
<circle cx="184.5" cy="509.9" r="6.4"/>
<circle cx="185.4" cy="510" r="6.4"/>
<circle cx="186.3" cy="511.1" r="6.4"/>
<circle cx="188.9" cy="512.8" r="6.4"/>
<circle cx="189.8" cy="513.3" r="6.4"/>
<circle cx="189.9" cy="512.9" r="6.4"/>
<circle cx="190.6" cy="514.2" r="6.4"/>
<circle cx="192.2" cy="514.9" r="6.4"/>
<circle cx="192.7" cy="515.1" r="6.4"/>
<circle cx="169.5" cy="498.3" r="6.4"/>
<circle cx="169.5" cy="498.3" r="6.4"/>
<circle cx="169.6" cy="498.4" r="6.4"/>
<circle cx="169.6" cy="498.5" r="6.4"/>
<circle cx="169.6" cy="498.3" r="6.4"/>
<circle cx="169.6" cy="498.6" r="6.4"/>
<circle cx="169.6" cy="498.4" r="6.4"/>
<circle cx="169.6" cy="498.6" r="6.4"/>
<circle cx="169.7" cy="498.5" r="6.4"/>
<circle cx="169.7" cy="498.5" r="6.4"/>
<circle cx="169.7" cy="498.6" r="6.4"/>
<circle cx="171.6" cy="499.8" r="6.4"/>
<circle cx="171.7" cy="499.9" r="6.4"/>
<circle cx="171.7" cy="500.2" r="6.4"/>
<circle cx="171.7" cy="500.4" r="6.4"/>
<circle cx="171.7" cy="500.5" r="6.4"/>
<circle cx="172" cy="500.1" r="6.4"/>
<circle cx="172" cy="501" r="6.4"/>
<circle cx="171.7" cy="499.9" r="6.4"/>
<circle cx="171.7" cy="500.4" r="6.4"/>
</g>
<g fill="none" stroke="#000" stroke-opacity="0.4" stroke-width="0.9">
<circle cx="161.4" cy="491.7" r="5.5"/>
<circle cx="162.8" cy="492.4" r="5.5"/>
<circle cx="163.5" cy="493.1" r="5.5"/>
<circle cx="164.8" cy="494.4" r="5.5"/>
<circle cx="165.5" cy="495" r="5.5"/>
<circle cx="165.8" cy="495.4" r="5.5"/>
<circle cx="166.9" cy="496.2" r="5.5"/>
<circle cx="167.6" cy="496.9" r="5.5"/>
<circle cx="167.6" cy="497.1" r="5.5"/>
<circle cx="173.5" cy="501.7" r="5.5"/>
<circle cx="176" cy="504" r="5.5"/>
<circle cx="177.8" cy="504.8" r="5.5"/>
<circle cx="178.2" cy="505.3" r="5.5"/>
<circle cx="180.3" cy="506.9" r="5.5"/>
<circle cx="182" cy="508.1" r="5.5"/>
<circle cx="182.1" cy="508" r="5.5"/>
<circle cx="183.4" cy="508.5" r="5.5"/>
<circle cx="184.4" cy="509.8" r="5.5"/>
<circle cx="184.5" cy="509.9" r="5.5"/>
<circle cx="185.4" cy="510" r="5.5"/>
<circle cx="186.3" cy="511.1" r="5.5"/>
<circle cx="188.9" cy="512.8" r="5.5"/>
<circle cx="189.8" cy="513.3" r="5.5"/>
<circle cx="189.9" cy="512.9" r="5.5"/>
<circle cx="190.6" cy="514.2" r="5.5"/>
<circle cx="192.2" cy="514.9" r="5.5"/>
<circle cx="192.7" cy="515.1" r="5.5"/>
<circle cx="169.5" cy="498.3" r="5.5"/>
<circle cx="169.5" cy="498.3" r="5.5"/>
<circle cx="169.6" cy="498.4" r="5.5"/>
<circle cx="169.6" cy="498.5" r="5.5"/>
<circle cx="169.6" cy="498.3" r="5.5"/>
<circle cx="169.6" cy="498.6" r="5.5"/>
<circle cx="169.6" cy="498.4" r="5.5"/>
<circle cx="169.6" cy="498.6" r="5.5"/>
<circle cx="169.7" cy="498.5" r="5.5"/>
<circle cx="169.7" cy="498.5" r="5.5"/>
<circle cx="169.7" cy="498.6" r="5.5"/>
<circle cx="171.6" cy="499.8" r="5.5"/>
<circle cx="171.7" cy="499.9" r="5.5"/>
<circle cx="171.7" cy="500.2" r="5.5"/>
<circle cx="171.7" cy="500.4" r="5.5"/>
<circle cx="171.7" cy="500.5" r="5.5"/>
<circle cx="172" cy="500.1" r="5.5"/>
<circle cx="172" cy="501" r="5.5"/>
<circle cx="171.7" cy="499.9" r="5.5"/>
<circle cx="171.7" cy="500.4" r="5.5"/>
</g>
</g>
<rect x="138" y="14.9" width="586.7" height="586.8" fill="none" stroke="#000" stroke-width="1.6"/>
<path d="M156.93 601.7v-7.7M156.93 14.9v7.7M251.55 601.7v-7.7M251.55 14.9v7.7M346.18 601.7v-7.7M346.18 14.9v7.7M440.81 601.7v-7.7M440.81 14.9v7.7M535.44 601.7v-7.7M535.44 14.9v7.7M630.07 601.7v-7.7M630.07 14.9v7.7M724.7 601.7v-7.7M724.7 14.9v7.7" stroke="#000" stroke-width="1.6" fill="none"/>
<path d="M175.85 601.7v-4.2M175.85 14.9v4.2M194.78 601.7v-4.2M194.78 14.9v4.2M213.7 601.7v-4.2M213.7 14.9v4.2M232.63 601.7v-4.2M232.63 14.9v4.2M270.48 601.7v-4.2M270.48 14.9v4.2M289.41 601.7v-4.2M289.41 14.9v4.2M308.33 601.7v-4.2M308.33 14.9v4.2M327.26 601.7v-4.2M327.26 14.9v4.2M365.11 601.7v-4.2M365.11 14.9v4.2M384.04 601.7v-4.2M384.04 14.9v4.2M402.96 601.7v-4.2M402.96 14.9v4.2M421.89 601.7v-4.2M421.89 14.9v4.2M459.74 601.7v-4.2M459.74 14.9v4.2M478.66 601.7v-4.2M478.66 14.9v4.2M497.59 601.7v-4.2M497.59 14.9v4.2M516.52 601.7v-4.2M516.52 14.9v4.2M554.37 601.7v-4.2M554.37 14.9v4.2M573.29 601.7v-4.2M573.29 14.9v4.2M592.22 601.7v-4.2M592.22 14.9v4.2M611.15 601.7v-4.2M611.15 14.9v4.2M649 601.7v-4.2M649 14.9v4.2M667.92 601.7v-4.2M667.92 14.9v4.2M686.85 601.7v-4.2M686.85 14.9v4.2M705.77 601.7v-4.2M705.77 14.9v4.2" stroke="#000" stroke-width="1.25" fill="none"/>
<path d="M138 543.02h7.7M724.7 543.02h-7.7M138 425.66h7.7M724.7 425.66h-7.7M138 308.3h7.7M724.7 308.3h-7.7M138 190.94h7.7M724.7 190.94h-7.7M138 73.58h7.7M724.7 73.58h-7.7" stroke="#000" stroke-width="1.6" fill="none"/>
<path d="M138 589.96h4.2M724.7 589.96h-4.2M138 566.49h4.2M724.7 566.49h-4.2M138 519.55h4.2M724.7 519.55h-4.2M138 496.08h4.2M724.7 496.08h-4.2M138 472.6h4.2M724.7 472.6h-4.2M138 449.13h4.2M724.7 449.13h-4.2M138 402.19h4.2M724.7 402.19h-4.2M138 378.72h4.2M724.7 378.72h-4.2M138 355.24h4.2M724.7 355.24h-4.2M138 331.77h4.2M724.7 331.77h-4.2M138 284.83h4.2M724.7 284.83h-4.2M138 261.36h4.2M724.7 261.36h-4.2M138 237.88h4.2M724.7 237.88h-4.2M138 214.41h4.2M724.7 214.41h-4.2M138 167.47h4.2M724.7 167.47h-4.2M138 144h4.2M724.7 144h-4.2M138 120.52h4.2M724.7 120.52h-4.2M138 97.05h4.2M724.7 97.05h-4.2M138 50.11h4.2M724.7 50.11h-4.2M138 26.64h4.2M724.7 26.64h-4.2" stroke="#000" stroke-width="1.25" fill="none"/>
<text x="156.93" y="627.4" font-size="24.1" text-anchor="middle">2000</text>
<text x="251.55" y="627.4" font-size="24.1" text-anchor="middle">2050</text>
<text x="346.18" y="627.4" font-size="24.1" text-anchor="middle">2100</text>
<text x="440.81" y="627.4" font-size="24.1" text-anchor="middle">2150</text>
<text x="535.44" y="627.4" font-size="24.1" text-anchor="middle">2200</text>
<text x="630.07" y="627.4" font-size="24.1" text-anchor="middle">2250</text>
<text x="724.7" y="627.4" font-size="24.1" text-anchor="middle">2300</text>
<text x="130.8" y="552.72" font-size="24.1" text-anchor="end">−2000</text>
<text x="130.8" y="435.36" font-size="24.1" text-anchor="end">−1000</text>
<text x="130.8" y="318" font-size="24.1" text-anchor="end">0</text>
<text x="130.8" y="200.64" font-size="24.1" text-anchor="end">1000</text>
<text x="130.8" y="83.28" font-size="24.1" text-anchor="end">2000</text>
<text x="431.65" y="673.9" font-size="27.1" text-anchor="middle">Epoch (year)</text>
<text transform="translate(35.7 307.6) rotate(-90)" font-size="27.1" text-anchor="middle">RV (m/s)</text>
<text transform="translate(185 83) scale(0.966 1)" font-size="32.4" text-anchor="start">HD 159062A</text>
<text transform="translate(907.5 308.3) rotate(90)" font-size="27.1" text-anchor="middle" letter-spacing="0.1">Eccentricity</text>
<rect x="791.4" y="39.1" width="26.8" height="537.9" fill="url(#vir)"/>
<rect x="791.4" y="39.1" width="26.8" height="537.9" fill="none" stroke="#000" stroke-width="1.6"/>
<text x="833" y="527.8" font-size="24.1" text-anchor="start">0.05</text>
<text x="833" y="466.73" font-size="24.1" text-anchor="start">0.10</text>
<text x="833" y="405.66" font-size="24.1" text-anchor="start">0.15</text>
<text x="833" y="344.59" font-size="24.1" text-anchor="start">0.20</text>
<text x="833" y="283.52" font-size="24.1" text-anchor="start">0.25</text>
<text x="833" y="222.46" font-size="24.1" text-anchor="start">0.30</text>
<text x="833" y="161.39" font-size="24.1" text-anchor="start">0.35</text>
<text x="833" y="100.32" font-size="24.1" text-anchor="start">0.40</text>
<path d="M818.2 519.11h7.7M818.2 458.04h7.7M818.2 396.97h7.7M818.2 335.9h7.7M818.2 274.83h7.7M818.2 213.76h7.7M818.2 152.69h7.7M818.2 91.62h7.7" stroke="#000" stroke-width="1.6" fill="none"/>
</g>
<g id="panel-bl">
<g clip-path="url(#clipM)">
<g stroke-width="3" stroke-opacity="0.31" fill="none">
<polyline points="146.61,738.88 221.41,810.15 296.21,878.68 371,944.32 445.8,1006.87 520.6,1066.18 595.39,1122.07 670.19,1174.36 744.99,1222.88" stroke="#375a8c"/>
<polyline points="146.61,739.03 221.41,810.11 296.21,878.59 371,944.3 445.8,1007.06 520.6,1066.7 595.39,1123.05 670.19,1175.93 744.99,1225.17" stroke="#297b8e"/>
<polyline points="146.61,737.43 221.41,809.48 296.21,878.66 371,944.78 445.8,1007.7 520.6,1067.22 595.39,1123.18 670.19,1175.39 744.99,1223.7" stroke="#355f8d"/>
<polyline points="146.61,740.23 221.41,810.65 296.21,878.68 371,944.15 445.8,1006.9 520.6,1066.75 595.39,1123.53 670.19,1177.06 744.99,1227.17" stroke="#23a983"/>
<polyline points="146.61,739.79 221.41,810.51 296.21,878.73 371,944.29 445.8,1007.01 520.6,1066.73 595.39,1123.25 670.19,1176.42 744.99,1226.05" stroke="#24878e"/>
<polyline points="146.61,740.72 221.41,810.79 296.21,878.6 371,944 445.8,1006.8 520.6,1066.83 595.39,1123.93 670.19,1177.91 744.99,1228.6" stroke="#32b67a"/>
<polyline points="146.61,744.36 221.41,813.2 296.21,880.05 371,944.73 445.8,1007.07 520.6,1066.9 595.39,1124.05 670.19,1178.33 744.99,1229.59" stroke="#7ad151"/>
<polyline points="146.61,737.14 221.41,809.21 296.21,878.37 371,944.45 445.8,1007.27 520.6,1066.66 595.39,1122.45 670.19,1174.46 744.99,1222.51" stroke="#414487"/>
<polyline points="146.61,740.07 221.41,810.81 296.21,879.03 371,944.57 445.8,1007.24 520.6,1066.88 595.39,1123.32 670.19,1176.37 744.99,1225.87" stroke="#238a8d"/>
<polyline points="146.61,741.2 221.41,811.18 296.21,878.82 371,943.96 445.8,1006.43 520.6,1066.06 595.39,1122.67 670.19,1176.08 744.99,1226.13" stroke="#44bf70"/>
<polyline points="146.61,741.09 221.41,811.29 296.21,879.15 371,944.5 445.8,1007.17 520.6,1066.99 595.39,1123.78 670.19,1177.37 744.99,1227.59" stroke="#2fb47c"/>
<polyline points="146.61,742.69 221.41,812.14 296.21,879.43 371,944.4 445.8,1006.86 520.6,1066.65 595.39,1123.6 670.19,1177.51 744.99,1228.24" stroke="#69cd5b"/>
<polyline points="146.61,740.47 221.41,810.46 296.21,878.17 371,943.4 445.8,1005.99 520.6,1065.78 595.39,1122.57 670.19,1176.2 744.99,1226.49" stroke="#24aa83"/>
<polyline points="146.61,743.73 221.41,812.79 296.21,879.8 371,944.59 445.8,1006.99 520.6,1066.81 595.39,1123.9 670.19,1178.07 744.99,1229.15" stroke="#5ec962"/>
<polyline points="146.61,738.16 221.41,809.73 296.21,878.47 371,944.21 445.8,1006.78 520.6,1066 595.39,1121.7 670.19,1173.72 744.99,1221.86" stroke="#443a83"/>
<polyline points="146.61,739.08 221.41,810.38 296.21,878.94 371,944.62 445.8,1007.23 520.6,1066.6 595.39,1122.56 670.19,1174.93 744.99,1223.54" stroke="#355e8d"/>
<polyline points="146.61,740.56 221.41,810.82 296.21,878.62 371,943.79 445.8,1006.16 520.6,1065.56 595.39,1121.81 670.19,1174.74 744.99,1224.17" stroke="#23898e"/>
<polyline points="146.61,738.91 221.41,809.96 296.21,878.38 371,944 445.8,1006.66 520.6,1066.17 595.39,1122.36 670.19,1175.06 744.99,1224.1" stroke="#2b748e"/>
<polyline points="146.61,739.03 221.41,810.16 296.21,878.64 371,944.29 445.8,1006.95 520.6,1066.44 595.39,1122.59 670.19,1175.23 744.99,1224.17" stroke="#2e6d8e"/>
<polyline points="146.61,739.64 221.41,810.56 296.21,878.94 371,944.62 445.8,1007.42 520.6,1067.18 595.39,1123.71 670.19,1176.85 744.99,1226.42" stroke="#21a585"/>
<polyline points="146.61,740.36 221.41,811.11 296.21,879.29 371,944.75 445.8,1007.3 520.6,1066.77 595.39,1122.99 670.19,1175.79 744.99,1224.99" stroke="#228d8d"/>
<polyline points="146.61,737.59 221.41,809.25 296.21,878.17 371,944.16 445.8,1007.05 520.6,1066.67 595.39,1122.85 670.19,1175.42 744.99,1224.19" stroke="#39568c"/>
<polyline points="146.61,737.43 221.41,809.46 296.21,878.62 371,944.75 445.8,1007.66 520.6,1067.2 595.39,1123.17 670.19,1175.41 744.99,1223.75" stroke="#32648e"/>
<polyline points="146.61,739.66 221.41,810.33 296.21,878.56 371,944.19 445.8,1007.03 520.6,1066.93 595.39,1123.69 670.19,1177.16 744.99,1227.16" stroke="#1f998a"/>
<polyline points="146.61,738.88 221.41,809.94 296.21,878.35 371,943.95 445.8,1006.58 520.6,1066.04 595.39,1122.17 670.19,1174.8 744.99,1223.76" stroke="#355f8d"/>
<polyline points="146.61,740 221.41,810.51 296.21,878.67 371,944.29 445.8,1007.22 520.6,1067.27 595.39,1124.27 670.19,1178.05 744.99,1228.44" stroke="#25ac82"/>
<polyline points="146.61,740.41 221.41,811 296.21,879.11 371,944.56 445.8,1007.19 520.6,1066.81 595.39,1123.26 670.19,1176.36 744.99,1225.94" stroke="#1fa188"/>
<polyline points="146.61,740.67 221.41,810.9 296.21,878.76 371,944.08 445.8,1006.68 520.6,1066.4 595.39,1123.06 670.19,1176.48 744.99,1226.5" stroke="#1fa188"/>
<polyline points="146.61,739.29 221.41,810.35 296.21,878.81 371,944.5 445.8,1007.25 520.6,1066.88 595.39,1123.23 670.19,1176.11 744.99,1225.35" stroke="#20928c"/>
<polyline points="146.61,738.45 221.41,809.69 296.21,878.28 371,944.06 445.8,1006.86 520.6,1066.49 595.39,1122.8 670.19,1175.6 744.99,1224.72" stroke="#33638d"/>
<polyline points="146.61,738.63 221.41,810.07 296.21,878.83 371,944.72 445.8,1007.59 520.6,1067.25 595.39,1123.53 670.19,1176.25 744.99,1225.25" stroke="#228d8d"/>
<polyline points="146.61,739.75 221.41,810.46 296.21,878.67 371,944.22 445.8,1006.92 520.6,1066.6 595.39,1123.1 670.19,1176.22 744.99,1225.82" stroke="#2b758e"/>
<polyline points="146.61,739.89 221.41,810.27 296.21,878.23 371,943.6 445.8,1006.2 520.6,1065.86 595.39,1122.4 670.19,1175.66 744.99,1225.46" stroke="#23898e"/>
<polyline points="146.61,738.37 221.41,809.78 296.21,878.49 371,944.32 445.8,1007.11 520.6,1066.68 595.39,1122.85 670.19,1175.46 744.99,1224.33" stroke="#2e6e8e"/>
<polyline points="146.61,741.32 221.41,811.49 296.21,879.3 371,944.57 445.8,1007.13 520.6,1066.81 595.39,1123.43 670.19,1176.82 744.99,1226.81" stroke="#21a585"/>
<polyline points="146.61,740.27 221.41,810.85 296.21,878.94 371,944.38 445.8,1006.99 520.6,1066.6 595.39,1123.04 670.19,1176.14 744.99,1225.71" stroke="#25858e"/>
<polyline points="146.61,734.73 221.41,807.57 296.21,877.31 371,943.77 445.8,1006.78 520.6,1066.17 595.39,1121.76 670.19,1173.37 744.99,1220.84" stroke="#481a6c"/>
<polyline points="146.61,739.03 221.41,809.9 296.21,878.25 371,943.91 445.8,1006.69 520.6,1066.44 595.39,1122.98 670.19,1176.13 744.99,1225.71" stroke="#228b8d"/>
<polyline points="146.61,738.07 221.41,809.62 296.21,878.43 371,944.33 445.8,1007.14 520.6,1066.69 595.39,1122.81 670.19,1175.32 744.99,1224.06" stroke="#365c8d"/>
<polyline points="146.61,739.1 221.41,810.37 296.21,878.93 371,944.6 445.8,1007.21 520.6,1066.59 595.39,1122.56 670.19,1174.96 744.99,1223.6" stroke="#33638d"/>
<polyline points="146.61,741.69 221.41,811.25 296.21,878.67 371,943.8 445.8,1006.45 520.6,1066.45 595.39,1123.62 670.19,1177.8 744.99,1228.81" stroke="#5cc863"/>
<polyline points="146.61,741.68 221.41,811.51 296.21,879.09 371,944.23 445.8,1006.77 520.6,1066.54 595.39,1123.36 670.19,1177.05 744.99,1227.45" stroke="#3dbc74"/>
<polyline points="146.61,744.98 221.41,813.55 296.21,880.2 371,944.76 445.8,1007.05 520.6,1066.89 595.39,1124.12 670.19,1178.56 744.99,1230.03" stroke="#9bd93c"/>
<polyline points="146.61,739.5 221.41,810.48 296.21,878.88 371,944.51 445.8,1007.22 520.6,1066.82 595.39,1123.14 670.19,1176.02 744.99,1225.27" stroke="#277f8e"/>
<polyline points="146.61,739.53 221.41,810.61 296.21,879.04 371,944.66 445.8,1007.28 520.6,1066.74 595.39,1122.87 670.19,1175.48 744.99,1224.41" stroke="#27808e"/>
<polyline points="146.61,739.41 221.41,810.23 296.21,878.47 371,943.98 445.8,1006.57 520.6,1066.08 595.39,1122.32 670.19,1175.12 744.99,1224.32" stroke="#306a8e"/>
<polyline points="146.61,738.22 221.41,810.01 296.21,878.96 371,944.92 445.8,1007.7 520.6,1067.14 595.39,1123.05 670.19,1175.28 744.99,1223.63" stroke="#355e8d"/>
<polyline points="146.61,738.68 221.41,809.54 296.21,877.86 371,943.45 445.8,1006.14 520.6,1065.77 595.39,1122.15 670.19,1175.11 744.99,1224.48" stroke="#287c8e"/>
<polyline points="146.61,739.44 221.41,810.52 296.21,878.94 371,944.51 445.8,1007.07 520.6,1066.44 595.39,1122.45 670.19,1174.93 744.99,1223.7" stroke="#29798e"/>
</g>
<polyline points="146.61,740.43 161.95,755.09 177.3,769.65 192.64,784.11 207.98,798.47 223.33,812.72 238.67,826.86 254.01,840.9 269.35,854.84 284.7,868.66 300.04,882.37 315.38,895.96 330.73,909.45 346.07,922.81 361.41,936.06 376.76,949.19 392.1,962.2 407.44,975.09 422.79,987.85 438.13,1000.49 453.47,1013.01 468.81,1025.39 484.16,1037.65 499.5,1049.77 514.84,1061.76 530.19,1073.62 545.53,1085.34 560.87,1096.93 576.22,1108.38 591.56,1119.68 606.9,1130.85 622.25,1141.87 637.59,1152.75 652.93,1163.49 668.27,1174.07 683.62,1184.51 698.96,1194.79 714.3,1204.93 729.65,1214.91 744.99,1224.73" fill="none" stroke="#000" stroke-width="3.8"/>
<g fill="#f00" fill-opacity="0.85">
<circle cx="175.4" cy="771.1" r="7.7"/>
<circle cx="198.9" cy="783.9" r="7.7"/>
<circle cx="210.8" cy="797.7" r="7.7"/>
<circle cx="233.6" cy="822" r="7.7"/>
<circle cx="245.5" cy="832.4" r="7.7"/>
<circle cx="250.9" cy="839.5" r="7.7"/>
<circle cx="270.5" cy="855.4" r="7.7"/>
<circle cx="282.6" cy="867.2" r="7.7"/>
<circle cx="282.6" cy="871.1" r="7.7"/>
<circle cx="383.3" cy="956.9" r="7.7"/>
<circle cx="427" cy="1000.3" r="7.7"/>
<circle cx="458.7" cy="1014.2" r="7.7"/>
<circle cx="464.5" cy="1024.1" r="7.7"/>
<circle cx="502.3" cy="1054.2" r="7.7"/>
<circle cx="530.3" cy="1076.1" r="7.7"/>
<circle cx="532.5" cy="1074.2" r="7.7"/>
<circle cx="555.5" cy="1083.8" r="7.7"/>
<circle cx="572.4" cy="1107.5" r="7.7"/>
<circle cx="574.8" cy="1109.6" r="7.7"/>
<circle cx="590.2" cy="1110.9" r="7.7"/>
<circle cx="604.5" cy="1131" r="7.7"/>
<circle cx="649.6" cy="1163.4" r="7.7"/>
<circle cx="665.1" cy="1171.7" r="7.7"/>
<circle cx="667.7" cy="1164.5" r="7.7"/>
<circle cx="678.8" cy="1189.6" r="7.7"/>
<circle cx="707.3" cy="1202" r="7.7"/>
<circle cx="716.2" cy="1205.8" r="7.7"/>
<circle cx="315.2" cy="893.2" r="7.7"/>
<circle cx="315.6" cy="894.8" r="7.7"/>
<circle cx="315.9" cy="896.2" r="7.7"/>
<circle cx="316.2" cy="897.3" r="7.7"/>
<circle cx="316.5" cy="895" r="7.7"/>
<circle cx="316.8" cy="898.7" r="7.7"/>
<circle cx="317.1" cy="896.8" r="7.7"/>
<circle cx="317.4" cy="899.9" r="7.7"/>
<circle cx="317.7" cy="896.9" r="7.7"/>
<circle cx="318" cy="898.7" r="7.7"/>
<circle cx="318.6" cy="898.8" r="7.7"/>
<circle cx="352" cy="922.3" r="7.7"/>
<circle cx="352.3" cy="924.1" r="7.7"/>
<circle cx="352.6" cy="928.5" r="7.7"/>
<circle cx="352.9" cy="932.2" r="7.7"/>
<circle cx="353.2" cy="934.1" r="7.7"/>
<circle cx="357.4" cy="927.7" r="7.7"/>
<circle cx="357.4" cy="944.9" r="7.7"/>
<circle cx="352.4" cy="923.5" r="7.7"/>
<circle cx="352.7" cy="932.9" r="7.7"/>
</g>
<g fill="none" stroke="#000" stroke-opacity="0.8" stroke-width="2">
<circle cx="175.4" cy="771.1" r="7.2"/>
<circle cx="198.9" cy="783.9" r="7.2"/>
<circle cx="210.8" cy="797.7" r="7.2"/>
<circle cx="233.6" cy="822" r="7.2"/>
<circle cx="245.5" cy="832.4" r="7.2"/>
<circle cx="250.9" cy="839.5" r="7.2"/>
<circle cx="270.5" cy="855.4" r="7.2"/>
<circle cx="282.6" cy="867.2" r="7.2"/>
<circle cx="282.6" cy="871.1" r="7.2"/>
<circle cx="383.3" cy="956.9" r="7.2"/>
<circle cx="427" cy="1000.3" r="7.2"/>
<circle cx="458.7" cy="1014.2" r="7.2"/>
<circle cx="464.5" cy="1024.1" r="7.2"/>
<circle cx="502.3" cy="1054.2" r="7.2"/>
<circle cx="530.3" cy="1076.1" r="7.2"/>
<circle cx="532.5" cy="1074.2" r="7.2"/>
<circle cx="555.5" cy="1083.8" r="7.2"/>
<circle cx="572.4" cy="1107.5" r="7.2"/>
<circle cx="574.8" cy="1109.6" r="7.2"/>
<circle cx="590.2" cy="1110.9" r="7.2"/>
<circle cx="604.5" cy="1131" r="7.2"/>
<circle cx="649.6" cy="1163.4" r="7.2"/>
<circle cx="665.1" cy="1171.7" r="7.2"/>
<circle cx="667.7" cy="1164.5" r="7.2"/>
<circle cx="678.8" cy="1189.6" r="7.2"/>
<circle cx="707.3" cy="1202" r="7.2"/>
<circle cx="716.2" cy="1205.8" r="7.2"/>
<circle cx="315.2" cy="893.2" r="7.2"/>
<circle cx="315.6" cy="894.8" r="7.2"/>
<circle cx="315.9" cy="896.2" r="7.2"/>
<circle cx="316.2" cy="897.3" r="7.2"/>
<circle cx="316.5" cy="895" r="7.2"/>
<circle cx="316.8" cy="898.7" r="7.2"/>
<circle cx="317.1" cy="896.8" r="7.2"/>
<circle cx="317.4" cy="899.9" r="7.2"/>
<circle cx="317.7" cy="896.9" r="7.2"/>
<circle cx="318" cy="898.7" r="7.2"/>
<circle cx="318.6" cy="898.8" r="7.2"/>
<circle cx="352" cy="922.3" r="7.2"/>
<circle cx="352.3" cy="924.1" r="7.2"/>
<circle cx="352.6" cy="928.5" r="7.2"/>
<circle cx="352.9" cy="932.2" r="7.2"/>
<circle cx="353.2" cy="934.1" r="7.2"/>
<circle cx="357.4" cy="927.7" r="7.2"/>
<circle cx="357.4" cy="944.9" r="7.2"/>
<circle cx="352.4" cy="923.5" r="7.2"/>
<circle cx="352.7" cy="932.9" r="7.2"/>
</g>
</g>
<rect x="148.4" y="727.5" width="594.8" height="522.5" fill="none" stroke="#000" stroke-width="1.6"/>
<path d="M228.08 1250v-7.7M228.08 727.5v7.7M317.57 1250v-7.7M317.57 727.5v7.7M407.06 1250v-7.7M407.06 727.5v7.7M496.55 1250v-7.7M496.55 727.5v7.7M586.04 1250v-7.7M586.04 727.5v7.7M675.53 1250v-7.7M675.53 727.5v7.7" stroke="#000" stroke-width="1.6" fill="none"/>
<path d="M156.49 1250v-4.2M156.49 727.5v4.2M174.39 1250v-4.2M174.39 727.5v4.2M192.28 1250v-4.2M192.28 727.5v4.2M210.18 1250v-4.2M210.18 727.5v4.2M245.98 1250v-4.2M245.98 727.5v4.2M263.88 1250v-4.2M263.88 727.5v4.2M281.77 1250v-4.2M281.77 727.5v4.2M299.67 1250v-4.2M299.67 727.5v4.2M335.47 1250v-4.2M335.47 727.5v4.2M353.37 1250v-4.2M353.37 727.5v4.2M371.26 1250v-4.2M371.26 727.5v4.2M389.16 1250v-4.2M389.16 727.5v4.2M424.96 1250v-4.2M424.96 727.5v4.2M442.86 1250v-4.2M442.86 727.5v4.2M460.75 1250v-4.2M460.75 727.5v4.2M478.65 1250v-4.2M478.65 727.5v4.2M514.45 1250v-4.2M514.45 727.5v4.2M532.35 1250v-4.2M532.35 727.5v4.2M550.24 1250v-4.2M550.24 727.5v4.2M568.14 1250v-4.2M568.14 727.5v4.2M603.94 1250v-4.2M603.94 727.5v4.2M621.84 1250v-4.2M621.84 727.5v4.2M639.73 1250v-4.2M639.73 727.5v4.2M657.63 1250v-4.2M657.63 727.5v4.2M693.43 1250v-4.2M693.43 727.5v4.2M711.33 1250v-4.2M711.33 727.5v4.2M729.22 1250v-4.2M729.22 727.5v4.2" stroke="#000" stroke-width="1.25" fill="none"/>
<path d="M148.4 1179.34h7.7M743.2 1179.34h-7.7M148.4 1070.51h7.7M743.2 1070.51h-7.7M148.4 961.67h7.7M743.2 961.67h-7.7M148.4 852.84h7.7M743.2 852.84h-7.7M148.4 744h7.7M743.2 744h-7.7" stroke="#000" stroke-width="1.6" fill="none"/>
<path d="M148.4 1244.64h4.2M743.2 1244.64h-4.2M148.4 1222.87h4.2M743.2 1222.87h-4.2M148.4 1201.11h4.2M743.2 1201.11h-4.2M148.4 1157.57h4.2M743.2 1157.57h-4.2M148.4 1135.81h4.2M743.2 1135.81h-4.2M148.4 1114.04h4.2M743.2 1114.04h-4.2M148.4 1092.27h4.2M743.2 1092.27h-4.2M148.4 1048.74h4.2M743.2 1048.74h-4.2M148.4 1026.97h4.2M743.2 1026.97h-4.2M148.4 1005.2h4.2M743.2 1005.2h-4.2M148.4 983.44h4.2M743.2 983.44h-4.2M148.4 939.9h4.2M743.2 939.9h-4.2M148.4 918.14h4.2M743.2 918.14h-4.2M148.4 896.37h4.2M743.2 896.37h-4.2M148.4 874.6h4.2M743.2 874.6h-4.2M148.4 831.07h4.2M743.2 831.07h-4.2M148.4 809.3h4.2M743.2 809.3h-4.2M148.4 787.53h4.2M743.2 787.53h-4.2M148.4 765.77h4.2M743.2 765.77h-4.2" stroke="#000" stroke-width="1.25" fill="none"/>
<text x="139.8" y="1188.17" font-size="25.3" text-anchor="end">−1750</text>
<text x="139.8" y="1079.34" font-size="25.3" text-anchor="end">−1700</text>
<text x="139.8" y="970.5" font-size="25.3" text-anchor="end">−1650</text>
<text x="139.8" y="861.67" font-size="25.3" text-anchor="end">−1600</text>
<text x="139.8" y="752.83" font-size="25.3" text-anchor="end">−1550</text>
<g clip-path="url(#clipR)">
<path d="M184.7 1333.4V1362.6M207.8 1301.4V1331M219.5 1310.7V1339.9M242 1325.2V1347.2M253.7 1324.6V1344.2M259 1330.5V1353.5M278.3 1324V1346.6M290.2 1328.3V1348.7M290.2 1342.4V1361.2M389.4 1329.5V1359.1M432.4 1354.2V1381.2M463.6 1312.3V1340.9M469.4 1330.1V1358.7M506.6 1330.5V1358.9M534.2 1333.5V1356.7M536.3 1319.3V1346.5M559 1291.6V1319.8M575.6 1329.7V1358.1M578 1329.7V1359.7M593.1 1296.4V1323.8M607.2 1330V1356.9M651.6 1329V1360.4M666.9 1321.4V1351M669.5 1288.8V1322.2M680.4 1349.5V1382.3M708.5 1330V1355.2M717.2 1321.2V1350.2M322.3 1315.5V1340.5M322.7 1320.5V1344.5M323 1324.8V1347.8M323.3 1328.2V1350.2M323.6 1318.2V1342.2M323.9 1331.2V1353.2M324.2 1323.2V1346.2M324.5 1333V1356M324.8 1321.2V1345.2M325.1 1327.5V1349.5M325.7 1325.5V1348.5M358.6 1306.5V1328.5M358.9 1311.8V1333.8M359.2 1326V1348M359.5 1338V1360M359.7 1343.6V1365.6M363.9 1308.6V1331.6M363.9 1365.4V1393.4M359 1308.5V1332.5M359.3 1341V1363" stroke="#000" stroke-width="3.7" fill="none"/>
<path d="M178 1333.4h13.4M178 1362.6h13.4M201.1 1301.4h13.4M201.1 1331h13.4M212.8 1310.7h13.4M212.8 1339.9h13.4M235.3 1325.2h13.4M235.3 1347.2h13.4M247 1324.6h13.4M247 1344.2h13.4M252.3 1330.5h13.4M252.3 1353.5h13.4M271.6 1324h13.4M271.6 1346.6h13.4M283.5 1328.3h13.4M283.5 1348.7h13.4M283.5 1342.4h13.4M283.5 1361.2h13.4M382.7 1329.5h13.4M382.7 1359.1h13.4M425.7 1354.2h13.4M425.7 1381.2h13.4M456.9 1312.3h13.4M456.9 1340.9h13.4M462.7 1330.1h13.4M462.7 1358.7h13.4M499.9 1330.5h13.4M499.9 1358.9h13.4M527.5 1333.5h13.4M527.5 1356.7h13.4M529.6 1319.3h13.4M529.6 1346.5h13.4M552.3 1291.6h13.4M552.3 1319.8h13.4M568.9 1329.7h13.4M568.9 1358.1h13.4M571.3 1329.7h13.4M571.3 1359.7h13.4M586.4 1296.4h13.4M586.4 1323.8h13.4M600.5 1330h13.4M600.5 1356.9h13.4M644.9 1329h13.4M644.9 1360.4h13.4M660.2 1321.4h13.4M660.2 1351h13.4M662.8 1288.8h13.4M662.8 1322.2h13.4M673.7 1349.5h13.4M673.7 1382.3h13.4M701.8 1330h13.4M701.8 1355.2h13.4M710.5 1321.2h13.4M710.5 1350.2h13.4M315.6 1315.5h13.4M315.6 1340.5h13.4M316 1320.5h13.4M316 1344.5h13.4M316.3 1324.8h13.4M316.3 1347.8h13.4M316.6 1328.2h13.4M316.6 1350.2h13.4M316.9 1318.2h13.4M316.9 1342.2h13.4M317.2 1331.2h13.4M317.2 1353.2h13.4M317.5 1323.2h13.4M317.5 1346.2h13.4M317.8 1333h13.4M317.8 1356h13.4M318.1 1321.2h13.4M318.1 1345.2h13.4M318.4 1327.5h13.4M318.4 1349.5h13.4M319 1325.5h13.4M319 1348.5h13.4M351.9 1306.5h13.4M351.9 1328.5h13.4M352.2 1311.8h13.4M352.2 1333.8h13.4M352.5 1326h13.4M352.5 1348h13.4M352.8 1338h13.4M352.8 1360h13.4M353 1343.6h13.4M353 1365.6h13.4M357.2 1308.6h13.4M357.2 1331.6h13.4M357.2 1365.4h13.4M357.2 1393.4h13.4M352.3 1308.5h13.4M352.3 1332.5h13.4M352.6 1341h13.4M352.6 1363h13.4" stroke="#000" stroke-width="2.1" fill="none"/>
<g stroke-width="3" stroke-opacity="0.31" fill="none">
<polyline points="146.64,1331.27 192.66,1333.05 238.69,1334.52 284.71,1335.69 330.74,1336.55 376.76,1337.11 422.79,1337.37 468.81,1337.32 514.84,1336.96 560.86,1336.31 606.89,1335.34 652.91,1334.08 698.94,1332.51 744.96,1330.63" stroke="#375a8c"/>
<polyline points="146.64,1331.88 192.66,1333.18 238.69,1334.34 284.71,1335.38 330.74,1336.28 376.76,1337.05 422.79,1337.69 468.81,1338.2 514.84,1338.57 560.86,1338.82 606.89,1338.94 652.91,1338.92 698.94,1338.77 744.96,1338.49" stroke="#297b8e"/>
<polyline points="146.64,1325.89 192.66,1329.45 238.69,1332.51 284.71,1335.07 330.74,1337.14 376.76,1338.72 422.79,1339.8 468.81,1340.38 514.84,1340.47 560.86,1340.06 606.89,1339.16 652.91,1337.76 698.94,1335.87 744.96,1333.48" stroke="#355f8d"/>
<polyline points="146.64,1336.4 192.66,1336.1 238.69,1335.97 284.71,1336 330.74,1336.19 376.76,1336.55 422.79,1337.07 468.81,1337.76 514.84,1338.61 560.86,1339.63 606.89,1340.81 652.91,1342.16 698.94,1343.67 744.96,1345.35" stroke="#23a983"/>
<polyline points="146.64,1334.71 192.66,1335.14 238.69,1335.59 284.71,1336.06 330.74,1336.53 376.76,1337.03 422.79,1337.54 468.81,1338.06 514.84,1338.6 560.86,1339.16 606.89,1339.73 652.91,1340.32 698.94,1340.92 744.96,1341.54" stroke="#24878e"/>
<polyline points="146.64,1338.28 192.66,1337.14 238.69,1336.34 284.71,1335.89 330.74,1335.78 376.76,1336.02 422.79,1336.6 468.81,1337.52 514.84,1338.79 560.86,1340.4 606.89,1342.35 652.91,1344.65 698.94,1347.3 744.96,1350.29" stroke="#32b67a"/>
<polyline points="146.64,1351.42 192.66,1347.47 238.69,1344.21 284.71,1341.64 330.74,1339.75 376.76,1338.55 422.79,1338.03 468.81,1338.2 514.84,1339.06 560.86,1340.61 606.89,1342.84 652.91,1345.76 698.94,1349.37 744.96,1353.66" stroke="#7ad151"/>
<polyline points="146.64,1324.84 192.66,1328.49 238.69,1331.58 284.71,1334.13 330.74,1336.12 376.76,1337.57 422.79,1338.47 468.81,1338.82 514.84,1338.62 560.86,1337.87 606.89,1336.58 652.91,1334.73 698.94,1332.33 744.96,1329.39" stroke="#414487"/>
<polyline points="146.64,1335.67 192.66,1336.17 238.69,1336.64 284.71,1337.11 330.74,1337.55 376.76,1337.98 422.79,1338.4 468.81,1338.8 514.84,1339.19 560.86,1339.56 606.89,1339.92 652.91,1340.26 698.94,1340.58 744.96,1340.89" stroke="#238a8d"/>
<polyline points="146.64,1339.96 192.66,1338.67 238.69,1337.62 284.71,1336.81 330.74,1336.24 376.76,1335.9 422.79,1335.81 468.81,1335.95 514.84,1336.32 560.86,1336.94 606.89,1337.79 652.91,1338.88 698.94,1340.21 744.96,1341.77" stroke="#44bf70"/>
<polyline points="146.64,1339.47 192.66,1338.67 238.69,1338.1 284.71,1337.76 330.74,1337.64 376.76,1337.75 422.79,1338.09 468.81,1338.65 514.84,1339.45 560.86,1340.46 606.89,1341.71 652.91,1343.18 698.94,1344.88 744.96,1346.81" stroke="#2fb47c"/>
<polyline points="146.64,1345.36 192.66,1342.83 238.69,1340.78 284.71,1339.19 330.74,1338.07 376.76,1337.41 422.79,1337.23 468.81,1337.51 514.84,1338.26 560.86,1339.48 606.89,1341.16 652.91,1343.32 698.94,1345.94 744.96,1349.03" stroke="#69cd5b"/>
<polyline points="146.64,1337.41 192.66,1336.16 238.69,1335.19 284.71,1334.5 330.74,1334.09 376.76,1333.96 422.79,1334.12 468.81,1334.55 514.84,1335.26 560.86,1336.25 606.89,1337.53 652.91,1339.08 698.94,1340.92 744.96,1343.03" stroke="#24aa83"/>
<polyline points="146.64,1349.15 192.66,1345.71 238.69,1342.89 284.71,1340.67 330.74,1339.07 376.76,1338.07 422.79,1337.69 468.81,1337.92 514.84,1338.76 560.86,1340.22 606.89,1342.28 652.91,1344.96 698.94,1348.25 744.96,1352.15" stroke="#5ec962"/>
<polyline points="146.64,1328.64 192.66,1331.13 238.69,1333.18 284.71,1334.8 330.74,1335.99 376.76,1336.74 422.79,1337.06 468.81,1336.94 514.84,1336.39 560.86,1335.41 606.89,1334 652.91,1332.15 698.94,1329.86 744.96,1327.15" stroke="#443a83"/>
<polyline points="146.64,1331.96 192.66,1333.78 238.69,1335.32 284.71,1336.56 330.74,1337.51 376.76,1338.16 422.79,1338.53 468.81,1338.6 514.84,1338.38 560.86,1337.87 606.89,1337.06 652.91,1335.97 698.94,1334.58 744.96,1332.9" stroke="#355e8d"/>
<polyline points="146.64,1337.59 192.66,1337.01 238.69,1336.49 284.71,1336.03 330.74,1335.64 376.76,1335.32 422.79,1335.06 468.81,1334.86 514.84,1334.73 560.86,1334.66 606.89,1334.66 652.91,1334.73 698.94,1334.85 744.96,1335.05" stroke="#23898e"/>
<polyline points="146.64,1331.5 192.66,1332.73 238.69,1333.8 284.71,1334.71 330.74,1335.45 376.76,1336.03 422.79,1336.45 468.81,1336.71 514.84,1336.8 560.86,1336.73 606.89,1336.5 652.91,1336.11 698.94,1335.56 744.96,1334.84" stroke="#2b748e"/>
<polyline points="146.64,1331.87 192.66,1333.29 238.69,1334.52 284.71,1335.55 330.74,1336.39 376.76,1337.03 422.79,1337.47 468.81,1337.72 514.84,1337.77 560.86,1337.62 606.89,1337.28 652.91,1336.74 698.94,1336 744.96,1335.07" stroke="#2e6d8e"/>
<polyline points="146.64,1334.1 192.66,1334.98 238.69,1335.83 284.71,1336.64 330.74,1337.41 376.76,1338.15 422.79,1338.85 468.81,1339.52 514.84,1340.16 560.86,1340.76 606.89,1341.32 652.91,1341.85 698.94,1342.35 744.96,1342.81" stroke="#21a585"/>
<polyline points="146.64,1336.64 192.66,1337.18 238.69,1337.65 284.71,1338.04 330.74,1338.36 376.76,1338.6 422.79,1338.77 468.81,1338.87 514.84,1338.89 560.86,1338.84 606.89,1338.71 652.91,1338.51 698.94,1338.24 744.96,1337.89" stroke="#228d8d"/>
<polyline points="146.64,1326.62 192.66,1329.28 238.69,1331.6 284.71,1333.58 330.74,1335.24 376.76,1336.56 422.79,1337.55 468.81,1338.2 514.84,1338.52 560.86,1338.51 606.89,1338.17 652.91,1337.49 698.94,1336.48 744.96,1335.13" stroke="#39568c"/>
<polyline points="146.64,1325.87 192.66,1329.39 238.69,1332.42 284.71,1334.96 330.74,1337.02 376.76,1338.59 422.79,1339.68 468.81,1340.27 514.84,1340.39 560.86,1340.01 606.89,1339.15 652.91,1337.8 698.94,1335.96 744.96,1333.64" stroke="#32648e"/>
<polyline points="146.64,1334.31 192.66,1334.6 238.69,1334.97 284.71,1335.44 330.74,1336.01 376.76,1336.67 422.79,1337.42 468.81,1338.27 514.84,1339.21 560.86,1340.24 606.89,1341.37 652.91,1342.59 698.94,1343.91 744.96,1345.32" stroke="#1f998a"/>
<polyline points="146.64,1331.39 192.66,1332.65 238.69,1333.72 284.71,1334.62 330.74,1335.33 376.76,1335.87 422.79,1336.22 468.81,1336.39 514.84,1336.39 560.86,1336.2 606.89,1335.83 652.91,1335.28 698.94,1334.55 744.96,1333.64" stroke="#355f8d"/>
<polyline points="146.64,1335.57 192.66,1335.46 238.69,1335.55 284.71,1335.84 330.74,1336.33 376.76,1337.02 422.79,1337.91 468.81,1339 514.84,1340.29 560.86,1341.78 606.89,1343.47 652.91,1345.35 698.94,1347.44 744.96,1349.73" stroke="#25ac82"/>
<polyline points="146.64,1336.92 192.66,1337.07 238.69,1337.25 284.71,1337.45 330.74,1337.69 376.76,1337.96 422.79,1338.25 468.81,1338.58 514.84,1338.93 560.86,1339.32 606.89,1339.73 652.91,1340.17 698.94,1340.65 744.96,1341.15" stroke="#1fa188"/>
<polyline points="146.64,1338 192.66,1337.3 238.69,1336.77 284.71,1336.43 330.74,1336.27 376.76,1336.29 422.79,1336.5 468.81,1336.89 514.84,1337.46 560.86,1338.21 606.89,1339.15 652.91,1340.27 698.94,1341.57 744.96,1343.05" stroke="#1fa188"/>
<polyline points="146.64,1332.8 192.66,1334.04 238.69,1335.15 284.71,1336.14 330.74,1337 376.76,1337.74 422.79,1338.35 468.81,1338.84 514.84,1339.2 560.86,1339.44 606.89,1339.55 652.91,1339.54 698.94,1339.4 744.96,1339.13" stroke="#20928c"/>
<polyline points="146.64,1329.84 192.66,1331.48 238.69,1332.95 284.71,1334.22 330.74,1335.32 376.76,1336.23 422.79,1336.96 468.81,1337.51 514.84,1337.87 560.86,1338.06 606.89,1338.05 652.91,1337.87 698.94,1337.5 744.96,1336.95" stroke="#33638d"/>
<polyline points="146.64,1330.34 192.66,1332.47 238.69,1334.35 284.71,1335.98 330.74,1337.37 376.76,1338.51 422.79,1339.41 468.81,1340.06 514.84,1340.46 560.86,1340.62 606.89,1340.53 652.91,1340.2 698.94,1339.62 744.96,1338.79" stroke="#228d8d"/>
<polyline points="146.64,1334.56 192.66,1334.99 238.69,1335.42 284.71,1335.86 330.74,1336.31 376.76,1336.77 422.79,1337.24 468.81,1337.71 514.84,1338.19 560.86,1338.68 606.89,1339.18 652.91,1339.69 698.94,1340.2 744.96,1340.72" stroke="#2b758e"/>
<polyline points="146.64,1335.21 192.66,1334.87 238.69,1334.65 284.71,1334.53 330.74,1334.53 376.76,1334.63 422.79,1334.85 468.81,1335.18 514.84,1335.62 560.86,1336.17 606.89,1336.83 652.91,1337.61 698.94,1338.49 744.96,1339.48" stroke="#23898e"/>
<polyline points="146.64,1329.47 192.66,1331.53 238.69,1333.33 284.71,1334.86 330.74,1336.13 376.76,1337.14 422.79,1337.87 468.81,1338.35 514.84,1338.55 560.86,1338.49 606.89,1338.17 652.91,1337.58 698.94,1336.73 744.96,1335.61" stroke="#2e6e8e"/>
<polyline points="146.64,1340.28 192.66,1339.44 238.69,1338.79 284.71,1338.33 330.74,1338.06 376.76,1337.98 422.79,1338.09 468.81,1338.39 514.84,1338.88 560.86,1339.55 606.89,1340.42 652.91,1341.47 698.94,1342.71 744.96,1344.15" stroke="#21a585"/>
<polyline points="146.64,1336.44 192.66,1336.55 238.69,1336.7 284.71,1336.88 330.74,1337.09 376.76,1337.33 422.79,1337.6 468.81,1337.9 514.84,1338.23 560.86,1338.59 606.89,1338.98 652.91,1339.41 698.94,1339.86 744.96,1340.34" stroke="#25858e"/>
<polyline points="146.64,1316.14 192.66,1321.58 238.69,1326.21 284.71,1330.03 330.74,1333.03 376.76,1335.23 422.79,1336.62 468.81,1337.19 514.84,1336.96 560.86,1335.92 606.89,1334.06 652.91,1331.4 698.94,1327.92 744.96,1323.64" stroke="#481a6c"/>
<polyline points="146.64,1332.02 192.66,1332.8 238.69,1333.56 284.71,1334.29 330.74,1335.01 376.76,1335.69 422.79,1336.36 468.81,1337 514.84,1337.62 560.86,1338.22 606.89,1338.79 652.91,1339.34 698.94,1339.87 744.96,1340.37" stroke="#228b8d"/>
<polyline points="146.64,1328.34 192.66,1330.73 238.69,1332.81 284.71,1334.58 330.74,1336.02 376.76,1337.14 422.79,1337.95 468.81,1338.44 514.84,1338.61 560.86,1338.46 606.89,1338 652.91,1337.21 698.94,1336.11 744.96,1334.69" stroke="#365c8d"/>
<polyline points="146.64,1332.04 192.66,1333.81 238.69,1335.3 284.71,1336.51 330.74,1337.44 376.76,1338.08 422.79,1338.45 468.81,1338.53 514.84,1338.33 560.86,1337.85 606.89,1337.09 652.91,1336.04 698.94,1334.72 744.96,1333.11" stroke="#33638d"/>
<polyline points="146.64,1341.87 192.66,1339.56 238.69,1337.75 284.71,1336.44 330.74,1335.64 376.76,1335.34 422.79,1335.54 468.81,1336.24 514.84,1337.44 560.86,1339.14 606.89,1341.35 652.91,1344.06 698.94,1347.27 744.96,1350.98" stroke="#5cc863"/>
<polyline points="146.64,1341.67 192.66,1340.04 238.69,1338.74 284.71,1337.77 330.74,1337.13 376.76,1336.83 422.79,1336.85 468.81,1337.21 514.84,1337.9 560.86,1338.92 606.89,1340.27 652.91,1341.95 698.94,1343.97 744.96,1346.32" stroke="#3dbc74"/>
<polyline points="146.64,1353.7 192.66,1349.13 238.69,1345.34 284.71,1342.33 330.74,1340.11 376.76,1338.66 422.79,1337.99 468.81,1338.11 514.84,1339 560.86,1340.68 606.89,1343.13 652.91,1346.37 698.94,1350.38 744.96,1355.18" stroke="#9bd93c"/>
<polyline points="146.64,1333.59 192.66,1334.64 238.69,1335.6 284.71,1336.44 330.74,1337.17 376.76,1337.79 422.79,1338.3 468.81,1338.71 514.84,1339 560.86,1339.19 606.89,1339.26 652.91,1339.23 698.94,1339.09 744.96,1338.84" stroke="#277f8e"/>
<polyline points="146.64,1333.62 192.66,1334.93 238.69,1336.05 284.71,1336.99 330.74,1337.73 376.76,1338.28 422.79,1338.65 468.81,1338.82 514.84,1338.81 560.86,1338.6 606.89,1338.21 652.91,1337.63 698.94,1336.86 744.96,1335.9" stroke="#27808e"/>
<polyline points="146.64,1333.33 192.66,1334.03 238.69,1334.64 284.71,1335.17 330.74,1335.61 376.76,1335.96 422.79,1336.22 468.81,1336.39 514.84,1336.48 560.86,1336.48 606.89,1336.38 652.91,1336.2 698.94,1335.93 744.96,1335.58" stroke="#306a8e"/>
<polyline points="146.64,1328.73 192.66,1331.7 238.69,1334.22 284.71,1336.31 330.74,1337.97 376.76,1339.19 422.79,1339.97 468.81,1340.31 514.84,1340.22 560.86,1339.7 606.89,1338.73 652.91,1337.33 698.94,1335.5 744.96,1333.23" stroke="#355e8d"/>
<polyline points="146.64,1330.79 192.66,1331.58 238.69,1332.32 284.71,1332.98 330.74,1333.59 376.76,1334.13 422.79,1334.6 468.81,1335.01 514.84,1335.36 560.86,1335.64 606.89,1335.86 652.91,1336.01 698.94,1336.1 744.96,1336.12" stroke="#287c8e"/>
<polyline points="146.64,1333.29 192.66,1334.63 238.69,1335.75 284.71,1336.65 330.74,1337.33 376.76,1337.78 422.79,1338.02 468.81,1338.03 514.84,1337.82 560.86,1337.39 606.89,1336.74 652.91,1335.87 698.94,1334.78 744.96,1333.46" stroke="#29798e"/>
</g>
<line x1="148.2" y1="1337" x2="745.2" y2="1337" stroke="#000" stroke-width="3.6" stroke-dasharray="16.4 16.52"/>
<g fill="#f00">
<circle cx="184.7" cy="1348" r="7.6"/>
<circle cx="207.8" cy="1316.2" r="7.6"/>
<circle cx="219.5" cy="1325.3" r="7.6"/>
<circle cx="242" cy="1336.2" r="7.6"/>
<circle cx="253.7" cy="1334.4" r="7.6"/>
<circle cx="259" cy="1342" r="7.6"/>
<circle cx="278.3" cy="1335.3" r="7.6"/>
<circle cx="290.2" cy="1338.5" r="7.6"/>
<circle cx="290.2" cy="1351.8" r="7.6"/>
<circle cx="389.4" cy="1344.3" r="7.6"/>
<circle cx="432.4" cy="1367.8" r="7.6"/>
<circle cx="463.6" cy="1326.6" r="7.6"/>
<circle cx="469.4" cy="1344.4" r="7.6"/>
<circle cx="506.6" cy="1344.7" r="7.6"/>
<circle cx="534.2" cy="1345.1" r="7.6"/>
<circle cx="536.3" cy="1332.9" r="7.6"/>
<circle cx="559" cy="1305.7" r="7.6"/>
<circle cx="575.6" cy="1343.9" r="7.6"/>
<circle cx="578" cy="1344.7" r="7.6"/>
<circle cx="593.1" cy="1310.1" r="7.6"/>
<circle cx="607.2" cy="1343.5" r="7.6"/>
<circle cx="651.6" cy="1344.7" r="7.6"/>
<circle cx="666.9" cy="1336.2" r="7.6"/>
<circle cx="669.5" cy="1305.5" r="7.6"/>
<circle cx="680.4" cy="1365.9" r="7.6"/>
<circle cx="708.5" cy="1342.6" r="7.6"/>
<circle cx="717.2" cy="1335.7" r="7.6"/>
<circle cx="322.3" cy="1328" r="7.6"/>
<circle cx="322.7" cy="1332.5" r="7.6"/>
<circle cx="323" cy="1336.2" r="7.6"/>
<circle cx="323.3" cy="1339.2" r="7.6"/>
<circle cx="323.6" cy="1330.2" r="7.6"/>
<circle cx="323.9" cy="1342.2" r="7.6"/>
<circle cx="324.2" cy="1334.8" r="7.6"/>
<circle cx="324.5" cy="1344.5" r="7.6"/>
<circle cx="324.8" cy="1333.2" r="7.6"/>
<circle cx="325.1" cy="1338.5" r="7.6"/>
<circle cx="325.7" cy="1337" r="7.6"/>
<circle cx="358.6" cy="1317.5" r="7.6"/>
<circle cx="358.9" cy="1322.8" r="7.6"/>
<circle cx="359.2" cy="1337" r="7.6"/>
<circle cx="359.5" cy="1349" r="7.6"/>
<circle cx="359.7" cy="1354.6" r="7.6"/>
<circle cx="363.9" cy="1320.1" r="7.6"/>
<circle cx="363.9" cy="1379.4" r="7.6"/>
<circle cx="359" cy="1320.5" r="7.6"/>
<circle cx="359.3" cy="1352" r="7.6"/>
</g>
<g fill="none" stroke="#000" stroke-opacity="0.5" stroke-width="2">
<circle cx="184.7" cy="1348" r="6.9"/>
<circle cx="207.8" cy="1316.2" r="6.9"/>
<circle cx="219.5" cy="1325.3" r="6.9"/>
<circle cx="242" cy="1336.2" r="6.9"/>
<circle cx="253.7" cy="1334.4" r="6.9"/>
<circle cx="259" cy="1342" r="6.9"/>
<circle cx="278.3" cy="1335.3" r="6.9"/>
<circle cx="290.2" cy="1338.5" r="6.9"/>
<circle cx="290.2" cy="1351.8" r="6.9"/>
<circle cx="389.4" cy="1344.3" r="6.9"/>
<circle cx="432.4" cy="1367.8" r="6.9"/>
<circle cx="463.6" cy="1326.6" r="6.9"/>
<circle cx="469.4" cy="1344.4" r="6.9"/>
<circle cx="506.6" cy="1344.7" r="6.9"/>
<circle cx="534.2" cy="1345.1" r="6.9"/>
<circle cx="536.3" cy="1332.9" r="6.9"/>
<circle cx="559" cy="1305.7" r="6.9"/>
<circle cx="575.6" cy="1343.9" r="6.9"/>
<circle cx="578" cy="1344.7" r="6.9"/>
<circle cx="593.1" cy="1310.1" r="6.9"/>
<circle cx="607.2" cy="1343.5" r="6.9"/>
<circle cx="651.6" cy="1344.7" r="6.9"/>
<circle cx="666.9" cy="1336.2" r="6.9"/>
<circle cx="669.5" cy="1305.5" r="6.9"/>
<circle cx="680.4" cy="1365.9" r="6.9"/>
<circle cx="708.5" cy="1342.6" r="6.9"/>
<circle cx="717.2" cy="1335.7" r="6.9"/>
<circle cx="322.3" cy="1328" r="6.9"/>
<circle cx="322.7" cy="1332.5" r="6.9"/>
<circle cx="323" cy="1336.2" r="6.9"/>
<circle cx="323.3" cy="1339.2" r="6.9"/>
<circle cx="323.6" cy="1330.2" r="6.9"/>
<circle cx="323.9" cy="1342.2" r="6.9"/>
<circle cx="324.2" cy="1334.8" r="6.9"/>
<circle cx="324.5" cy="1344.5" r="6.9"/>
<circle cx="324.8" cy="1333.2" r="6.9"/>
<circle cx="325.1" cy="1338.5" r="6.9"/>
<circle cx="325.7" cy="1337" r="6.9"/>
<circle cx="358.6" cy="1317.5" r="6.9"/>
<circle cx="358.9" cy="1322.8" r="6.9"/>
<circle cx="359.2" cy="1337" r="6.9"/>
<circle cx="359.5" cy="1349" r="6.9"/>
<circle cx="359.7" cy="1354.6" r="6.9"/>
<circle cx="363.9" cy="1320.1" r="6.9"/>
<circle cx="363.9" cy="1379.4" r="6.9"/>
<circle cx="359" cy="1320.5" r="6.9"/>
<circle cx="359.3" cy="1352" r="6.9"/>
</g>
</g>
<rect x="148.4" y="1267.5" width="594.8" height="139.1" fill="none" stroke="#000" stroke-width="1.6"/>
<path d="M148.4 1406.6v-7.7M148.4 1267.5v7.7M324.55 1406.6v-7.7M324.55 1267.5v7.7M500.7 1406.6v-7.7M500.7 1267.5v7.7M676.85 1406.6v-7.7M676.85 1267.5v7.7" stroke="#000" stroke-width="1.6" fill="none"/>
<path d="M183.63 1406.6v-4.2M183.63 1267.5v4.2M218.86 1406.6v-4.2M218.86 1267.5v4.2M254.09 1406.6v-4.2M254.09 1267.5v4.2M289.32 1406.6v-4.2M289.32 1267.5v4.2M359.78 1406.6v-4.2M359.78 1267.5v4.2M395.01 1406.6v-4.2M395.01 1267.5v4.2M430.24 1406.6v-4.2M430.24 1267.5v4.2M465.47 1406.6v-4.2M465.47 1267.5v4.2M535.93 1406.6v-4.2M535.93 1267.5v4.2M571.16 1406.6v-4.2M571.16 1267.5v4.2M606.39 1406.6v-4.2M606.39 1267.5v4.2M641.62 1406.6v-4.2M641.62 1267.5v4.2M712.08 1406.6v-4.2M712.08 1267.5v4.2" stroke="#000" stroke-width="1.25" fill="none"/>
<path d="M148.4 1374.5h7.7M743.2 1374.5h-7.7M148.4 1337h7.7M743.2 1337h-7.7M148.4 1299.5h7.7M743.2 1299.5h-7.7" stroke="#000" stroke-width="1.6" fill="none"/>
<path d="M148.4 1404.5h4.2M743.2 1404.5h-4.2M148.4 1397h4.2M743.2 1397h-4.2M148.4 1389.5h4.2M743.2 1389.5h-4.2M148.4 1382h4.2M743.2 1382h-4.2M148.4 1367h4.2M743.2 1367h-4.2M148.4 1359.5h4.2M743.2 1359.5h-4.2M148.4 1352h4.2M743.2 1352h-4.2M148.4 1344.5h4.2M743.2 1344.5h-4.2M148.4 1329.5h4.2M743.2 1329.5h-4.2M148.4 1322h4.2M743.2 1322h-4.2M148.4 1314.5h4.2M743.2 1314.5h-4.2M148.4 1307h4.2M743.2 1307h-4.2M148.4 1292h4.2M743.2 1292h-4.2M148.4 1284.5h4.2M743.2 1284.5h-4.2M148.4 1277h4.2M743.2 1277h-4.2M148.4 1269.5h4.2M743.2 1269.5h-4.2" stroke="#000" stroke-width="1.25" fill="none"/>
<text x="139.8" y="1384.23" font-size="25.3" text-anchor="end">−5</text>
<text x="139.8" y="1346.73" font-size="25.3" text-anchor="end">0</text>
<text x="139.8" y="1309.23" font-size="25.3" text-anchor="end">5</text>
<text x="148.4" y="1433.6" font-size="25.3" text-anchor="middle">2002.5</text>
<text x="324.55" y="1433.6" font-size="25.3" text-anchor="middle">2007.5</text>
<text x="500.7" y="1433.6" font-size="25.3" text-anchor="middle">2012.5</text>
<text x="676.85" y="1433.6" font-size="25.3" text-anchor="middle">2017.5</text>
<text x="444.5" y="1469.3" font-size="28.2" text-anchor="middle">Epoch (yr)</text>
<text transform="translate(37 988.75) rotate(-90)" font-size="28.2" text-anchor="middle">RV (m/s)</text>
<text transform="translate(37.5 1337.55) rotate(-90)" font-size="28.2" text-anchor="middle">O-C</text>
<text transform="translate(684.6 789) scale(0.977 1)" font-size="33.7" text-anchor="end">HD 159062A</text>
<text transform="translate(921.4 1065.4) rotate(90)" font-size="28.2" text-anchor="middle" letter-spacing="0.15">M<tspan font-size="19.74" dy="4.65">comp</tspan><tspan dy="-4.65">(M</tspan><tspan font-size="19.74" dy="4.65">⊙</tspan><tspan dy="-4.65">)</tspan></text>
<rect x="780.5" y="762" width="30.4" height="609.6" fill="url(#vir)"/>
<rect x="780.5" y="762" width="30.4" height="609.6" fill="none" stroke="#000" stroke-width="1.6"/>
<text x="826" y="1316.75" font-size="25.3" text-anchor="start">0.595</text>
<text x="826" y="1234.46" font-size="25.3" text-anchor="start">0.600</text>
<text x="826" y="1152.17" font-size="25.3" text-anchor="start">0.605</text>
<text x="826" y="1069.88" font-size="25.3" text-anchor="start">0.610</text>
<text x="826" y="987.59" font-size="25.3" text-anchor="start">0.615</text>
<text x="826" y="905.3" font-size="25.3" text-anchor="start">0.620</text>
<text x="826" y="823.01" font-size="25.3" text-anchor="start">0.625</text>
<path d="M810.9 1307.41h7.7M810.9 1225.12h7.7M810.9 1142.84h7.7M810.9 1060.55h7.7M810.9 978.26h7.7M810.9 895.97h7.7M810.9 813.68h7.7" stroke="#000" stroke-width="1.6" fill="none"/>
</g>
<g id="panel-br" transform="translate(996.95 -25.41) scale(1.0172)">
<g clip-path="url(#clipM)">
<g stroke-width="3" stroke-opacity="0.31" fill="none">
<polyline points="146.61,741.88 221.41,811.44 296.21,878.76 371,943.68 445.8,1006.02 520.6,1065.61 595.39,1122.27 670.19,1175.84 744.99,1226.13" stroke="#48186a"/>
<polyline points="146.61,742.71 221.41,812.3 296.21,879.6 371,944.43 445.8,1006.62 520.6,1066 595.39,1122.39 670.19,1175.62 744.99,1225.51" stroke="#404688"/>
<polyline points="146.61,739.41 221.41,810.58 296.21,879.04 371,944.62 445.8,1007.15 520.6,1066.44 595.39,1122.33 670.19,1174.64 744.99,1223.2" stroke="#46337f"/>
<polyline points="146.61,739.39 221.41,809.92 296.21,877.96 371,943.35 445.8,1005.92 520.6,1065.48 595.39,1121.86 670.19,1174.9 744.99,1224.41" stroke="#355f8d"/>
<polyline points="146.61,742.38 221.41,812.17 296.21,879.59 371,944.46 445.8,1006.6 520.6,1065.85 595.39,1122.02 670.19,1174.95 744.99,1224.47" stroke="#29798e"/>
<polyline points="146.61,738.4 221.41,809.67 296.21,878.29 371,944.09 445.8,1006.91 520.6,1066.55 595.39,1122.86 670.19,1175.66 744.99,1224.78" stroke="#2d718e"/>
<polyline points="146.61,739.42 221.41,810.59 296.21,879.1 371,944.77 445.8,1007.45 520.6,1066.94 595.39,1123.08 670.19,1175.7 744.99,1224.62" stroke="#1e9b8a"/>
<polyline points="146.61,738.38 221.41,810.03 296.21,878.9 371,944.79 445.8,1007.55 520.6,1067 595.39,1122.96 670.19,1175.27 744.99,1223.74" stroke="#2c718e"/>
<polyline points="146.61,740.88 221.41,810.86 296.21,878.54 371,943.76 445.8,1006.33 520.6,1066.09 595.39,1122.86 670.19,1176.47 744.99,1226.74" stroke="#39558c"/>
<polyline points="146.61,739.63 221.41,810.18 296.21,878.22 371,943.6 445.8,1006.12 520.6,1065.63 595.39,1121.95 670.19,1174.9 744.99,1224.31" stroke="#7ad151"/>
<polyline points="146.61,740.17 221.41,810.66 296.21,878.68 371,944.07 445.8,1006.63 520.6,1066.22 595.39,1122.64 670.19,1175.73 744.99,1225.31" stroke="#443b84"/>
<polyline points="146.61,737.78 221.41,809.4 296.21,878.25 371,944.17 445.8,1006.99 520.6,1066.53 595.39,1122.62 670.19,1175.08 744.99,1223.75" stroke="#277e8e"/>
<polyline points="146.61,738.91 221.41,810.04 296.21,878.57 371,944.32 445.8,1007.13 520.6,1066.81 595.39,1123.19 670.19,1176.1 744.99,1225.37" stroke="#472f7d"/>
<polyline points="146.61,740.35 221.41,810.68 296.21,878.47 371,943.56 445.8,1005.78 520.6,1064.95 595.39,1120.89 670.19,1173.44 744.99,1222.41" stroke="#3b528b"/>
<polyline points="146.61,738.79 221.41,809.72 296.21,878.05 371,943.59 445.8,1006.18 520.6,1065.64 595.39,1121.79 670.19,1174.48 744.99,1223.51" stroke="#46327e"/>
<polyline points="146.61,740.58 221.41,810.95 296.21,878.86 371,944.15 445.8,1006.64 520.6,1066.16 595.39,1122.54 670.19,1175.6 744.99,1225.17" stroke="#453581"/>
<polyline points="146.61,740.61 221.41,811.41 296.21,879.58 371,944.94 445.8,1007.32 520.6,1066.55 595.39,1122.45 670.19,1174.85 744.99,1223.58" stroke="#481c6e"/>
<polyline points="146.61,741.48 221.41,811.48 296.21,879.05 371,944.03 445.8,1006.23 520.6,1065.49 595.39,1121.63 670.19,1174.48 744.99,1223.87" stroke="#2b748e"/>
<polyline points="146.61,741.08 221.41,811.6 296.21,879.58 371,944.84 445.8,1007.21 520.6,1066.52 595.39,1122.58 670.19,1175.24 744.99,1224.31" stroke="#481c6e"/>
<polyline points="146.61,738.5 221.41,809.56 296.21,878.12 371,944 445.8,1007.05 520.6,1067.09 595.39,1123.93 670.19,1177.42 744.99,1227.36" stroke="#482878"/>
<polyline points="146.61,735.6 221.41,807.69 296.21,877.04 371,943.46 445.8,1006.81 520.6,1066.88 595.39,1123.53 670.19,1176.56 744.99,1225.82" stroke="#21918c"/>
<polyline points="146.61,738.71 221.41,809.82 296.21,878.3 371,943.97 445.8,1006.64 520.6,1066.17 595.39,1122.35 670.19,1175.04 744.99,1224.04" stroke="#25ab82"/>
<polyline points="146.61,739.99 221.41,810.4 296.21,878.4 371,943.82 445.8,1006.47 520.6,1066.19 595.39,1122.81 670.19,1176.14 744.99,1226.02" stroke="#46327e"/>
<polyline points="146.61,739.51 221.41,810.49 296.21,878.83 371,944.34 445.8,1006.87 520.6,1066.22 595.39,1122.24 670.19,1174.74 744.99,1223.55" stroke="#3d4e8a"/>
<polyline points="146.61,740.45 221.41,811.48 296.21,879.87 371,945.43 445.8,1007.99 520.6,1067.37 595.39,1123.42 670.19,1175.94 744.99,1224.77" stroke="#433e85"/>
<polyline points="146.61,739.83 221.41,810.77 296.21,878.94 371,944.18 445.8,1006.31 520.6,1065.17 595.39,1120.57 670.19,1172.35 744.99,1220.34" stroke="#44bf70"/>
<polyline points="146.61,739.47 221.41,810.35 296.21,878.61 371,944.08 445.8,1006.57 520.6,1065.92 595.39,1121.95 670.19,1174.5 744.99,1223.37" stroke="#481b6d"/>
<polyline points="146.61,740.93 221.41,811.26 296.21,879.08 371,944.25 445.8,1006.58 520.6,1065.9 595.39,1122.04 670.19,1174.82 744.99,1224.08" stroke="#34608d"/>
<polyline points="146.61,741.61 221.41,811.76 296.21,879.48 371,944.6 445.8,1006.96 520.6,1066.37 595.39,1122.67 670.19,1175.68 744.99,1225.23" stroke="#472e7c"/>
<polyline points="146.61,738.31 221.41,809.42 296.21,878.04 371,944.01 445.8,1007.16 520.6,1067.31 595.39,1124.28 670.19,1177.91 744.99,1228.02" stroke="#1e9c89"/>
<polyline points="146.61,739.64 221.41,810.53 296.21,878.86 371,944.48 445.8,1007.19 520.6,1066.83 595.39,1123.23 670.19,1176.21 744.99,1225.6" stroke="#404588"/>
<polyline points="146.61,740.62 221.41,811.03 296.21,879.02 371,944.44 445.8,1007.11 520.6,1066.85 595.39,1123.49 670.19,1176.85 744.99,1226.78" stroke="#472f7d"/>
<polyline points="146.61,742.01 221.41,812.02 296.21,879.64 371,944.7 445.8,1007.04 520.6,1066.46 595.39,1122.81 670.19,1175.91 744.99,1225.58" stroke="#2f6c8e"/>
<polyline points="146.61,739.85 221.41,810.89 296.21,879.3 371,944.89 445.8,1007.51 520.6,1066.97 595.39,1123.11 670.19,1175.74 744.99,1224.7" stroke="#3a548c"/>
<polyline points="146.61,741.28 221.41,811.49 296.21,879.25 371,944.38 445.8,1006.73 520.6,1066.11 595.39,1122.36 670.19,1175.29 744.99,1224.73" stroke="#482071"/>
<polyline points="146.61,741.32 221.41,811.39 296.21,879.08 371,944.24 445.8,1006.68 520.6,1066.24 595.39,1122.75 670.19,1176.01 744.99,1225.88" stroke="#3b528b"/>
<polyline points="146.61,737.51 221.41,809.18 296.21,878.16 371,944.28 445.8,1007.38 520.6,1067.27 595.39,1123.79 670.19,1176.76 744.99,1226.01" stroke="#33638d"/>
<polyline points="146.61,737.65 221.41,809.51 296.21,878.48 371,944.4 445.8,1007.09 520.6,1066.38 595.39,1122.09 670.19,1174.04 744.99,1222.08" stroke="#481c6e"/>
<polyline points="146.61,738.99 221.41,809.94 296.21,878.28 371,943.84 445.8,1006.43 520.6,1065.9 595.39,1122.06 670.19,1174.74 744.99,1223.77" stroke="#2b748e"/>
<polyline points="146.61,736.25 221.41,808.29 296.21,877.52 371,943.77 445.8,1006.87 520.6,1066.65 595.39,1122.92 670.19,1175.52 744.99,1224.28" stroke="#25848e"/>
<polyline points="146.61,740.56 221.41,810.91 296.21,878.8 371,944.06 445.8,1006.52 520.6,1065.99 595.39,1122.32 670.19,1175.31 744.99,1224.81" stroke="#375b8d"/>
<polyline points="146.61,742.68 221.41,812.01 296.21,879.14 371,943.91 445.8,1006.15 520.6,1065.68 595.39,1122.33 670.19,1175.92 744.99,1226.28" stroke="#355e8d"/>
<polyline points="146.61,739.65 221.41,810.75 296.21,879.13 371,944.61 445.8,1007.04 520.6,1066.23 595.39,1122 670.19,1174.19 744.99,1222.63" stroke="#30698e"/>
<polyline points="146.61,743.38 221.41,813 296.21,880.14 371,944.62 445.8,1006.29 520.6,1064.95 595.39,1120.45 670.19,1172.6 744.99,1221.23" stroke="#472a7a"/>
<polyline points="146.61,740.36 221.41,810.73 296.21,878.57 371,943.73 445.8,1006.02 520.6,1065.27 595.39,1121.31 670.19,1173.97 744.99,1223.07" stroke="#86d549"/>
<polyline points="146.61,744.35 221.41,813.07 296.21,879.6 371,943.79 445.8,1005.45 520.6,1064.43 595.39,1120.53 670.19,1173.6 744.99,1223.45" stroke="#dfe318"/>
<polyline points="146.61,739.51 221.41,810.5 296.21,878.88 371,944.51 445.8,1007.19 520.6,1066.77 595.39,1123.06 670.19,1175.89 744.99,1225.09" stroke="#3a548c"/>
<polyline points="146.61,739.24 221.41,810.25 296.21,878.65 371,944.29 445.8,1006.99 520.6,1066.57 595.39,1122.86 670.19,1175.69 744.99,1224.89" stroke="#443983"/>
<polyline points="146.61,737.54 221.41,809.38 296.21,878.46 371,944.58 445.8,1007.59 520.6,1067.31 595.39,1123.57 670.19,1176.18 744.99,1224.99" stroke="#32648e"/>
<polyline points="146.61,739.68 221.41,810.61 296.21,878.89 371,944.34 445.8,1006.8 520.6,1066.09 595.39,1122.04 670.19,1174.48 744.99,1223.23" stroke="#355e8d"/>
<polyline points="146.61,741.32 221.41,811.33 296.21,879.02 371,944.23 445.8,1006.77 520.6,1066.48 595.39,1123.19 670.19,1176.71 744.99,1226.87" stroke="#482173"/>
<polyline points="146.61,743.99 221.41,813.32 296.21,880.31 371,944.8 445.8,1006.61 520.6,1065.58 595.39,1121.52 670.19,1174.27 744.99,1223.65" stroke="#355f8d"/>
<polyline points="146.61,741.41 221.41,811.58 296.21,879.34 371,944.51 445.8,1006.92 520.6,1066.39 595.39,1122.75 670.19,1175.83 744.99,1225.45" stroke="#3b518b"/>
<polyline points="146.61,742.74 221.41,812.48 296.21,879.84 371,944.63 445.8,1006.68 520.6,1065.83 595.39,1121.88 670.19,1174.68 744.99,1224.05" stroke="#482071"/>
<polyline points="146.61,738.48 221.41,809.59 296.21,878.09 371,943.81 445.8,1006.58 520.6,1066.23 595.39,1122.59 670.19,1175.47 744.99,1224.71" stroke="#1e9b8a"/>
<polyline points="146.61,741.84 221.41,811.61 296.21,879.08 371,944.06 445.8,1006.39 520.6,1065.89 595.39,1122.38 670.19,1175.71 744.99,1225.68" stroke="#482576"/>
<polyline points="146.61,738.31 221.41,809.53 296.21,878.09 371,943.84 445.8,1006.6 520.6,1066.2 595.39,1122.46 670.19,1175.21 744.99,1224.27" stroke="#481c6e"/>
<polyline points="146.61,741.12 221.41,811.46 296.21,879.35 371,944.63 445.8,1007.11 520.6,1066.63 595.39,1123.01 670.19,1176.08 744.99,1225.66" stroke="#481f70"/>
<polyline points="146.61,740.66 221.41,811.31 296.21,879.32 371,944.54 445.8,1006.78 520.6,1065.88 595.39,1121.65 670.19,1173.93 744.99,1222.53" stroke="#355e8d"/>
<polyline points="146.61,741.23 221.41,811.26 296.21,879.04 371,944.41 445.8,1007.19 520.6,1067.2 595.39,1124.27 670.19,1178.24 744.99,1228.91" stroke="#2fb47c"/>
<polyline points="146.61,737.57 221.41,808.92 296.21,877.63 371,943.52 445.8,1006.42 520.6,1066.16 595.39,1122.57 670.19,1175.46 744.99,1224.68" stroke="#482677"/>
<polyline points="146.61,739.97 221.41,810.7 296.21,878.89 371,944.37 445.8,1006.95 520.6,1066.48 595.39,1122.77 670.19,1175.65 744.99,1224.95" stroke="#453781"/>
<polyline points="146.61,739.41 221.41,810.42 296.21,878.92 371,944.72 445.8,1007.67 520.6,1067.58 595.39,1124.28 670.19,1177.6 744.99,1227.36" stroke="#277e8e"/>
<polyline points="146.61,738.51 221.41,809.9 296.21,878.61 371,944.46 445.8,1007.28 520.6,1066.89 595.39,1123.13 670.19,1175.82 744.99,1224.79" stroke="#2e6d8e"/>
</g>
<polyline points="146.61,740.43 161.95,755.09 177.3,769.65 192.64,784.11 207.98,798.47 223.33,812.72 238.67,826.86 254.01,840.9 269.35,854.84 284.7,868.66 300.04,882.37 315.38,895.96 330.73,909.45 346.07,922.81 361.41,936.06 376.76,949.19 392.1,962.2 407.44,975.09 422.79,987.85 438.13,1000.49 453.47,1013.01 468.81,1025.39 484.16,1037.65 499.5,1049.77 514.84,1061.76 530.19,1073.62 545.53,1085.34 560.87,1096.93 576.22,1108.38 591.56,1119.68 606.9,1130.85 622.25,1141.87 637.59,1152.75 652.93,1163.49 668.27,1174.07 683.62,1184.51 698.96,1194.79 714.3,1204.93 729.65,1214.91 744.99,1224.73" fill="none" stroke="#000" stroke-width="3.8"/>
<g fill="#f00" fill-opacity="0.85">
<circle cx="175.4" cy="771.1" r="7.7"/>
<circle cx="198.9" cy="783.9" r="7.7"/>
<circle cx="210.8" cy="797.7" r="7.7"/>
<circle cx="233.6" cy="822" r="7.7"/>
<circle cx="245.5" cy="832.4" r="7.7"/>
<circle cx="250.9" cy="839.5" r="7.7"/>
<circle cx="270.5" cy="855.4" r="7.7"/>
<circle cx="282.6" cy="867.2" r="7.7"/>
<circle cx="282.6" cy="871.1" r="7.7"/>
<circle cx="383.3" cy="956.9" r="7.7"/>
<circle cx="427" cy="1000.3" r="7.7"/>
<circle cx="458.7" cy="1014.2" r="7.7"/>
<circle cx="464.5" cy="1024.1" r="7.7"/>
<circle cx="502.3" cy="1054.2" r="7.7"/>
<circle cx="530.3" cy="1076.1" r="7.7"/>
<circle cx="532.5" cy="1074.2" r="7.7"/>
<circle cx="555.5" cy="1083.8" r="7.7"/>
<circle cx="572.4" cy="1107.5" r="7.7"/>
<circle cx="574.8" cy="1109.6" r="7.7"/>
<circle cx="590.2" cy="1110.9" r="7.7"/>
<circle cx="604.5" cy="1131" r="7.7"/>
<circle cx="649.6" cy="1163.4" r="7.7"/>
<circle cx="665.1" cy="1171.7" r="7.7"/>
<circle cx="667.7" cy="1164.5" r="7.7"/>
<circle cx="678.8" cy="1189.6" r="7.7"/>
<circle cx="707.3" cy="1202" r="7.7"/>
<circle cx="716.2" cy="1205.8" r="7.7"/>
<circle cx="315.2" cy="893.2" r="7.7"/>
<circle cx="315.6" cy="894.8" r="7.7"/>
<circle cx="315.9" cy="896.2" r="7.7"/>
<circle cx="316.2" cy="897.3" r="7.7"/>
<circle cx="316.5" cy="895" r="7.7"/>
<circle cx="316.8" cy="898.7" r="7.7"/>
<circle cx="317.1" cy="896.8" r="7.7"/>
<circle cx="317.4" cy="899.9" r="7.7"/>
<circle cx="317.7" cy="896.9" r="7.7"/>
<circle cx="318" cy="898.7" r="7.7"/>
<circle cx="318.6" cy="898.8" r="7.7"/>
<circle cx="352" cy="922.3" r="7.7"/>
<circle cx="352.3" cy="924.1" r="7.7"/>
<circle cx="352.6" cy="928.5" r="7.7"/>
<circle cx="352.9" cy="932.2" r="7.7"/>
<circle cx="353.2" cy="934.1" r="7.7"/>
<circle cx="357.4" cy="927.7" r="7.7"/>
<circle cx="357.4" cy="944.9" r="7.7"/>
<circle cx="352.4" cy="923.5" r="7.7"/>
<circle cx="352.7" cy="932.9" r="7.7"/>
</g>
<g fill="none" stroke="#000" stroke-opacity="0.8" stroke-width="2">
<circle cx="175.4" cy="771.1" r="7.2"/>
<circle cx="198.9" cy="783.9" r="7.2"/>
<circle cx="210.8" cy="797.7" r="7.2"/>
<circle cx="233.6" cy="822" r="7.2"/>
<circle cx="245.5" cy="832.4" r="7.2"/>
<circle cx="250.9" cy="839.5" r="7.2"/>
<circle cx="270.5" cy="855.4" r="7.2"/>
<circle cx="282.6" cy="867.2" r="7.2"/>
<circle cx="282.6" cy="871.1" r="7.2"/>
<circle cx="383.3" cy="956.9" r="7.2"/>
<circle cx="427" cy="1000.3" r="7.2"/>
<circle cx="458.7" cy="1014.2" r="7.2"/>
<circle cx="464.5" cy="1024.1" r="7.2"/>
<circle cx="502.3" cy="1054.2" r="7.2"/>
<circle cx="530.3" cy="1076.1" r="7.2"/>
<circle cx="532.5" cy="1074.2" r="7.2"/>
<circle cx="555.5" cy="1083.8" r="7.2"/>
<circle cx="572.4" cy="1107.5" r="7.2"/>
<circle cx="574.8" cy="1109.6" r="7.2"/>
<circle cx="590.2" cy="1110.9" r="7.2"/>
<circle cx="604.5" cy="1131" r="7.2"/>
<circle cx="649.6" cy="1163.4" r="7.2"/>
<circle cx="665.1" cy="1171.7" r="7.2"/>
<circle cx="667.7" cy="1164.5" r="7.2"/>
<circle cx="678.8" cy="1189.6" r="7.2"/>
<circle cx="707.3" cy="1202" r="7.2"/>
<circle cx="716.2" cy="1205.8" r="7.2"/>
<circle cx="315.2" cy="893.2" r="7.2"/>
<circle cx="315.6" cy="894.8" r="7.2"/>
<circle cx="315.9" cy="896.2" r="7.2"/>
<circle cx="316.2" cy="897.3" r="7.2"/>
<circle cx="316.5" cy="895" r="7.2"/>
<circle cx="316.8" cy="898.7" r="7.2"/>
<circle cx="317.1" cy="896.8" r="7.2"/>
<circle cx="317.4" cy="899.9" r="7.2"/>
<circle cx="317.7" cy="896.9" r="7.2"/>
<circle cx="318" cy="898.7" r="7.2"/>
<circle cx="318.6" cy="898.8" r="7.2"/>
<circle cx="352" cy="922.3" r="7.2"/>
<circle cx="352.3" cy="924.1" r="7.2"/>
<circle cx="352.6" cy="928.5" r="7.2"/>
<circle cx="352.9" cy="932.2" r="7.2"/>
<circle cx="353.2" cy="934.1" r="7.2"/>
<circle cx="357.4" cy="927.7" r="7.2"/>
<circle cx="357.4" cy="944.9" r="7.2"/>
<circle cx="352.4" cy="923.5" r="7.2"/>
<circle cx="352.7" cy="932.9" r="7.2"/>
</g>
</g>
<rect x="148.4" y="727.5" width="594.8" height="522.5" fill="none" stroke="#000" stroke-width="1.6"/>
<path d="M228.08 1250v-7.7M228.08 727.5v7.7M317.57 1250v-7.7M317.57 727.5v7.7M407.06 1250v-7.7M407.06 727.5v7.7M496.55 1250v-7.7M496.55 727.5v7.7M586.04 1250v-7.7M586.04 727.5v7.7M675.53 1250v-7.7M675.53 727.5v7.7" stroke="#000" stroke-width="1.6" fill="none"/>
<path d="M156.49 1250v-4.2M156.49 727.5v4.2M174.39 1250v-4.2M174.39 727.5v4.2M192.28 1250v-4.2M192.28 727.5v4.2M210.18 1250v-4.2M210.18 727.5v4.2M245.98 1250v-4.2M245.98 727.5v4.2M263.88 1250v-4.2M263.88 727.5v4.2M281.77 1250v-4.2M281.77 727.5v4.2M299.67 1250v-4.2M299.67 727.5v4.2M335.47 1250v-4.2M335.47 727.5v4.2M353.37 1250v-4.2M353.37 727.5v4.2M371.26 1250v-4.2M371.26 727.5v4.2M389.16 1250v-4.2M389.16 727.5v4.2M424.96 1250v-4.2M424.96 727.5v4.2M442.86 1250v-4.2M442.86 727.5v4.2M460.75 1250v-4.2M460.75 727.5v4.2M478.65 1250v-4.2M478.65 727.5v4.2M514.45 1250v-4.2M514.45 727.5v4.2M532.35 1250v-4.2M532.35 727.5v4.2M550.24 1250v-4.2M550.24 727.5v4.2M568.14 1250v-4.2M568.14 727.5v4.2M603.94 1250v-4.2M603.94 727.5v4.2M621.84 1250v-4.2M621.84 727.5v4.2M639.73 1250v-4.2M639.73 727.5v4.2M657.63 1250v-4.2M657.63 727.5v4.2M693.43 1250v-4.2M693.43 727.5v4.2M711.33 1250v-4.2M711.33 727.5v4.2M729.22 1250v-4.2M729.22 727.5v4.2" stroke="#000" stroke-width="1.25" fill="none"/>
<path d="M148.4 1179.34h7.7M743.2 1179.34h-7.7M148.4 1070.51h7.7M743.2 1070.51h-7.7M148.4 961.67h7.7M743.2 961.67h-7.7M148.4 852.84h7.7M743.2 852.84h-7.7M148.4 744h7.7M743.2 744h-7.7" stroke="#000" stroke-width="1.6" fill="none"/>
<path d="M148.4 1244.64h4.2M743.2 1244.64h-4.2M148.4 1222.87h4.2M743.2 1222.87h-4.2M148.4 1201.11h4.2M743.2 1201.11h-4.2M148.4 1157.57h4.2M743.2 1157.57h-4.2M148.4 1135.81h4.2M743.2 1135.81h-4.2M148.4 1114.04h4.2M743.2 1114.04h-4.2M148.4 1092.27h4.2M743.2 1092.27h-4.2M148.4 1048.74h4.2M743.2 1048.74h-4.2M148.4 1026.97h4.2M743.2 1026.97h-4.2M148.4 1005.2h4.2M743.2 1005.2h-4.2M148.4 983.44h4.2M743.2 983.44h-4.2M148.4 939.9h4.2M743.2 939.9h-4.2M148.4 918.14h4.2M743.2 918.14h-4.2M148.4 896.37h4.2M743.2 896.37h-4.2M148.4 874.6h4.2M743.2 874.6h-4.2M148.4 831.07h4.2M743.2 831.07h-4.2M148.4 809.3h4.2M743.2 809.3h-4.2M148.4 787.53h4.2M743.2 787.53h-4.2M148.4 765.77h4.2M743.2 765.77h-4.2" stroke="#000" stroke-width="1.25" fill="none"/>
<text x="139.8" y="1188.17" font-size="25.3" text-anchor="end">−1750</text>
<text x="139.8" y="1079.34" font-size="25.3" text-anchor="end">−1700</text>
<text x="139.8" y="970.5" font-size="25.3" text-anchor="end">−1650</text>
<text x="139.8" y="861.67" font-size="25.3" text-anchor="end">−1600</text>
<text x="139.8" y="752.83" font-size="25.3" text-anchor="end">−1550</text>
<g clip-path="url(#clipR)">
<path d="M184.7 1333.4V1362.6M207.8 1301.4V1331M219.5 1310.7V1339.9M242 1325.2V1347.2M253.7 1324.6V1344.2M259 1330.5V1353.5M278.3 1324V1346.6M290.2 1328.3V1348.7M290.2 1342.4V1361.2M389.4 1329.5V1359.1M432.4 1354.2V1381.2M463.6 1312.3V1340.9M469.4 1330.1V1358.7M506.6 1330.5V1358.9M534.2 1333.5V1356.7M536.3 1319.3V1346.5M559 1291.6V1319.8M575.6 1329.7V1358.1M578 1329.7V1359.7M593.1 1296.4V1323.8M607.2 1330V1356.9M651.6 1329V1360.4M666.9 1321.4V1351M669.5 1288.8V1322.2M680.4 1349.5V1382.3M708.5 1330V1355.2M717.2 1321.2V1350.2M322.3 1315.5V1340.5M322.7 1320.5V1344.5M323 1324.8V1347.8M323.3 1328.2V1350.2M323.6 1318.2V1342.2M323.9 1331.2V1353.2M324.2 1323.2V1346.2M324.5 1333V1356M324.8 1321.2V1345.2M325.1 1327.5V1349.5M325.7 1325.5V1348.5M358.6 1306.5V1328.5M358.9 1311.8V1333.8M359.2 1326V1348M359.5 1338V1360M359.7 1343.6V1365.6M363.9 1308.6V1331.6M363.9 1365.4V1393.4M359 1308.5V1332.5M359.3 1341V1363" stroke="#000" stroke-width="3.7" fill="none"/>
<path d="M178 1333.4h13.4M178 1362.6h13.4M201.1 1301.4h13.4M201.1 1331h13.4M212.8 1310.7h13.4M212.8 1339.9h13.4M235.3 1325.2h13.4M235.3 1347.2h13.4M247 1324.6h13.4M247 1344.2h13.4M252.3 1330.5h13.4M252.3 1353.5h13.4M271.6 1324h13.4M271.6 1346.6h13.4M283.5 1328.3h13.4M283.5 1348.7h13.4M283.5 1342.4h13.4M283.5 1361.2h13.4M382.7 1329.5h13.4M382.7 1359.1h13.4M425.7 1354.2h13.4M425.7 1381.2h13.4M456.9 1312.3h13.4M456.9 1340.9h13.4M462.7 1330.1h13.4M462.7 1358.7h13.4M499.9 1330.5h13.4M499.9 1358.9h13.4M527.5 1333.5h13.4M527.5 1356.7h13.4M529.6 1319.3h13.4M529.6 1346.5h13.4M552.3 1291.6h13.4M552.3 1319.8h13.4M568.9 1329.7h13.4M568.9 1358.1h13.4M571.3 1329.7h13.4M571.3 1359.7h13.4M586.4 1296.4h13.4M586.4 1323.8h13.4M600.5 1330h13.4M600.5 1356.9h13.4M644.9 1329h13.4M644.9 1360.4h13.4M660.2 1321.4h13.4M660.2 1351h13.4M662.8 1288.8h13.4M662.8 1322.2h13.4M673.7 1349.5h13.4M673.7 1382.3h13.4M701.8 1330h13.4M701.8 1355.2h13.4M710.5 1321.2h13.4M710.5 1350.2h13.4M315.6 1315.5h13.4M315.6 1340.5h13.4M316 1320.5h13.4M316 1344.5h13.4M316.3 1324.8h13.4M316.3 1347.8h13.4M316.6 1328.2h13.4M316.6 1350.2h13.4M316.9 1318.2h13.4M316.9 1342.2h13.4M317.2 1331.2h13.4M317.2 1353.2h13.4M317.5 1323.2h13.4M317.5 1346.2h13.4M317.8 1333h13.4M317.8 1356h13.4M318.1 1321.2h13.4M318.1 1345.2h13.4M318.4 1327.5h13.4M318.4 1349.5h13.4M319 1325.5h13.4M319 1348.5h13.4M351.9 1306.5h13.4M351.9 1328.5h13.4M352.2 1311.8h13.4M352.2 1333.8h13.4M352.5 1326h13.4M352.5 1348h13.4M352.8 1338h13.4M352.8 1360h13.4M353 1343.6h13.4M353 1365.6h13.4M357.2 1308.6h13.4M357.2 1331.6h13.4M357.2 1365.4h13.4M357.2 1393.4h13.4M352.3 1308.5h13.4M352.3 1332.5h13.4M352.6 1341h13.4M352.6 1363h13.4" stroke="#000" stroke-width="2.1" fill="none"/>
<g stroke-width="3" stroke-opacity="0.31" fill="none">
<polyline points="146.64,1342.49 192.66,1340.25 238.69,1338.37 284.71,1336.86 330.74,1335.71 376.76,1334.93 422.79,1334.51 468.81,1334.46 514.84,1334.77 560.86,1335.44 606.89,1336.48 652.91,1337.88 698.94,1339.65 744.96,1341.78" stroke="#48186a"/>
<polyline points="146.64,1345.34 192.66,1343.21 238.69,1341.36 284.71,1339.8 330.74,1338.51 376.76,1337.51 422.79,1336.79 468.81,1336.36 514.84,1336.2 560.86,1336.33 606.89,1336.74 652.91,1337.43 698.94,1338.41 744.96,1339.66" stroke="#404688"/>
<polyline points="146.64,1333.13 192.66,1334.7 238.69,1335.98 284.71,1336.99 330.74,1337.72 376.76,1338.18 422.79,1338.35 468.81,1338.24 514.84,1337.86 560.86,1337.19 606.89,1336.25 652.91,1335.02 698.94,1333.52 744.96,1331.74" stroke="#46337f"/>
<polyline points="146.64,1333.41 192.66,1333.43 238.69,1333.48 284.71,1333.56 330.74,1333.66 376.76,1333.8 422.79,1333.96 468.81,1334.15 514.84,1334.37 560.86,1334.62 606.89,1334.89 652.91,1335.2 698.94,1335.53 744.96,1335.89" stroke="#355f8d"/>
<polyline points="146.64,1344.06 192.66,1342.44 238.69,1340.98 284.71,1339.69 330.74,1338.57 376.76,1337.62 422.79,1336.83 468.81,1336.22 514.84,1335.77 560.86,1335.49 606.89,1335.38 652.91,1335.44 698.94,1335.67 744.96,1336.07" stroke="#29798e"/>
<polyline points="146.64,1329.65 192.66,1331.37 238.69,1332.89 284.71,1334.23 330.74,1335.38 376.76,1336.34 422.79,1337.11 468.81,1337.69 514.84,1338.07 560.86,1338.27 606.89,1338.28 652.91,1338.09 698.94,1337.72 744.96,1337.16" stroke="#2d718e"/>
<polyline points="146.64,1333.2 192.66,1334.71 238.69,1336.02 284.71,1337.12 330.74,1338.01 376.76,1338.69 422.79,1339.16 468.81,1339.42 514.84,1339.48 560.86,1339.32 606.89,1338.96 652.91,1338.39 698.94,1337.6 744.96,1336.61" stroke="#1e9b8a"/>
<polyline points="146.64,1329.34 192.66,1332 238.69,1334.27 284.71,1336.16 330.74,1337.65 376.76,1338.75 422.79,1339.47 468.81,1339.8 514.84,1339.74 560.86,1339.29 606.89,1338.45 652.91,1337.22 698.94,1335.61 744.96,1333.6" stroke="#2c718e"/>
<polyline points="146.64,1338.83 192.66,1337.55 238.69,1336.55 284.71,1335.82 330.74,1335.37 376.76,1335.2 422.79,1335.31 468.81,1335.7 514.84,1336.37 560.86,1337.31 606.89,1338.53 652.91,1340.04 698.94,1341.81 744.96,1343.87" stroke="#39558c"/>
<polyline points="146.64,1334.23 192.66,1334.3 238.69,1334.38 284.71,1334.46 330.74,1334.55 376.76,1334.64 422.79,1334.73 468.81,1334.83 514.84,1334.94 560.86,1335.04 606.89,1335.16 652.91,1335.27 698.94,1335.4 744.96,1335.52" stroke="#7ad151"/>
<polyline points="146.64,1336.14 192.66,1336.06 238.69,1336.04 284.71,1336.06 330.74,1336.13 376.76,1336.25 422.79,1336.42 468.81,1336.64 514.84,1336.91 560.86,1337.23 606.89,1337.59 652.91,1338 698.94,1338.47 744.96,1338.98" stroke="#443b84"/>
<polyline points="146.64,1327.32 192.66,1329.86 238.69,1332.07 284.71,1333.93 330.74,1335.44 376.76,1336.61 422.79,1337.44 468.81,1337.93 514.84,1338.07 560.86,1337.87 606.89,1337.32 652.91,1336.43 698.94,1335.19 744.96,1333.62" stroke="#277e8e"/>
<polyline points="146.64,1331.46 192.66,1332.87 238.69,1334.14 284.71,1335.27 330.74,1336.27 376.76,1337.13 422.79,1337.86 468.81,1338.46 514.84,1338.92 560.86,1339.24 606.89,1339.43 652.91,1339.49 698.94,1339.41 744.96,1339.19" stroke="#472f7d"/>
<polyline points="146.64,1336.8 192.66,1336.42 238.69,1336.01 284.71,1335.55 330.74,1335.06 376.76,1334.53 422.79,1333.97 468.81,1333.37 514.84,1332.74 560.86,1332.06 606.89,1331.35 652.91,1330.61 698.94,1329.83 744.96,1329.01" stroke="#3b528b"/>
<polyline points="146.64,1331.14 192.66,1332.12 238.69,1332.95 284.71,1333.65 330.74,1334.2 376.76,1334.61 422.79,1334.87 468.81,1335 514.84,1334.99 560.86,1334.83 606.89,1334.53 652.91,1334.1 698.94,1333.52 744.96,1332.79" stroke="#46327e"/>
<polyline points="146.64,1337.6 192.66,1337.25 238.69,1336.96 284.71,1336.75 330.74,1336.61 376.76,1336.54 422.79,1336.54 468.81,1336.61 514.84,1336.75 560.86,1336.96 606.89,1337.24 652.91,1337.59 698.94,1338.01 744.96,1338.5" stroke="#453581"/>
<polyline points="146.64,1337.45 192.66,1338.17 238.69,1338.71 284.71,1339.08 330.74,1339.27 376.76,1339.28 422.79,1339.11 468.81,1338.77 514.84,1338.26 560.86,1337.56 606.89,1336.7 652.91,1335.65 698.94,1334.43 744.96,1333.03" stroke="#481c6e"/>
<polyline points="146.64,1340.87 192.66,1339.71 238.69,1338.66 284.71,1337.71 330.74,1336.86 376.76,1336.12 422.79,1335.49 468.81,1334.96 514.84,1334.54 560.86,1334.22 606.89,1334.01 652.91,1333.9 698.94,1333.9 744.96,1334.01" stroke="#2b748e"/>
<polyline points="146.64,1339.23 192.66,1339.28 238.69,1339.28 284.71,1339.21 330.74,1339.1 376.76,1338.93 422.79,1338.7 468.81,1338.42 514.84,1338.08 560.86,1337.68 606.89,1337.23 652.91,1336.73 698.94,1336.17 744.96,1335.55" stroke="#481c6e"/>
<polyline points="146.64,1330.13 192.66,1331.29 238.69,1332.46 284.71,1333.64 330.74,1334.83 376.76,1336.03 422.79,1337.24 468.81,1338.47 514.84,1339.7 560.86,1340.95 606.89,1342.21 652.91,1343.48 698.94,1344.76 744.96,1346.05" stroke="#482878"/>
<polyline points="146.64,1319.6 192.66,1323.16 238.69,1326.39 284.71,1329.3 330.74,1331.89 376.76,1334.16 422.79,1336.11 468.81,1337.73 514.84,1339.04 560.86,1340.02 606.89,1340.68 652.91,1341.02 698.94,1341.04 744.96,1340.73" stroke="#21918c"/>
<polyline points="146.64,1330.76 192.66,1332.15 238.69,1333.36 284.71,1334.39 330.74,1335.24 376.76,1335.9 422.79,1336.38 468.81,1336.68 514.84,1336.79 560.86,1336.72 606.89,1336.47 652.91,1336.04 698.94,1335.42 744.96,1334.62" stroke="#25ab82"/>
<polyline points="146.64,1335.55 192.66,1335.28 238.69,1335.13 284.71,1335.1 330.74,1335.19 376.76,1335.4 422.79,1335.73 468.81,1336.18 514.84,1336.75 560.86,1337.45 606.89,1338.26 652.91,1339.19 698.94,1340.25 744.96,1341.42" stroke="#46327e"/>
<polyline points="146.64,1333.57 192.66,1334.69 238.69,1335.61 284.71,1336.34 330.74,1336.87 376.76,1337.21 422.79,1337.35 468.81,1337.31 514.84,1337.06 560.86,1336.63 606.89,1336 652.91,1335.18 698.94,1334.16 744.96,1332.95" stroke="#3d4e8a"/>
<polyline points="146.64,1336.78 192.66,1338.01 238.69,1339.05 284.71,1339.88 330.74,1340.51 376.76,1340.94 422.79,1341.17 468.81,1341.19 514.84,1341.02 560.86,1340.65 606.89,1340.07 652.91,1339.3 698.94,1338.33 744.96,1337.15" stroke="#433e85"/>
<polyline points="146.64,1334.7 192.66,1335.78 238.69,1336.51 284.71,1336.9 330.74,1336.94 376.76,1336.64 422.79,1336 468.81,1335.01 514.84,1333.69 560.86,1332.01 606.89,1330 652.91,1327.64 698.94,1324.93 744.96,1321.89" stroke="#44bf70"/>
<polyline points="146.64,1333.48 192.66,1334.37 238.69,1335.09 284.71,1335.65 330.74,1336.05 376.76,1336.29 422.79,1336.36 468.81,1336.27 514.84,1336.02 560.86,1335.61 606.89,1335.03 652.91,1334.29 698.94,1333.39 744.96,1332.33" stroke="#481b6d"/>
<polyline points="146.64,1338.83 192.66,1338.41 238.69,1338.01 284.71,1337.62 330.74,1337.25 376.76,1336.9 422.79,1336.56 468.81,1336.25 514.84,1335.95 560.86,1335.67 606.89,1335.41 652.91,1335.16 698.94,1334.94 744.96,1334.73" stroke="#34608d"/>
<polyline points="146.64,1341.26 192.66,1340.42 238.69,1339.68 284.71,1339.05 330.74,1338.53 376.76,1338.11 422.79,1337.81 468.81,1337.61 514.84,1337.52 560.86,1337.54 606.89,1337.67 652.91,1337.9 698.94,1338.25 744.96,1338.7" stroke="#472e7c"/>
<polyline points="146.64,1329.45 192.66,1330.71 238.69,1331.99 284.71,1333.31 330.74,1334.67 376.76,1336.05 422.79,1337.47 468.81,1338.92 514.84,1340.4 560.86,1341.92 606.89,1343.47 652.91,1345.05 698.94,1346.66 744.96,1348.31" stroke="#1e9c89"/>
<polyline points="146.64,1334.1 192.66,1334.94 238.69,1335.72 284.71,1336.43 330.74,1337.08 376.76,1337.66 422.79,1338.18 468.81,1338.63 514.84,1339.02 560.86,1339.34 606.89,1339.6 652.91,1339.8 698.94,1339.92 744.96,1339.99" stroke="#404588"/>
<polyline points="146.64,1337.74 192.66,1337.44 238.69,1337.27 284.71,1337.23 330.74,1337.32 376.76,1337.54 422.79,1337.9 468.81,1338.38 514.84,1338.99 560.86,1339.74 606.89,1340.61 652.91,1341.61 698.94,1342.75 744.96,1344.02" stroke="#472f7d"/>
<polyline points="146.64,1342.7 192.66,1341.54 238.69,1340.53 284.71,1339.68 330.74,1338.99 376.76,1338.46 422.79,1338.09 468.81,1337.87 514.84,1337.82 560.86,1337.92 606.89,1338.18 652.91,1338.6 698.94,1339.17 744.96,1339.91" stroke="#2f6c8e"/>
<polyline points="146.64,1334.74 192.66,1335.97 238.69,1337.02 284.71,1337.89 330.74,1338.59 376.76,1339.11 422.79,1339.45 468.81,1339.61 514.84,1339.6 560.86,1339.41 606.89,1339.05 652.91,1338.51 698.94,1337.79 744.96,1336.89" stroke="#3a548c"/>
<polyline points="146.64,1340.1 192.66,1339.4 238.69,1338.77 284.71,1338.22 330.74,1337.75 376.76,1337.36 422.79,1337.04 468.81,1336.8 514.84,1336.64 560.86,1336.55 606.89,1336.54 652.91,1336.61 698.94,1336.76 744.96,1336.98" stroke="#482071"/>
<polyline points="146.64,1340.33 192.66,1339.26 238.69,1338.38 284.71,1337.69 330.74,1337.18 376.76,1336.85 422.79,1336.71 468.81,1336.76 514.84,1336.99 560.86,1337.41 606.89,1338.01 652.91,1338.79 698.94,1339.77 744.96,1340.92" stroke="#3b528b"/>
<polyline points="146.64,1326.39 192.66,1328.99 238.69,1331.35 284.71,1333.47 330.74,1335.35 376.76,1336.98 422.79,1338.38 468.81,1339.53 514.84,1340.45 560.86,1341.12 606.89,1341.55 652.91,1341.74 698.94,1341.69 744.96,1341.39" stroke="#33638d"/>
<polyline points="146.64,1326.7 192.66,1329.87 238.69,1332.52 284.71,1334.66 330.74,1336.29 376.76,1337.4 422.79,1338.01 468.81,1338.1 514.84,1337.68 560.86,1336.74 606.89,1335.3 652.91,1333.34 698.94,1330.87 744.96,1327.89" stroke="#481c6e"/>
<polyline points="146.64,1331.8 192.66,1332.83 238.69,1333.71 284.71,1334.44 330.74,1335.02 376.76,1335.46 422.79,1335.75 468.81,1335.9 514.84,1335.9 560.86,1335.75 606.89,1335.46 652.91,1335.01 698.94,1334.43 744.96,1333.69" stroke="#2b748e"/>
<polyline points="146.64,1321.85 192.66,1325.34 238.69,1328.43 284.71,1331.1 330.74,1333.37 376.76,1335.23 422.79,1336.68 468.81,1337.73 514.84,1338.37 560.86,1338.6 606.89,1338.42 652.91,1337.84 698.94,1336.84 744.96,1335.44" stroke="#25848e"/>
<polyline points="146.64,1337.53 192.66,1337.15 238.69,1336.84 284.71,1336.58 330.74,1336.38 376.76,1336.24 422.79,1336.16 468.81,1336.14 514.84,1336.18 560.86,1336.28 606.89,1336.44 652.91,1336.65 698.94,1336.92 744.96,1337.26" stroke="#375b8d"/>
<polyline points="146.64,1345.37 192.66,1342.6 238.69,1340.25 284.71,1338.33 330.74,1336.83 376.76,1335.75 422.79,1335.09 468.81,1334.85 514.84,1335.04 560.86,1335.65 606.89,1336.68 652.91,1338.13 698.94,1340.01 744.96,1342.3" stroke="#355e8d"/>
<polyline points="146.64,1333.99 192.66,1335.4 238.69,1336.52 284.71,1337.35 330.74,1337.89 376.76,1338.14 422.79,1338.1 468.81,1337.78 514.84,1337.17 560.86,1336.27 606.89,1335.08 652.91,1333.6 698.94,1331.83 744.96,1329.78" stroke="#30698e"/>
<polyline points="146.64,1347.58 192.66,1345.63 238.69,1343.72 284.71,1341.85 330.74,1340 376.76,1338.19 422.79,1336.42 468.81,1334.68 514.84,1332.97 560.86,1331.3 606.89,1329.66 652.91,1328.05 698.94,1326.48 744.96,1324.95" stroke="#472a7a"/>
<polyline points="146.64,1336.83 192.66,1336.52 238.69,1336.19 284.71,1335.85 330.74,1335.48 376.76,1335.09 422.79,1334.68 468.81,1334.26 514.84,1333.81 560.86,1333.34 606.89,1332.85 652.91,1332.34 698.94,1331.81 744.96,1331.26" stroke="#86d549"/>
<polyline points="146.64,1351.42 192.66,1347.32 238.69,1343.66 284.71,1340.43 330.74,1337.66 376.76,1335.32 422.79,1333.42 468.81,1331.97 514.84,1330.96 560.86,1330.4 606.89,1330.27 652.91,1330.59 698.94,1331.35 744.96,1332.55" stroke="#dfe318"/>
<polyline points="146.64,1333.62 192.66,1334.68 238.69,1335.63 284.71,1336.46 330.74,1337.17 376.76,1337.77 422.79,1338.24 468.81,1338.6 514.84,1338.83 560.86,1338.95 606.89,1338.95 652.91,1338.84 698.94,1338.6 744.96,1338.25" stroke="#3a548c"/>
<polyline points="146.64,1332.67 192.66,1333.79 238.69,1334.79 284.71,1335.66 330.74,1336.41 376.76,1337.03 422.79,1337.53 468.81,1337.91 514.84,1338.15 560.86,1338.28 606.89,1338.28 652.91,1338.15 698.94,1337.91 744.96,1337.53" stroke="#443983"/>
<polyline points="146.64,1326.37 192.66,1329.42 238.69,1332.11 284.71,1334.44 330.74,1336.41 376.76,1338.02 422.79,1339.27 468.81,1340.15 514.84,1340.68 560.86,1340.84 606.89,1340.64 652.91,1340.09 698.94,1339.17 744.96,1337.89" stroke="#32648e"/>
<polyline points="146.64,1334.21 192.66,1335.2 238.69,1335.99 284.71,1336.59 330.74,1337 376.76,1337.2 422.79,1337.21 468.81,1337.03 514.84,1336.65 560.86,1336.08 606.89,1335.31 652.91,1334.34 698.94,1333.18 744.96,1331.83" stroke="#355e8d"/>
<polyline points="146.64,1340.34 192.66,1339.12 238.69,1338.16 284.71,1337.46 330.74,1337.01 376.76,1336.81 422.79,1336.86 468.81,1337.17 514.84,1337.73 560.86,1338.55 606.89,1339.62 652.91,1340.94 698.94,1342.52 744.96,1344.35" stroke="#482173"/>
<polyline points="146.64,1349.86 192.66,1347.18 238.69,1344.73 284.71,1342.52 330.74,1340.54 376.76,1338.79 422.79,1337.28 468.81,1336 514.84,1334.96 560.86,1334.15 606.89,1333.57 652.91,1333.24 698.94,1333.13 744.96,1333.26" stroke="#355f8d"/>
<polyline points="146.64,1340.54 192.66,1339.76 238.69,1339.1 284.71,1338.55 330.74,1338.11 376.76,1337.8 422.79,1337.6 468.81,1337.51 514.84,1337.55 560.86,1337.7 606.89,1337.96 652.91,1338.34 698.94,1338.84 744.96,1339.46" stroke="#3b518b"/>
<polyline points="146.64,1345.32 192.66,1343.6 238.69,1342.03 284.71,1340.61 330.74,1339.33 376.76,1338.21 422.79,1337.24 468.81,1336.42 514.84,1335.74 560.86,1335.22 606.89,1334.85 652.91,1334.63 698.94,1334.56 744.96,1334.63" stroke="#482071"/>
<polyline points="146.64,1330 192.66,1331.34 238.69,1332.55 284.71,1333.63 330.74,1334.57 376.76,1335.37 422.79,1336.04 468.81,1336.57 514.84,1336.96 560.86,1337.22 606.89,1337.35 652.91,1337.34 698.94,1337.19 744.96,1336.91" stroke="#1e9b8a"/>
<polyline points="146.64,1342.25 192.66,1340.52 238.69,1339.05 284.71,1337.85 330.74,1336.91 376.76,1336.23 422.79,1335.82 468.81,1335.66 514.84,1335.77 560.86,1336.14 606.89,1336.78 652.91,1337.67 698.94,1338.83 744.96,1340.25" stroke="#482576"/>
<polyline points="146.64,1329.35 192.66,1330.95 238.69,1332.37 284.71,1333.6 330.74,1334.64 376.76,1335.48 422.79,1336.14 468.81,1336.61 514.84,1336.88 560.86,1336.97 606.89,1336.86 652.91,1336.57 698.94,1336.08 744.96,1335.4" stroke="#481c6e"/>
<polyline points="146.64,1339.47 192.66,1339.06 238.69,1338.73 284.71,1338.48 330.74,1338.3 376.76,1338.2 422.79,1338.18 468.81,1338.24 514.84,1338.37 560.86,1338.58 606.89,1338.87 652.91,1339.23 698.94,1339.68 744.96,1340.2" stroke="#481f70"/>
<polyline points="146.64,1337.7 192.66,1338.07 238.69,1338.28 284.71,1338.32 330.74,1338.19 376.76,1337.89 422.79,1337.43 468.81,1336.79 514.84,1335.99 560.86,1335.02 606.89,1333.88 652.91,1332.57 698.94,1331.09 744.96,1329.44" stroke="#355e8d"/>
<polyline points="146.64,1340.06 192.66,1338.84 238.69,1337.96 284.71,1337.44 330.74,1337.27 376.76,1337.44 422.79,1337.96 468.81,1338.83 514.84,1340.05 560.86,1341.61 606.89,1343.53 652.91,1345.79 698.94,1348.4 744.96,1351.36" stroke="#2fb47c"/>
<polyline points="146.64,1326.73 192.66,1328.63 238.69,1330.34 284.71,1331.87 330.74,1333.21 376.76,1334.36 422.79,1335.32 468.81,1336.09 514.84,1336.68 560.86,1337.08 606.89,1337.3 652.91,1337.32 698.94,1337.16 744.96,1336.81" stroke="#482677"/>
<polyline points="146.64,1335.3 192.66,1335.8 238.69,1336.25 284.71,1336.65 330.74,1337 376.76,1337.29 422.79,1337.53 468.81,1337.72 514.84,1337.86 560.86,1337.94 606.89,1337.97 652.91,1337.95 698.94,1337.87 744.96,1337.74" stroke="#453781"/>
<polyline points="146.64,1333.25 192.66,1334.33 238.69,1335.4 284.71,1336.45 330.74,1337.49 376.76,1338.51 422.79,1339.51 468.81,1340.49 514.84,1341.46 560.86,1342.41 606.89,1343.34 652.91,1344.25 698.94,1345.15 744.96,1346.03" stroke="#277e8e"/>
<polyline points="146.64,1329.96 192.66,1331.97 238.69,1333.74 284.71,1335.27 330.74,1336.55 376.76,1337.59 422.79,1338.39 468.81,1338.95 514.84,1339.26 560.86,1339.33 606.89,1339.17 652.91,1338.76 698.94,1338.1 744.96,1337.21" stroke="#2e6d8e"/>
</g>
<line x1="148.2" y1="1337" x2="745.2" y2="1337" stroke="#000" stroke-width="3.6" stroke-dasharray="16.4 16.52"/>
<g fill="#f00">
<circle cx="184.7" cy="1348" r="7.6"/>
<circle cx="207.8" cy="1316.2" r="7.6"/>
<circle cx="219.5" cy="1325.3" r="7.6"/>
<circle cx="242" cy="1336.2" r="7.6"/>
<circle cx="253.7" cy="1334.4" r="7.6"/>
<circle cx="259" cy="1342" r="7.6"/>
<circle cx="278.3" cy="1335.3" r="7.6"/>
<circle cx="290.2" cy="1338.5" r="7.6"/>
<circle cx="290.2" cy="1351.8" r="7.6"/>
<circle cx="389.4" cy="1344.3" r="7.6"/>
<circle cx="432.4" cy="1367.8" r="7.6"/>
<circle cx="463.6" cy="1326.6" r="7.6"/>
<circle cx="469.4" cy="1344.4" r="7.6"/>
<circle cx="506.6" cy="1344.7" r="7.6"/>
<circle cx="534.2" cy="1345.1" r="7.6"/>
<circle cx="536.3" cy="1332.9" r="7.6"/>
<circle cx="559" cy="1305.7" r="7.6"/>
<circle cx="575.6" cy="1343.9" r="7.6"/>
<circle cx="578" cy="1344.7" r="7.6"/>
<circle cx="593.1" cy="1310.1" r="7.6"/>
<circle cx="607.2" cy="1343.5" r="7.6"/>
<circle cx="651.6" cy="1344.7" r="7.6"/>
<circle cx="666.9" cy="1336.2" r="7.6"/>
<circle cx="669.5" cy="1305.5" r="7.6"/>
<circle cx="680.4" cy="1365.9" r="7.6"/>
<circle cx="708.5" cy="1342.6" r="7.6"/>
<circle cx="717.2" cy="1335.7" r="7.6"/>
<circle cx="322.3" cy="1328" r="7.6"/>
<circle cx="322.7" cy="1332.5" r="7.6"/>
<circle cx="323" cy="1336.2" r="7.6"/>
<circle cx="323.3" cy="1339.2" r="7.6"/>
<circle cx="323.6" cy="1330.2" r="7.6"/>
<circle cx="323.9" cy="1342.2" r="7.6"/>
<circle cx="324.2" cy="1334.8" r="7.6"/>
<circle cx="324.5" cy="1344.5" r="7.6"/>
<circle cx="324.8" cy="1333.2" r="7.6"/>
<circle cx="325.1" cy="1338.5" r="7.6"/>
<circle cx="325.7" cy="1337" r="7.6"/>
<circle cx="358.6" cy="1317.5" r="7.6"/>
<circle cx="358.9" cy="1322.8" r="7.6"/>
<circle cx="359.2" cy="1337" r="7.6"/>
<circle cx="359.5" cy="1349" r="7.6"/>
<circle cx="359.7" cy="1354.6" r="7.6"/>
<circle cx="363.9" cy="1320.1" r="7.6"/>
<circle cx="363.9" cy="1379.4" r="7.6"/>
<circle cx="359" cy="1320.5" r="7.6"/>
<circle cx="359.3" cy="1352" r="7.6"/>
</g>
<g fill="none" stroke="#000" stroke-opacity="0.5" stroke-width="2">
<circle cx="184.7" cy="1348" r="6.9"/>
<circle cx="207.8" cy="1316.2" r="6.9"/>
<circle cx="219.5" cy="1325.3" r="6.9"/>
<circle cx="242" cy="1336.2" r="6.9"/>
<circle cx="253.7" cy="1334.4" r="6.9"/>
<circle cx="259" cy="1342" r="6.9"/>
<circle cx="278.3" cy="1335.3" r="6.9"/>
<circle cx="290.2" cy="1338.5" r="6.9"/>
<circle cx="290.2" cy="1351.8" r="6.9"/>
<circle cx="389.4" cy="1344.3" r="6.9"/>
<circle cx="432.4" cy="1367.8" r="6.9"/>
<circle cx="463.6" cy="1326.6" r="6.9"/>
<circle cx="469.4" cy="1344.4" r="6.9"/>
<circle cx="506.6" cy="1344.7" r="6.9"/>
<circle cx="534.2" cy="1345.1" r="6.9"/>
<circle cx="536.3" cy="1332.9" r="6.9"/>
<circle cx="559" cy="1305.7" r="6.9"/>
<circle cx="575.6" cy="1343.9" r="6.9"/>
<circle cx="578" cy="1344.7" r="6.9"/>
<circle cx="593.1" cy="1310.1" r="6.9"/>
<circle cx="607.2" cy="1343.5" r="6.9"/>
<circle cx="651.6" cy="1344.7" r="6.9"/>
<circle cx="666.9" cy="1336.2" r="6.9"/>
<circle cx="669.5" cy="1305.5" r="6.9"/>
<circle cx="680.4" cy="1365.9" r="6.9"/>
<circle cx="708.5" cy="1342.6" r="6.9"/>
<circle cx="717.2" cy="1335.7" r="6.9"/>
<circle cx="322.3" cy="1328" r="6.9"/>
<circle cx="322.7" cy="1332.5" r="6.9"/>
<circle cx="323" cy="1336.2" r="6.9"/>
<circle cx="323.3" cy="1339.2" r="6.9"/>
<circle cx="323.6" cy="1330.2" r="6.9"/>
<circle cx="323.9" cy="1342.2" r="6.9"/>
<circle cx="324.2" cy="1334.8" r="6.9"/>
<circle cx="324.5" cy="1344.5" r="6.9"/>
<circle cx="324.8" cy="1333.2" r="6.9"/>
<circle cx="325.1" cy="1338.5" r="6.9"/>
<circle cx="325.7" cy="1337" r="6.9"/>
<circle cx="358.6" cy="1317.5" r="6.9"/>
<circle cx="358.9" cy="1322.8" r="6.9"/>
<circle cx="359.2" cy="1337" r="6.9"/>
<circle cx="359.5" cy="1349" r="6.9"/>
<circle cx="359.7" cy="1354.6" r="6.9"/>
<circle cx="363.9" cy="1320.1" r="6.9"/>
<circle cx="363.9" cy="1379.4" r="6.9"/>
<circle cx="359" cy="1320.5" r="6.9"/>
<circle cx="359.3" cy="1352" r="6.9"/>
</g>
</g>
<rect x="148.4" y="1267.5" width="594.8" height="139.1" fill="none" stroke="#000" stroke-width="1.6"/>
<path d="M148.4 1406.6v-7.7M148.4 1267.5v7.7M324.55 1406.6v-7.7M324.55 1267.5v7.7M500.7 1406.6v-7.7M500.7 1267.5v7.7M676.85 1406.6v-7.7M676.85 1267.5v7.7" stroke="#000" stroke-width="1.6" fill="none"/>
<path d="M183.63 1406.6v-4.2M183.63 1267.5v4.2M218.86 1406.6v-4.2M218.86 1267.5v4.2M254.09 1406.6v-4.2M254.09 1267.5v4.2M289.32 1406.6v-4.2M289.32 1267.5v4.2M359.78 1406.6v-4.2M359.78 1267.5v4.2M395.01 1406.6v-4.2M395.01 1267.5v4.2M430.24 1406.6v-4.2M430.24 1267.5v4.2M465.47 1406.6v-4.2M465.47 1267.5v4.2M535.93 1406.6v-4.2M535.93 1267.5v4.2M571.16 1406.6v-4.2M571.16 1267.5v4.2M606.39 1406.6v-4.2M606.39 1267.5v4.2M641.62 1406.6v-4.2M641.62 1267.5v4.2M712.08 1406.6v-4.2M712.08 1267.5v4.2" stroke="#000" stroke-width="1.25" fill="none"/>
<path d="M148.4 1374.5h7.7M743.2 1374.5h-7.7M148.4 1337h7.7M743.2 1337h-7.7M148.4 1299.5h7.7M743.2 1299.5h-7.7" stroke="#000" stroke-width="1.6" fill="none"/>
<path d="M148.4 1404.5h4.2M743.2 1404.5h-4.2M148.4 1397h4.2M743.2 1397h-4.2M148.4 1389.5h4.2M743.2 1389.5h-4.2M148.4 1382h4.2M743.2 1382h-4.2M148.4 1367h4.2M743.2 1367h-4.2M148.4 1359.5h4.2M743.2 1359.5h-4.2M148.4 1352h4.2M743.2 1352h-4.2M148.4 1344.5h4.2M743.2 1344.5h-4.2M148.4 1329.5h4.2M743.2 1329.5h-4.2M148.4 1322h4.2M743.2 1322h-4.2M148.4 1314.5h4.2M743.2 1314.5h-4.2M148.4 1307h4.2M743.2 1307h-4.2M148.4 1292h4.2M743.2 1292h-4.2M148.4 1284.5h4.2M743.2 1284.5h-4.2M148.4 1277h4.2M743.2 1277h-4.2M148.4 1269.5h4.2M743.2 1269.5h-4.2" stroke="#000" stroke-width="1.25" fill="none"/>
<text x="139.8" y="1384.23" font-size="25.3" text-anchor="end">−5</text>
<text x="139.8" y="1346.73" font-size="25.3" text-anchor="end">0</text>
<text x="139.8" y="1309.23" font-size="25.3" text-anchor="end">5</text>
<text x="148.4" y="1433.6" font-size="25.3" text-anchor="middle">2002.5</text>
<text x="324.55" y="1433.6" font-size="25.3" text-anchor="middle">2007.5</text>
<text x="500.7" y="1433.6" font-size="25.3" text-anchor="middle">2012.5</text>
<text x="676.85" y="1433.6" font-size="25.3" text-anchor="middle">2017.5</text>
<text x="444.5" y="1469.3" font-size="28.2" text-anchor="middle">Epoch (yr)</text>
<text transform="translate(37 988.75) rotate(-90)" font-size="28.2" text-anchor="middle">RV (m/s)</text>
<text transform="translate(37.5 1337.55) rotate(-90)" font-size="28.2" text-anchor="middle">O-C</text>
<text transform="translate(684.6 789) scale(0.977 1)" font-size="33.7" text-anchor="end">HD 159062A</text>
<text transform="translate(905.7 1067) rotate(90)" font-size="28.2" text-anchor="middle" letter-spacing="0.15">Eccentricity</text>
<rect x="780.5" y="762" width="30.4" height="609.6" fill="url(#vir)"/>
<rect x="780.5" y="762" width="30.4" height="609.6" fill="none" stroke="#000" stroke-width="1.6"/>
<text x="826" y="1316.52" font-size="25.3" text-anchor="start">0.05</text>
<text x="826" y="1247.31" font-size="25.3" text-anchor="start">0.10</text>
<text x="826" y="1178.1" font-size="25.3" text-anchor="start">0.15</text>
<text x="826" y="1108.89" font-size="25.3" text-anchor="start">0.20</text>
<text x="826" y="1039.68" font-size="25.3" text-anchor="start">0.25</text>
<text x="826" y="970.47" font-size="25.3" text-anchor="start">0.30</text>
<text x="826" y="901.26" font-size="25.3" text-anchor="start">0.35</text>
<text x="826" y="832.05" font-size="25.3" text-anchor="start">0.40</text>
<path d="M810.9 1305.99h7.7M810.9 1236.78h7.7M810.9 1167.57h7.7M810.9 1098.36h7.7M810.9 1029.15h7.7M810.9 959.94h7.7M810.9 890.73h7.7M810.9 821.52h7.7" stroke="#000" stroke-width="1.6" fill="none"/>
</g>
</svg></body></html>
